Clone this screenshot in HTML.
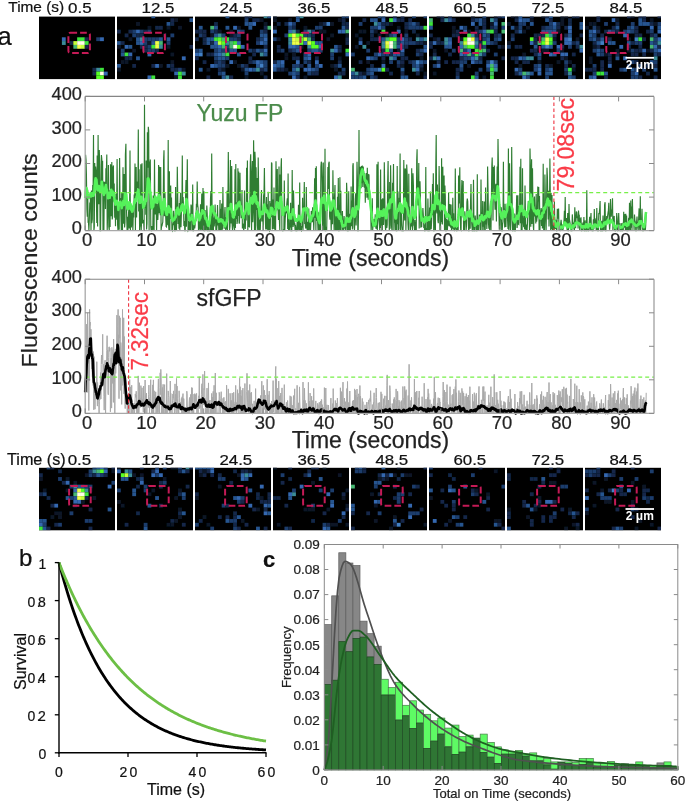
<!DOCTYPE html><html><head><meta charset="utf-8"><style>html,body{margin:0;padding:0;background:#fff;width:685px;height:802px;overflow:hidden} svg{display:block} text{font-family:'Liberation Sans', Arial, Helvetica, sans-serif}</style></head><body>
<svg width="685" height="802" viewBox="0 0 685 802">
<rect width="685" height="802" fill="#fff"/>
<defs><filter id="pblur" x="-5%" y="-5%" width="110%" height="110%"><feGaussianBlur stdDeviation="0.45"/></filter></defs>
<clipPath id="cp1"><rect x="39" y="16.6" width="76" height="62.5"/></clipPath>
<rect x="39" y="16.6" width="76" height="62.5" fill="#000"/>
<g clip-path="url(#cp1)"><g filter="url(#pblur)">
<rect x="61.89" y="37.30" width="3.83" height="3.83" fill="#3468b0"/>
<rect x="77.15" y="37.30" width="3.83" height="3.83" fill="#3ee43c"/>
<rect x="80.97" y="37.30" width="3.83" height="3.83" fill="#3ee43c"/>
<rect x="84.78" y="37.30" width="3.83" height="3.83" fill="#122848"/>
<rect x="96.22" y="37.30" width="3.83" height="3.83" fill="#1c3c6c"/>
<rect x="100.04" y="37.30" width="3.83" height="3.83" fill="#3468b0"/>
<rect x="61.89" y="41.11" width="3.83" height="3.83" fill="#3a8c98"/>
<rect x="69.52" y="41.11" width="3.83" height="3.83" fill="#122848"/>
<rect x="73.34" y="41.11" width="3.83" height="3.83" fill="#c4ff3a"/>
<rect x="77.15" y="41.11" width="3.83" height="3.83" fill="#ffffe8"/>
<rect x="80.97" y="41.11" width="3.83" height="3.83" fill="#ffffe8"/>
<rect x="84.78" y="41.11" width="3.83" height="3.83" fill="#3ee43c"/>
<rect x="73.34" y="44.93" width="3.83" height="3.83" fill="#46b872"/>
<rect x="77.15" y="44.93" width="3.83" height="3.83" fill="#eeff4c"/>
<rect x="80.97" y="44.93" width="3.83" height="3.83" fill="#c4ff3a"/>
<rect x="84.78" y="44.93" width="3.83" height="3.83" fill="#122848"/>
<rect x="92.41" y="67.81" width="3.83" height="3.83" fill="#122848"/>
<rect x="96.22" y="67.81" width="3.83" height="3.83" fill="#3a8c98"/>
<rect x="100.04" y="67.81" width="3.83" height="3.83" fill="#3ee43c"/>
<rect x="92.41" y="71.63" width="3.83" height="3.83" fill="#122848"/>
<rect x="96.22" y="71.63" width="3.83" height="3.83" fill="#58ff26"/>
<rect x="100.04" y="71.63" width="3.83" height="3.83" fill="#ffffe8"/>
<rect x="103.86" y="71.63" width="3.83" height="3.83" fill="#3468b0"/>
<rect x="96.22" y="75.45" width="3.83" height="3.83" fill="#58ff26"/>
<rect x="100.04" y="75.45" width="3.83" height="3.83" fill="#58ff26"/>
</g></g>
<rect x="68.40" y="32.80" width="21.50" height="20.30" rx="2" fill="none" stroke="#c41a56" stroke-width="2" stroke-dasharray="6.7 3"/>

<clipPath id="cp2"><rect x="117" y="16.6" width="76" height="62.5"/></clipPath>
<rect x="117" y="16.6" width="76" height="62.5" fill="#000"/>
<g clip-path="url(#cp2)"><g filter="url(#pblur)">
<rect x="151.34" y="14.41" width="3.83" height="3.83" fill="#27548f"/>
<rect x="170.41" y="18.22" width="3.83" height="3.83" fill="#122848"/>
<rect x="174.22" y="18.22" width="3.83" height="3.83" fill="#0a1628"/>
<rect x="189.49" y="18.22" width="3.83" height="3.83" fill="#27548f"/>
<rect x="136.07" y="22.04" width="3.83" height="3.83" fill="#0a1628"/>
<rect x="166.59" y="22.04" width="3.83" height="3.83" fill="#27548f"/>
<rect x="170.41" y="22.04" width="3.83" height="3.83" fill="#122848"/>
<rect x="147.52" y="25.85" width="3.83" height="3.83" fill="#0a1628"/>
<rect x="155.15" y="25.85" width="3.83" height="3.83" fill="#122848"/>
<rect x="158.97" y="25.85" width="3.83" height="3.83" fill="#122848"/>
<rect x="166.59" y="25.85" width="3.83" height="3.83" fill="#0a1628"/>
<rect x="178.04" y="25.85" width="3.83" height="3.83" fill="#0a1628"/>
<rect x="117.00" y="29.67" width="3.83" height="3.83" fill="#122848"/>
<rect x="128.44" y="29.67" width="3.83" height="3.83" fill="#122848"/>
<rect x="132.26" y="29.67" width="3.83" height="3.83" fill="#1c3c6c"/>
<rect x="136.07" y="29.67" width="3.83" height="3.83" fill="#3468b0"/>
<rect x="139.89" y="29.67" width="3.83" height="3.83" fill="#1c3c6c"/>
<rect x="143.70" y="29.67" width="3.83" height="3.83" fill="#122848"/>
<rect x="147.52" y="29.67" width="3.83" height="3.83" fill="#1c3c6c"/>
<rect x="124.63" y="33.48" width="3.83" height="3.83" fill="#122848"/>
<rect x="132.26" y="33.48" width="3.83" height="3.83" fill="#1c3c6c"/>
<rect x="136.07" y="33.48" width="3.83" height="3.83" fill="#122848"/>
<rect x="139.89" y="33.48" width="3.83" height="3.83" fill="#122848"/>
<rect x="162.78" y="33.48" width="3.83" height="3.83" fill="#0a1628"/>
<rect x="170.41" y="33.48" width="3.83" height="3.83" fill="#1c3c6c"/>
<rect x="128.44" y="37.30" width="3.83" height="3.83" fill="#0a1628"/>
<rect x="136.07" y="37.30" width="3.83" height="3.83" fill="#27548f"/>
<rect x="139.89" y="37.30" width="3.83" height="3.83" fill="#3a8c98"/>
<rect x="143.70" y="37.30" width="3.83" height="3.83" fill="#1c3c6c"/>
<rect x="147.52" y="37.30" width="3.83" height="3.83" fill="#1c3c6c"/>
<rect x="151.34" y="37.30" width="3.83" height="3.83" fill="#1c3c6c"/>
<rect x="155.15" y="37.30" width="3.83" height="3.83" fill="#1c3c6c"/>
<rect x="158.97" y="37.30" width="3.83" height="3.83" fill="#27548f"/>
<rect x="166.59" y="37.30" width="3.83" height="3.83" fill="#27548f"/>
<rect x="117.00" y="41.11" width="3.83" height="3.83" fill="#27548f"/>
<rect x="120.81" y="41.11" width="3.83" height="3.83" fill="#122848"/>
<rect x="136.07" y="41.11" width="3.83" height="3.83" fill="#27548f"/>
<rect x="139.89" y="41.11" width="3.83" height="3.83" fill="#3468b0"/>
<rect x="143.70" y="41.11" width="3.83" height="3.83" fill="#1c3c6c"/>
<rect x="147.52" y="41.11" width="3.83" height="3.83" fill="#0a1628"/>
<rect x="151.34" y="41.11" width="3.83" height="3.83" fill="#27548f"/>
<rect x="155.15" y="41.11" width="3.83" height="3.83" fill="#eeff4c"/>
<rect x="158.97" y="41.11" width="3.83" height="3.83" fill="#46b872"/>
<rect x="166.59" y="41.11" width="3.83" height="3.83" fill="#1c3c6c"/>
<rect x="117.00" y="44.93" width="3.83" height="3.83" fill="#0a1628"/>
<rect x="124.63" y="44.93" width="3.83" height="3.83" fill="#3468b0"/>
<rect x="128.44" y="44.93" width="3.83" height="3.83" fill="#27548f"/>
<rect x="139.89" y="44.93" width="3.83" height="3.83" fill="#122848"/>
<rect x="143.70" y="44.93" width="3.83" height="3.83" fill="#122848"/>
<rect x="147.52" y="44.93" width="3.83" height="3.83" fill="#1c3c6c"/>
<rect x="151.34" y="44.93" width="3.83" height="3.83" fill="#3ee43c"/>
<rect x="155.15" y="44.93" width="3.83" height="3.83" fill="#eeff4c"/>
<rect x="158.97" y="44.93" width="3.83" height="3.83" fill="#3a8c98"/>
<rect x="166.59" y="44.93" width="3.83" height="3.83" fill="#0a1628"/>
<rect x="189.49" y="44.93" width="3.83" height="3.83" fill="#122848"/>
<rect x="120.81" y="48.74" width="3.83" height="3.83" fill="#1c3c6c"/>
<rect x="132.26" y="48.74" width="3.83" height="3.83" fill="#0a1628"/>
<rect x="143.70" y="48.74" width="3.83" height="3.83" fill="#122848"/>
<rect x="147.52" y="48.74" width="3.83" height="3.83" fill="#1c3c6c"/>
<rect x="151.34" y="48.74" width="3.83" height="3.83" fill="#1c3c6c"/>
<rect x="155.15" y="48.74" width="3.83" height="3.83" fill="#122848"/>
<rect x="120.81" y="52.55" width="3.83" height="3.83" fill="#27548f"/>
<rect x="124.63" y="52.55" width="3.83" height="3.83" fill="#3ee43c"/>
<rect x="128.44" y="52.55" width="3.83" height="3.83" fill="#3468b0"/>
<rect x="147.52" y="52.55" width="3.83" height="3.83" fill="#3468b0"/>
<rect x="170.41" y="52.55" width="3.83" height="3.83" fill="#0a1628"/>
<rect x="124.63" y="56.37" width="3.83" height="3.83" fill="#122848"/>
<rect x="128.44" y="56.37" width="3.83" height="3.83" fill="#122848"/>
<rect x="136.07" y="56.37" width="3.83" height="3.83" fill="#27548f"/>
<rect x="181.86" y="56.37" width="3.83" height="3.83" fill="#3468b0"/>
<rect x="120.81" y="60.19" width="3.83" height="3.83" fill="#0a1628"/>
<rect x="124.63" y="60.19" width="3.83" height="3.83" fill="#0a1628"/>
<rect x="170.41" y="60.19" width="3.83" height="3.83" fill="#0a1628"/>
<rect x="117.00" y="64.00" width="3.83" height="3.83" fill="#27548f"/>
<rect x="132.26" y="64.00" width="3.83" height="3.83" fill="#122848"/>
<rect x="151.34" y="64.00" width="3.83" height="3.83" fill="#122848"/>
<rect x="155.15" y="64.00" width="3.83" height="3.83" fill="#3468b0"/>
<rect x="158.97" y="64.00" width="3.83" height="3.83" fill="#0a1628"/>
<rect x="166.59" y="64.00" width="3.83" height="3.83" fill="#1c3c6c"/>
<rect x="170.41" y="64.00" width="3.83" height="3.83" fill="#122848"/>
<rect x="117.00" y="67.81" width="3.83" height="3.83" fill="#0a1628"/>
<rect x="170.41" y="67.81" width="3.83" height="3.83" fill="#122848"/>
<rect x="174.22" y="67.81" width="3.83" height="3.83" fill="#122848"/>
<rect x="178.04" y="67.81" width="3.83" height="3.83" fill="#1c3c6c"/>
<rect x="181.86" y="67.81" width="3.83" height="3.83" fill="#0a1628"/>
<rect x="174.22" y="71.63" width="3.83" height="3.83" fill="#3468b0"/>
<rect x="178.04" y="71.63" width="3.83" height="3.83" fill="#3ee43c"/>
<rect x="181.86" y="71.63" width="3.83" height="3.83" fill="#3a8c98"/>
<rect x="147.52" y="75.45" width="3.83" height="3.83" fill="#3468b0"/>
<rect x="151.34" y="75.45" width="3.83" height="3.83" fill="#3ee43c"/>
<rect x="174.22" y="75.45" width="3.83" height="3.83" fill="#0a1628"/>
<rect x="178.04" y="75.45" width="3.83" height="3.83" fill="#3ee43c"/>
</g></g>
<rect x="143.40" y="32.80" width="21.50" height="20.30" rx="2" fill="none" stroke="#c41a56" stroke-width="2" stroke-dasharray="6.7 3"/>
<text x="158.0" y="13.4" font-size="15.2" textLength="32.8" lengthAdjust="spacingAndGlyphs" text-anchor="middle" fill="#111" stroke="#111" stroke-width="0.22">12.5</text>
<clipPath id="cp3"><rect x="195" y="16.6" width="76" height="62.5"/></clipPath>
<rect x="195" y="16.6" width="76" height="62.5" fill="#000"/>
<g clip-path="url(#cp3)"><g filter="url(#pblur)">
<rect x="225.52" y="14.41" width="3.83" height="3.83" fill="#27548f"/>
<rect x="244.59" y="14.41" width="3.83" height="3.83" fill="#122848"/>
<rect x="248.41" y="14.41" width="3.83" height="3.83" fill="#122848"/>
<rect x="263.67" y="14.41" width="3.83" height="3.83" fill="#3a8c98"/>
<rect x="267.49" y="14.41" width="3.83" height="3.83" fill="#27548f"/>
<rect x="244.59" y="18.22" width="3.83" height="3.83" fill="#1c3c6c"/>
<rect x="252.22" y="18.22" width="3.83" height="3.83" fill="#122848"/>
<rect x="256.04" y="18.22" width="3.83" height="3.83" fill="#122848"/>
<rect x="259.86" y="18.22" width="3.83" height="3.83" fill="#0a1628"/>
<rect x="214.07" y="22.04" width="3.83" height="3.83" fill="#122848"/>
<rect x="244.59" y="22.04" width="3.83" height="3.83" fill="#27548f"/>
<rect x="248.41" y="22.04" width="3.83" height="3.83" fill="#27548f"/>
<rect x="252.22" y="22.04" width="3.83" height="3.83" fill="#3468b0"/>
<rect x="263.67" y="22.04" width="3.83" height="3.83" fill="#0a1628"/>
<rect x="198.81" y="25.85" width="3.83" height="3.83" fill="#27548f"/>
<rect x="210.26" y="25.85" width="3.83" height="3.83" fill="#46b872"/>
<rect x="214.07" y="25.85" width="3.83" height="3.83" fill="#27548f"/>
<rect x="225.52" y="25.85" width="3.83" height="3.83" fill="#27548f"/>
<rect x="233.15" y="25.85" width="3.83" height="3.83" fill="#3468b0"/>
<rect x="236.97" y="25.85" width="3.83" height="3.83" fill="#0a1628"/>
<rect x="248.41" y="25.85" width="3.83" height="3.83" fill="#27548f"/>
<rect x="263.67" y="25.85" width="3.83" height="3.83" fill="#122848"/>
<rect x="267.49" y="25.85" width="3.83" height="3.83" fill="#46b872"/>
<rect x="195.00" y="29.67" width="3.83" height="3.83" fill="#122848"/>
<rect x="198.81" y="29.67" width="3.83" height="3.83" fill="#122848"/>
<rect x="202.63" y="29.67" width="3.83" height="3.83" fill="#122848"/>
<rect x="210.26" y="29.67" width="3.83" height="3.83" fill="#1c3c6c"/>
<rect x="214.07" y="29.67" width="3.83" height="3.83" fill="#122848"/>
<rect x="217.89" y="29.67" width="3.83" height="3.83" fill="#0a1628"/>
<rect x="229.34" y="29.67" width="3.83" height="3.83" fill="#0a1628"/>
<rect x="236.97" y="29.67" width="3.83" height="3.83" fill="#27548f"/>
<rect x="240.78" y="29.67" width="3.83" height="3.83" fill="#1c3c6c"/>
<rect x="259.86" y="29.67" width="3.83" height="3.83" fill="#1c3c6c"/>
<rect x="263.67" y="29.67" width="3.83" height="3.83" fill="#122848"/>
<rect x="198.81" y="33.48" width="3.83" height="3.83" fill="#1c3c6c"/>
<rect x="202.63" y="33.48" width="3.83" height="3.83" fill="#122848"/>
<rect x="210.26" y="33.48" width="3.83" height="3.83" fill="#0a1628"/>
<rect x="214.07" y="33.48" width="3.83" height="3.83" fill="#27548f"/>
<rect x="217.89" y="33.48" width="3.83" height="3.83" fill="#3a8c98"/>
<rect x="221.70" y="33.48" width="3.83" height="3.83" fill="#1c3c6c"/>
<rect x="229.34" y="33.48" width="3.83" height="3.83" fill="#0a1628"/>
<rect x="233.15" y="33.48" width="3.83" height="3.83" fill="#122848"/>
<rect x="236.97" y="33.48" width="3.83" height="3.83" fill="#1c3c6c"/>
<rect x="259.86" y="33.48" width="3.83" height="3.83" fill="#27548f"/>
<rect x="263.67" y="33.48" width="3.83" height="3.83" fill="#27548f"/>
<rect x="195.00" y="37.30" width="3.83" height="3.83" fill="#122848"/>
<rect x="202.63" y="37.30" width="3.83" height="3.83" fill="#122848"/>
<rect x="206.44" y="37.30" width="3.83" height="3.83" fill="#27548f"/>
<rect x="210.26" y="37.30" width="3.83" height="3.83" fill="#27548f"/>
<rect x="214.07" y="37.30" width="3.83" height="3.83" fill="#3ee43c"/>
<rect x="217.89" y="37.30" width="3.83" height="3.83" fill="#58ff26"/>
<rect x="221.70" y="37.30" width="3.83" height="3.83" fill="#46b872"/>
<rect x="225.52" y="37.30" width="3.83" height="3.83" fill="#3ee43c"/>
<rect x="229.34" y="37.30" width="3.83" height="3.83" fill="#1c3c6c"/>
<rect x="233.15" y="37.30" width="3.83" height="3.83" fill="#1c3c6c"/>
<rect x="236.97" y="37.30" width="3.83" height="3.83" fill="#122848"/>
<rect x="256.04" y="37.30" width="3.83" height="3.83" fill="#122848"/>
<rect x="259.86" y="37.30" width="3.83" height="3.83" fill="#1c3c6c"/>
<rect x="263.67" y="37.30" width="3.83" height="3.83" fill="#3468b0"/>
<rect x="202.63" y="41.11" width="3.83" height="3.83" fill="#122848"/>
<rect x="206.44" y="41.11" width="3.83" height="3.83" fill="#27548f"/>
<rect x="210.26" y="41.11" width="3.83" height="3.83" fill="#122848"/>
<rect x="214.07" y="41.11" width="3.83" height="3.83" fill="#3468b0"/>
<rect x="217.89" y="41.11" width="3.83" height="3.83" fill="#c4ff3a"/>
<rect x="221.70" y="41.11" width="3.83" height="3.83" fill="#58ff26"/>
<rect x="225.52" y="41.11" width="3.83" height="3.83" fill="#3a8c98"/>
<rect x="229.34" y="41.11" width="3.83" height="3.83" fill="#46b872"/>
<rect x="233.15" y="41.11" width="3.83" height="3.83" fill="#3ee43c"/>
<rect x="236.97" y="41.11" width="3.83" height="3.83" fill="#3468b0"/>
<rect x="256.04" y="41.11" width="3.83" height="3.83" fill="#1c3c6c"/>
<rect x="259.86" y="41.11" width="3.83" height="3.83" fill="#3468b0"/>
<rect x="263.67" y="41.11" width="3.83" height="3.83" fill="#27548f"/>
<rect x="210.26" y="44.93" width="3.83" height="3.83" fill="#27548f"/>
<rect x="214.07" y="44.93" width="3.83" height="3.83" fill="#27548f"/>
<rect x="217.89" y="44.93" width="3.83" height="3.83" fill="#3468b0"/>
<rect x="221.70" y="44.93" width="3.83" height="3.83" fill="#46b872"/>
<rect x="225.52" y="44.93" width="3.83" height="3.83" fill="#1c3c6c"/>
<rect x="229.34" y="44.93" width="3.83" height="3.83" fill="#46b872"/>
<rect x="233.15" y="44.93" width="3.83" height="3.83" fill="#ffffe8"/>
<rect x="236.97" y="44.93" width="3.83" height="3.83" fill="#58ff26"/>
<rect x="240.78" y="44.93" width="3.83" height="3.83" fill="#3468b0"/>
<rect x="263.67" y="44.93" width="3.83" height="3.83" fill="#122848"/>
<rect x="195.00" y="48.74" width="3.83" height="3.83" fill="#1c3c6c"/>
<rect x="198.81" y="48.74" width="3.83" height="3.83" fill="#27548f"/>
<rect x="214.07" y="48.74" width="3.83" height="3.83" fill="#1c3c6c"/>
<rect x="217.89" y="48.74" width="3.83" height="3.83" fill="#27548f"/>
<rect x="221.70" y="48.74" width="3.83" height="3.83" fill="#1c3c6c"/>
<rect x="225.52" y="48.74" width="3.83" height="3.83" fill="#122848"/>
<rect x="229.34" y="48.74" width="3.83" height="3.83" fill="#27548f"/>
<rect x="233.15" y="48.74" width="3.83" height="3.83" fill="#27548f"/>
<rect x="248.41" y="48.74" width="3.83" height="3.83" fill="#1c3c6c"/>
<rect x="252.22" y="48.74" width="3.83" height="3.83" fill="#122848"/>
<rect x="256.04" y="48.74" width="3.83" height="3.83" fill="#27548f"/>
<rect x="259.86" y="48.74" width="3.83" height="3.83" fill="#1c3c6c"/>
<rect x="263.67" y="48.74" width="3.83" height="3.83" fill="#3468b0"/>
<rect x="195.00" y="52.55" width="3.83" height="3.83" fill="#3468b0"/>
<rect x="198.81" y="52.55" width="3.83" height="3.83" fill="#4380c4"/>
<rect x="206.44" y="52.55" width="3.83" height="3.83" fill="#122848"/>
<rect x="210.26" y="52.55" width="3.83" height="3.83" fill="#122848"/>
<rect x="214.07" y="52.55" width="3.83" height="3.83" fill="#27548f"/>
<rect x="217.89" y="52.55" width="3.83" height="3.83" fill="#3468b0"/>
<rect x="221.70" y="52.55" width="3.83" height="3.83" fill="#3a8c98"/>
<rect x="225.52" y="52.55" width="3.83" height="3.83" fill="#3ee43c"/>
<rect x="236.97" y="52.55" width="3.83" height="3.83" fill="#27548f"/>
<rect x="252.22" y="52.55" width="3.83" height="3.83" fill="#122848"/>
<rect x="259.86" y="52.55" width="3.83" height="3.83" fill="#3a8c98"/>
<rect x="263.67" y="52.55" width="3.83" height="3.83" fill="#27548f"/>
<rect x="195.00" y="56.37" width="3.83" height="3.83" fill="#122848"/>
<rect x="214.07" y="56.37" width="3.83" height="3.83" fill="#1c3c6c"/>
<rect x="217.89" y="56.37" width="3.83" height="3.83" fill="#27548f"/>
<rect x="221.70" y="56.37" width="3.83" height="3.83" fill="#27548f"/>
<rect x="225.52" y="56.37" width="3.83" height="3.83" fill="#1c3c6c"/>
<rect x="248.41" y="56.37" width="3.83" height="3.83" fill="#122848"/>
<rect x="202.63" y="60.19" width="3.83" height="3.83" fill="#122848"/>
<rect x="214.07" y="60.19" width="3.83" height="3.83" fill="#122848"/>
<rect x="217.89" y="60.19" width="3.83" height="3.83" fill="#1c3c6c"/>
<rect x="221.70" y="60.19" width="3.83" height="3.83" fill="#122848"/>
<rect x="229.34" y="60.19" width="3.83" height="3.83" fill="#3468b0"/>
<rect x="233.15" y="60.19" width="3.83" height="3.83" fill="#0a1628"/>
<rect x="248.41" y="60.19" width="3.83" height="3.83" fill="#122848"/>
<rect x="252.22" y="60.19" width="3.83" height="3.83" fill="#1c3c6c"/>
<rect x="256.04" y="60.19" width="3.83" height="3.83" fill="#3468b0"/>
<rect x="259.86" y="60.19" width="3.83" height="3.83" fill="#27548f"/>
<rect x="263.67" y="60.19" width="3.83" height="3.83" fill="#1c3c6c"/>
<rect x="210.26" y="64.00" width="3.83" height="3.83" fill="#3468b0"/>
<rect x="214.07" y="64.00" width="3.83" height="3.83" fill="#27548f"/>
<rect x="217.89" y="64.00" width="3.83" height="3.83" fill="#1c3c6c"/>
<rect x="221.70" y="64.00" width="3.83" height="3.83" fill="#1c3c6c"/>
<rect x="225.52" y="64.00" width="3.83" height="3.83" fill="#0a1628"/>
<rect x="236.97" y="64.00" width="3.83" height="3.83" fill="#0a1628"/>
<rect x="240.78" y="64.00" width="3.83" height="3.83" fill="#1c3c6c"/>
<rect x="244.59" y="64.00" width="3.83" height="3.83" fill="#122848"/>
<rect x="256.04" y="64.00" width="3.83" height="3.83" fill="#27548f"/>
<rect x="259.86" y="64.00" width="3.83" height="3.83" fill="#4380c4"/>
<rect x="263.67" y="64.00" width="3.83" height="3.83" fill="#1c3c6c"/>
<rect x="198.81" y="67.81" width="3.83" height="3.83" fill="#27548f"/>
<rect x="206.44" y="67.81" width="3.83" height="3.83" fill="#0a1628"/>
<rect x="217.89" y="67.81" width="3.83" height="3.83" fill="#122848"/>
<rect x="221.70" y="67.81" width="3.83" height="3.83" fill="#0a1628"/>
<rect x="240.78" y="67.81" width="3.83" height="3.83" fill="#0a1628"/>
<rect x="244.59" y="67.81" width="3.83" height="3.83" fill="#27548f"/>
<rect x="248.41" y="67.81" width="3.83" height="3.83" fill="#3468b0"/>
<rect x="252.22" y="67.81" width="3.83" height="3.83" fill="#27548f"/>
<rect x="256.04" y="67.81" width="3.83" height="3.83" fill="#3a8c98"/>
<rect x="259.86" y="67.81" width="3.83" height="3.83" fill="#122848"/>
<rect x="263.67" y="67.81" width="3.83" height="3.83" fill="#1c3c6c"/>
<rect x="217.89" y="71.63" width="3.83" height="3.83" fill="#1c3c6c"/>
<rect x="221.70" y="71.63" width="3.83" height="3.83" fill="#27548f"/>
<rect x="244.59" y="71.63" width="3.83" height="3.83" fill="#1c3c6c"/>
<rect x="259.86" y="71.63" width="3.83" height="3.83" fill="#0a1628"/>
<rect x="206.44" y="75.45" width="3.83" height="3.83" fill="#122848"/>
<rect x="221.70" y="75.45" width="3.83" height="3.83" fill="#27548f"/>
<rect x="225.52" y="75.45" width="3.83" height="3.83" fill="#3a8c98"/>
<rect x="229.34" y="75.45" width="3.83" height="3.83" fill="#122848"/>
<rect x="244.59" y="75.45" width="3.83" height="3.83" fill="#0a1628"/>
<rect x="263.67" y="75.45" width="3.83" height="3.83" fill="#122848"/>
</g></g>
<rect x="226.00" y="32.80" width="21.50" height="20.30" rx="2" fill="none" stroke="#c41a56" stroke-width="2" stroke-dasharray="6.7 3"/>
<text x="236.0" y="13.4" font-size="15.2" textLength="32.8" lengthAdjust="spacingAndGlyphs" text-anchor="middle" fill="#111" stroke="#111" stroke-width="0.22">24.5</text>
<clipPath id="cp4"><rect x="273" y="16.6" width="76" height="62.5"/></clipPath>
<rect x="273" y="16.6" width="76" height="62.5" fill="#000"/>
<g clip-path="url(#cp4)"><g filter="url(#pblur)">
<rect x="273.00" y="14.41" width="3.83" height="3.83" fill="#0a1628"/>
<rect x="295.89" y="14.41" width="3.83" height="3.83" fill="#27548f"/>
<rect x="299.70" y="14.41" width="3.83" height="3.83" fill="#3a8c98"/>
<rect x="341.67" y="14.41" width="3.83" height="3.83" fill="#1c3c6c"/>
<rect x="345.49" y="14.41" width="3.83" height="3.83" fill="#1c3c6c"/>
<rect x="273.00" y="18.22" width="3.83" height="3.83" fill="#0a1628"/>
<rect x="288.26" y="18.22" width="3.83" height="3.83" fill="#0a1628"/>
<rect x="295.89" y="18.22" width="3.83" height="3.83" fill="#27548f"/>
<rect x="337.86" y="18.22" width="3.83" height="3.83" fill="#0a1628"/>
<rect x="341.67" y="18.22" width="3.83" height="3.83" fill="#122848"/>
<rect x="276.81" y="22.04" width="3.83" height="3.83" fill="#122848"/>
<rect x="284.44" y="22.04" width="3.83" height="3.83" fill="#122848"/>
<rect x="288.26" y="22.04" width="3.83" height="3.83" fill="#3468b0"/>
<rect x="292.07" y="22.04" width="3.83" height="3.83" fill="#1c3c6c"/>
<rect x="318.78" y="22.04" width="3.83" height="3.83" fill="#0a1628"/>
<rect x="322.60" y="22.04" width="3.83" height="3.83" fill="#122848"/>
<rect x="326.41" y="22.04" width="3.83" height="3.83" fill="#4380c4"/>
<rect x="330.23" y="22.04" width="3.83" height="3.83" fill="#0a1628"/>
<rect x="341.67" y="22.04" width="3.83" height="3.83" fill="#122848"/>
<rect x="345.49" y="22.04" width="3.83" height="3.83" fill="#122848"/>
<rect x="273.00" y="25.85" width="3.83" height="3.83" fill="#0a1628"/>
<rect x="288.26" y="25.85" width="3.83" height="3.83" fill="#1c3c6c"/>
<rect x="292.07" y="25.85" width="3.83" height="3.83" fill="#122848"/>
<rect x="303.52" y="25.85" width="3.83" height="3.83" fill="#0a1628"/>
<rect x="314.96" y="25.85" width="3.83" height="3.83" fill="#1c3c6c"/>
<rect x="318.78" y="25.85" width="3.83" height="3.83" fill="#1c3c6c"/>
<rect x="341.67" y="25.85" width="3.83" height="3.83" fill="#27548f"/>
<rect x="345.49" y="25.85" width="3.83" height="3.83" fill="#122848"/>
<rect x="273.00" y="29.67" width="3.83" height="3.83" fill="#3468b0"/>
<rect x="288.26" y="29.67" width="3.83" height="3.83" fill="#3468b0"/>
<rect x="292.07" y="29.67" width="3.83" height="3.83" fill="#3a8c98"/>
<rect x="295.89" y="29.67" width="3.83" height="3.83" fill="#122848"/>
<rect x="303.52" y="29.67" width="3.83" height="3.83" fill="#1c3c6c"/>
<rect x="307.33" y="29.67" width="3.83" height="3.83" fill="#3a8c98"/>
<rect x="311.15" y="29.67" width="3.83" height="3.83" fill="#1c3c6c"/>
<rect x="318.78" y="29.67" width="3.83" height="3.83" fill="#0a1628"/>
<rect x="322.60" y="29.67" width="3.83" height="3.83" fill="#0a1628"/>
<rect x="337.86" y="29.67" width="3.83" height="3.83" fill="#3468b0"/>
<rect x="341.67" y="29.67" width="3.83" height="3.83" fill="#3468b0"/>
<rect x="345.49" y="29.67" width="3.83" height="3.83" fill="#46b872"/>
<rect x="284.44" y="33.48" width="3.83" height="3.83" fill="#1c3c6c"/>
<rect x="288.26" y="33.48" width="3.83" height="3.83" fill="#58ff26"/>
<rect x="292.07" y="33.48" width="3.83" height="3.83" fill="#eeff4c"/>
<rect x="295.89" y="33.48" width="3.83" height="3.83" fill="#58ff26"/>
<rect x="299.70" y="33.48" width="3.83" height="3.83" fill="#58ff26"/>
<rect x="303.52" y="33.48" width="3.83" height="3.83" fill="#1c3c6c"/>
<rect x="307.33" y="33.48" width="3.83" height="3.83" fill="#1c3c6c"/>
<rect x="311.15" y="33.48" width="3.83" height="3.83" fill="#122848"/>
<rect x="330.23" y="33.48" width="3.83" height="3.83" fill="#0a1628"/>
<rect x="345.49" y="33.48" width="3.83" height="3.83" fill="#0a1628"/>
<rect x="273.00" y="37.30" width="3.83" height="3.83" fill="#1c3c6c"/>
<rect x="276.81" y="37.30" width="3.83" height="3.83" fill="#0a1628"/>
<rect x="288.26" y="37.30" width="3.83" height="3.83" fill="#3a8c98"/>
<rect x="292.07" y="37.30" width="3.83" height="3.83" fill="#eeff4c"/>
<rect x="295.89" y="37.30" width="3.83" height="3.83" fill="#c4ff3a"/>
<rect x="299.70" y="37.30" width="3.83" height="3.83" fill="#58ff26"/>
<rect x="303.52" y="37.30" width="3.83" height="3.83" fill="#c4ff3a"/>
<rect x="307.33" y="37.30" width="3.83" height="3.83" fill="#46b872"/>
<rect x="311.15" y="37.30" width="3.83" height="3.83" fill="#122848"/>
<rect x="326.41" y="37.30" width="3.83" height="3.83" fill="#0a1628"/>
<rect x="345.49" y="37.30" width="3.83" height="3.83" fill="#122848"/>
<rect x="288.26" y="41.11" width="3.83" height="3.83" fill="#3a8c98"/>
<rect x="292.07" y="41.11" width="3.83" height="3.83" fill="#eeff4c"/>
<rect x="295.89" y="41.11" width="3.83" height="3.83" fill="#eeff4c"/>
<rect x="299.70" y="41.11" width="3.83" height="3.83" fill="#58ff26"/>
<rect x="303.52" y="41.11" width="3.83" height="3.83" fill="#3468b0"/>
<rect x="307.33" y="41.11" width="3.83" height="3.83" fill="#c4ff3a"/>
<rect x="311.15" y="41.11" width="3.83" height="3.83" fill="#58ff26"/>
<rect x="314.96" y="41.11" width="3.83" height="3.83" fill="#27548f"/>
<rect x="318.78" y="41.11" width="3.83" height="3.83" fill="#27548f"/>
<rect x="345.49" y="41.11" width="3.83" height="3.83" fill="#122848"/>
<rect x="276.81" y="44.93" width="3.83" height="3.83" fill="#122848"/>
<rect x="288.26" y="44.93" width="3.83" height="3.83" fill="#3468b0"/>
<rect x="292.07" y="44.93" width="3.83" height="3.83" fill="#3468b0"/>
<rect x="295.89" y="44.93" width="3.83" height="3.83" fill="#27548f"/>
<rect x="299.70" y="44.93" width="3.83" height="3.83" fill="#0a1628"/>
<rect x="307.33" y="44.93" width="3.83" height="3.83" fill="#3a8c98"/>
<rect x="311.15" y="44.93" width="3.83" height="3.83" fill="#58ff26"/>
<rect x="314.96" y="44.93" width="3.83" height="3.83" fill="#58ff26"/>
<rect x="318.78" y="44.93" width="3.83" height="3.83" fill="#3468b0"/>
<rect x="334.04" y="44.93" width="3.83" height="3.83" fill="#27548f"/>
<rect x="337.86" y="44.93" width="3.83" height="3.83" fill="#122848"/>
<rect x="276.81" y="48.74" width="3.83" height="3.83" fill="#122848"/>
<rect x="280.63" y="48.74" width="3.83" height="3.83" fill="#1c3c6c"/>
<rect x="288.26" y="48.74" width="3.83" height="3.83" fill="#122848"/>
<rect x="292.07" y="48.74" width="3.83" height="3.83" fill="#1c3c6c"/>
<rect x="295.89" y="48.74" width="3.83" height="3.83" fill="#27548f"/>
<rect x="307.33" y="48.74" width="3.83" height="3.83" fill="#1c3c6c"/>
<rect x="311.15" y="48.74" width="3.83" height="3.83" fill="#27548f"/>
<rect x="314.96" y="48.74" width="3.83" height="3.83" fill="#27548f"/>
<rect x="318.78" y="48.74" width="3.83" height="3.83" fill="#1c3c6c"/>
<rect x="330.23" y="48.74" width="3.83" height="3.83" fill="#3a8c98"/>
<rect x="334.04" y="48.74" width="3.83" height="3.83" fill="#3468b0"/>
<rect x="337.86" y="48.74" width="3.83" height="3.83" fill="#122848"/>
<rect x="345.49" y="48.74" width="3.83" height="3.83" fill="#3ee43c"/>
<rect x="284.44" y="52.55" width="3.83" height="3.83" fill="#0a1628"/>
<rect x="292.07" y="52.55" width="3.83" height="3.83" fill="#0a1628"/>
<rect x="303.52" y="52.55" width="3.83" height="3.83" fill="#1c3c6c"/>
<rect x="307.33" y="52.55" width="3.83" height="3.83" fill="#3468b0"/>
<rect x="330.23" y="52.55" width="3.83" height="3.83" fill="#1c3c6c"/>
<rect x="345.49" y="52.55" width="3.83" height="3.83" fill="#3468b0"/>
<rect x="284.44" y="56.37" width="3.83" height="3.83" fill="#0a1628"/>
<rect x="292.07" y="56.37" width="3.83" height="3.83" fill="#122848"/>
<rect x="295.89" y="56.37" width="3.83" height="3.83" fill="#122848"/>
<rect x="303.52" y="56.37" width="3.83" height="3.83" fill="#27548f"/>
<rect x="307.33" y="56.37" width="3.83" height="3.83" fill="#3468b0"/>
<rect x="314.96" y="56.37" width="3.83" height="3.83" fill="#122848"/>
<rect x="330.23" y="56.37" width="3.83" height="3.83" fill="#1c3c6c"/>
<rect x="337.86" y="56.37" width="3.83" height="3.83" fill="#0a1628"/>
<rect x="273.00" y="60.19" width="3.83" height="3.83" fill="#122848"/>
<rect x="276.81" y="60.19" width="3.83" height="3.83" fill="#27548f"/>
<rect x="280.63" y="60.19" width="3.83" height="3.83" fill="#3468b0"/>
<rect x="295.89" y="60.19" width="3.83" height="3.83" fill="#3468b0"/>
<rect x="303.52" y="60.19" width="3.83" height="3.83" fill="#1c3c6c"/>
<rect x="307.33" y="60.19" width="3.83" height="3.83" fill="#122848"/>
<rect x="314.96" y="60.19" width="3.83" height="3.83" fill="#3468b0"/>
<rect x="337.86" y="60.19" width="3.83" height="3.83" fill="#122848"/>
<rect x="273.00" y="64.00" width="3.83" height="3.83" fill="#3468b0"/>
<rect x="276.81" y="64.00" width="3.83" height="3.83" fill="#27548f"/>
<rect x="280.63" y="64.00" width="3.83" height="3.83" fill="#27548f"/>
<rect x="292.07" y="64.00" width="3.83" height="3.83" fill="#1c3c6c"/>
<rect x="295.89" y="64.00" width="3.83" height="3.83" fill="#1c3c6c"/>
<rect x="299.70" y="64.00" width="3.83" height="3.83" fill="#122848"/>
<rect x="307.33" y="64.00" width="3.83" height="3.83" fill="#27548f"/>
<rect x="314.96" y="64.00" width="3.83" height="3.83" fill="#1c3c6c"/>
<rect x="318.78" y="64.00" width="3.83" height="3.83" fill="#3468b0"/>
<rect x="330.23" y="64.00" width="3.83" height="3.83" fill="#0a1628"/>
<rect x="334.04" y="64.00" width="3.83" height="3.83" fill="#122848"/>
<rect x="337.86" y="64.00" width="3.83" height="3.83" fill="#27548f"/>
<rect x="273.00" y="67.81" width="3.83" height="3.83" fill="#27548f"/>
<rect x="276.81" y="67.81" width="3.83" height="3.83" fill="#122848"/>
<rect x="280.63" y="67.81" width="3.83" height="3.83" fill="#122848"/>
<rect x="284.44" y="67.81" width="3.83" height="3.83" fill="#0a1628"/>
<rect x="292.07" y="67.81" width="3.83" height="3.83" fill="#27548f"/>
<rect x="295.89" y="67.81" width="3.83" height="3.83" fill="#3a8c98"/>
<rect x="303.52" y="67.81" width="3.83" height="3.83" fill="#3468b0"/>
<rect x="307.33" y="67.81" width="3.83" height="3.83" fill="#3468b0"/>
<rect x="311.15" y="67.81" width="3.83" height="3.83" fill="#27548f"/>
<rect x="314.96" y="67.81" width="3.83" height="3.83" fill="#1c3c6c"/>
<rect x="334.04" y="67.81" width="3.83" height="3.83" fill="#0a1628"/>
<rect x="341.67" y="67.81" width="3.83" height="3.83" fill="#1c3c6c"/>
<rect x="288.26" y="71.63" width="3.83" height="3.83" fill="#1c3c6c"/>
<rect x="292.07" y="71.63" width="3.83" height="3.83" fill="#27548f"/>
<rect x="295.89" y="71.63" width="3.83" height="3.83" fill="#1c3c6c"/>
<rect x="307.33" y="71.63" width="3.83" height="3.83" fill="#1c3c6c"/>
<rect x="311.15" y="71.63" width="3.83" height="3.83" fill="#122848"/>
<rect x="314.96" y="71.63" width="3.83" height="3.83" fill="#122848"/>
<rect x="337.86" y="71.63" width="3.83" height="3.83" fill="#122848"/>
<rect x="341.67" y="71.63" width="3.83" height="3.83" fill="#122848"/>
<rect x="292.07" y="75.45" width="3.83" height="3.83" fill="#3468b0"/>
<rect x="295.89" y="75.45" width="3.83" height="3.83" fill="#122848"/>
<rect x="303.52" y="75.45" width="3.83" height="3.83" fill="#0a1628"/>
<rect x="334.04" y="75.45" width="3.83" height="3.83" fill="#3468b0"/>
<rect x="337.86" y="75.45" width="3.83" height="3.83" fill="#3a8c98"/>
</g></g>
<rect x="300.50" y="32.80" width="21.50" height="20.30" rx="2" fill="none" stroke="#c41a56" stroke-width="2" stroke-dasharray="6.7 3"/>
<text x="314.0" y="13.4" font-size="15.2" textLength="32.8" lengthAdjust="spacingAndGlyphs" text-anchor="middle" fill="#111" stroke="#111" stroke-width="0.22">36.5</text>
<clipPath id="cp5"><rect x="351" y="16.6" width="76" height="62.5"/></clipPath>
<rect x="351" y="16.6" width="76" height="62.5" fill="#000"/>
<g clip-path="url(#cp5)"><g filter="url(#pblur)">
<rect x="377.70" y="14.41" width="3.83" height="3.83" fill="#1c3c6c"/>
<rect x="381.52" y="14.41" width="3.83" height="3.83" fill="#1c3c6c"/>
<rect x="392.96" y="14.41" width="3.83" height="3.83" fill="#122848"/>
<rect x="400.60" y="14.41" width="3.83" height="3.83" fill="#122848"/>
<rect x="412.04" y="14.41" width="3.83" height="3.83" fill="#1c3c6c"/>
<rect x="423.49" y="14.41" width="3.83" height="3.83" fill="#1c3c6c"/>
<rect x="362.44" y="18.22" width="3.83" height="3.83" fill="#122848"/>
<rect x="370.07" y="18.22" width="3.83" height="3.83" fill="#27548f"/>
<rect x="373.89" y="18.22" width="3.83" height="3.83" fill="#27548f"/>
<rect x="381.52" y="18.22" width="3.83" height="3.83" fill="#3468b0"/>
<rect x="389.15" y="18.22" width="3.83" height="3.83" fill="#3ee43c"/>
<rect x="392.96" y="18.22" width="3.83" height="3.83" fill="#3468b0"/>
<rect x="396.78" y="18.22" width="3.83" height="3.83" fill="#122848"/>
<rect x="400.60" y="18.22" width="3.83" height="3.83" fill="#122848"/>
<rect x="408.23" y="18.22" width="3.83" height="3.83" fill="#122848"/>
<rect x="358.63" y="22.04" width="3.83" height="3.83" fill="#1c3c6c"/>
<rect x="373.89" y="22.04" width="3.83" height="3.83" fill="#3a8c98"/>
<rect x="377.70" y="22.04" width="3.83" height="3.83" fill="#27548f"/>
<rect x="381.52" y="22.04" width="3.83" height="3.83" fill="#122848"/>
<rect x="385.33" y="22.04" width="3.83" height="3.83" fill="#122848"/>
<rect x="389.15" y="22.04" width="3.83" height="3.83" fill="#0a1628"/>
<rect x="404.41" y="22.04" width="3.83" height="3.83" fill="#122848"/>
<rect x="408.23" y="22.04" width="3.83" height="3.83" fill="#1c3c6c"/>
<rect x="412.04" y="22.04" width="3.83" height="3.83" fill="#27548f"/>
<rect x="415.86" y="22.04" width="3.83" height="3.83" fill="#122848"/>
<rect x="370.07" y="25.85" width="3.83" height="3.83" fill="#1c3c6c"/>
<rect x="373.89" y="25.85" width="3.83" height="3.83" fill="#1c3c6c"/>
<rect x="377.70" y="25.85" width="3.83" height="3.83" fill="#3468b0"/>
<rect x="381.52" y="25.85" width="3.83" height="3.83" fill="#1c3c6c"/>
<rect x="396.78" y="25.85" width="3.83" height="3.83" fill="#0a1628"/>
<rect x="404.41" y="25.85" width="3.83" height="3.83" fill="#122848"/>
<rect x="408.23" y="25.85" width="3.83" height="3.83" fill="#1c3c6c"/>
<rect x="412.04" y="25.85" width="3.83" height="3.83" fill="#1c3c6c"/>
<rect x="415.86" y="25.85" width="3.83" height="3.83" fill="#1c3c6c"/>
<rect x="419.67" y="25.85" width="3.83" height="3.83" fill="#1c3c6c"/>
<rect x="423.49" y="25.85" width="3.83" height="3.83" fill="#3ee43c"/>
<rect x="358.63" y="29.67" width="3.83" height="3.83" fill="#0a1628"/>
<rect x="362.44" y="29.67" width="3.83" height="3.83" fill="#0a1628"/>
<rect x="370.07" y="29.67" width="3.83" height="3.83" fill="#1c3c6c"/>
<rect x="373.89" y="29.67" width="3.83" height="3.83" fill="#0a1628"/>
<rect x="381.52" y="29.67" width="3.83" height="3.83" fill="#3ee43c"/>
<rect x="396.78" y="29.67" width="3.83" height="3.83" fill="#3468b0"/>
<rect x="404.41" y="29.67" width="3.83" height="3.83" fill="#0a1628"/>
<rect x="412.04" y="29.67" width="3.83" height="3.83" fill="#122848"/>
<rect x="354.81" y="33.48" width="3.83" height="3.83" fill="#0a1628"/>
<rect x="370.07" y="33.48" width="3.83" height="3.83" fill="#122848"/>
<rect x="377.70" y="33.48" width="3.83" height="3.83" fill="#0a1628"/>
<rect x="385.33" y="33.48" width="3.83" height="3.83" fill="#0a1628"/>
<rect x="389.15" y="33.48" width="3.83" height="3.83" fill="#1c3c6c"/>
<rect x="392.96" y="33.48" width="3.83" height="3.83" fill="#27548f"/>
<rect x="404.41" y="33.48" width="3.83" height="3.83" fill="#1c3c6c"/>
<rect x="415.86" y="33.48" width="3.83" height="3.83" fill="#0a1628"/>
<rect x="358.63" y="37.30" width="3.83" height="3.83" fill="#122848"/>
<rect x="370.07" y="37.30" width="3.83" height="3.83" fill="#122848"/>
<rect x="373.89" y="37.30" width="3.83" height="3.83" fill="#122848"/>
<rect x="377.70" y="37.30" width="3.83" height="3.83" fill="#1c3c6c"/>
<rect x="381.52" y="37.30" width="3.83" height="3.83" fill="#27548f"/>
<rect x="385.33" y="37.30" width="3.83" height="3.83" fill="#46b872"/>
<rect x="389.15" y="37.30" width="3.83" height="3.83" fill="#58ff26"/>
<rect x="392.96" y="37.30" width="3.83" height="3.83" fill="#58ff26"/>
<rect x="396.78" y="37.30" width="3.83" height="3.83" fill="#1c3c6c"/>
<rect x="400.60" y="37.30" width="3.83" height="3.83" fill="#3468b0"/>
<rect x="404.41" y="37.30" width="3.83" height="3.83" fill="#1c3c6c"/>
<rect x="408.23" y="37.30" width="3.83" height="3.83" fill="#122848"/>
<rect x="415.86" y="37.30" width="3.83" height="3.83" fill="#3a8c98"/>
<rect x="419.67" y="37.30" width="3.83" height="3.83" fill="#27548f"/>
<rect x="423.49" y="37.30" width="3.83" height="3.83" fill="#3a8c98"/>
<rect x="358.63" y="41.11" width="3.83" height="3.83" fill="#3468b0"/>
<rect x="366.26" y="41.11" width="3.83" height="3.83" fill="#0a1628"/>
<rect x="381.52" y="41.11" width="3.83" height="3.83" fill="#3a8c98"/>
<rect x="385.33" y="41.11" width="3.83" height="3.83" fill="#eeff4c"/>
<rect x="389.15" y="41.11" width="3.83" height="3.83" fill="#ffffe8"/>
<rect x="392.96" y="41.11" width="3.83" height="3.83" fill="#46b872"/>
<rect x="396.78" y="41.11" width="3.83" height="3.83" fill="#1c3c6c"/>
<rect x="400.60" y="41.11" width="3.83" height="3.83" fill="#27548f"/>
<rect x="404.41" y="41.11" width="3.83" height="3.83" fill="#1c3c6c"/>
<rect x="408.23" y="41.11" width="3.83" height="3.83" fill="#1c3c6c"/>
<rect x="412.04" y="41.11" width="3.83" height="3.83" fill="#1c3c6c"/>
<rect x="415.86" y="41.11" width="3.83" height="3.83" fill="#122848"/>
<rect x="419.67" y="41.11" width="3.83" height="3.83" fill="#122848"/>
<rect x="423.49" y="41.11" width="3.83" height="3.83" fill="#0a1628"/>
<rect x="354.81" y="44.93" width="3.83" height="3.83" fill="#0a1628"/>
<rect x="362.44" y="44.93" width="3.83" height="3.83" fill="#3a8c98"/>
<rect x="381.52" y="44.93" width="3.83" height="3.83" fill="#3a8c98"/>
<rect x="385.33" y="44.93" width="3.83" height="3.83" fill="#c4ff3a"/>
<rect x="389.15" y="44.93" width="3.83" height="3.83" fill="#ffffe8"/>
<rect x="392.96" y="44.93" width="3.83" height="3.83" fill="#46b872"/>
<rect x="396.78" y="44.93" width="3.83" height="3.83" fill="#27548f"/>
<rect x="400.60" y="44.93" width="3.83" height="3.83" fill="#1c3c6c"/>
<rect x="404.41" y="44.93" width="3.83" height="3.83" fill="#122848"/>
<rect x="423.49" y="44.93" width="3.83" height="3.83" fill="#27548f"/>
<rect x="366.26" y="48.74" width="3.83" height="3.83" fill="#1c3c6c"/>
<rect x="381.52" y="48.74" width="3.83" height="3.83" fill="#122848"/>
<rect x="385.33" y="48.74" width="3.83" height="3.83" fill="#3ee43c"/>
<rect x="389.15" y="48.74" width="3.83" height="3.83" fill="#27548f"/>
<rect x="396.78" y="48.74" width="3.83" height="3.83" fill="#0a1628"/>
<rect x="400.60" y="48.74" width="3.83" height="3.83" fill="#3468b0"/>
<rect x="415.86" y="48.74" width="3.83" height="3.83" fill="#122848"/>
<rect x="419.67" y="48.74" width="3.83" height="3.83" fill="#1c3c6c"/>
<rect x="423.49" y="48.74" width="3.83" height="3.83" fill="#3468b0"/>
<rect x="351.00" y="52.55" width="3.83" height="3.83" fill="#1c3c6c"/>
<rect x="373.89" y="52.55" width="3.83" height="3.83" fill="#1c3c6c"/>
<rect x="377.70" y="52.55" width="3.83" height="3.83" fill="#3468b0"/>
<rect x="381.52" y="52.55" width="3.83" height="3.83" fill="#1c3c6c"/>
<rect x="385.33" y="52.55" width="3.83" height="3.83" fill="#1c3c6c"/>
<rect x="389.15" y="52.55" width="3.83" height="3.83" fill="#122848"/>
<rect x="392.96" y="52.55" width="3.83" height="3.83" fill="#27548f"/>
<rect x="396.78" y="52.55" width="3.83" height="3.83" fill="#27548f"/>
<rect x="400.60" y="52.55" width="3.83" height="3.83" fill="#1c3c6c"/>
<rect x="415.86" y="52.55" width="3.83" height="3.83" fill="#1c3c6c"/>
<rect x="419.67" y="52.55" width="3.83" height="3.83" fill="#122848"/>
<rect x="366.26" y="56.37" width="3.83" height="3.83" fill="#3468b0"/>
<rect x="370.07" y="56.37" width="3.83" height="3.83" fill="#27548f"/>
<rect x="373.89" y="56.37" width="3.83" height="3.83" fill="#1c3c6c"/>
<rect x="381.52" y="56.37" width="3.83" height="3.83" fill="#122848"/>
<rect x="389.15" y="56.37" width="3.83" height="3.83" fill="#3a8c98"/>
<rect x="392.96" y="56.37" width="3.83" height="3.83" fill="#27548f"/>
<rect x="400.60" y="56.37" width="3.83" height="3.83" fill="#122848"/>
<rect x="404.41" y="56.37" width="3.83" height="3.83" fill="#122848"/>
<rect x="419.67" y="56.37" width="3.83" height="3.83" fill="#0a1628"/>
<rect x="358.63" y="60.19" width="3.83" height="3.83" fill="#122848"/>
<rect x="366.26" y="60.19" width="3.83" height="3.83" fill="#0a1628"/>
<rect x="381.52" y="60.19" width="3.83" height="3.83" fill="#0a1628"/>
<rect x="389.15" y="60.19" width="3.83" height="3.83" fill="#1c3c6c"/>
<rect x="396.78" y="60.19" width="3.83" height="3.83" fill="#1c3c6c"/>
<rect x="400.60" y="60.19" width="3.83" height="3.83" fill="#122848"/>
<rect x="408.23" y="60.19" width="3.83" height="3.83" fill="#122848"/>
<rect x="412.04" y="60.19" width="3.83" height="3.83" fill="#1c3c6c"/>
<rect x="415.86" y="60.19" width="3.83" height="3.83" fill="#4380c4"/>
<rect x="419.67" y="60.19" width="3.83" height="3.83" fill="#27548f"/>
<rect x="423.49" y="60.19" width="3.83" height="3.83" fill="#1c3c6c"/>
<rect x="370.07" y="64.00" width="3.83" height="3.83" fill="#122848"/>
<rect x="381.52" y="64.00" width="3.83" height="3.83" fill="#3468b0"/>
<rect x="396.78" y="64.00" width="3.83" height="3.83" fill="#122848"/>
<rect x="400.60" y="64.00" width="3.83" height="3.83" fill="#0a1628"/>
<rect x="412.04" y="64.00" width="3.83" height="3.83" fill="#1c3c6c"/>
<rect x="415.86" y="64.00" width="3.83" height="3.83" fill="#27548f"/>
<rect x="419.67" y="64.00" width="3.83" height="3.83" fill="#122848"/>
<rect x="351.00" y="67.81" width="3.83" height="3.83" fill="#46b872"/>
<rect x="366.26" y="67.81" width="3.83" height="3.83" fill="#1c3c6c"/>
<rect x="370.07" y="67.81" width="3.83" height="3.83" fill="#27548f"/>
<rect x="373.89" y="67.81" width="3.83" height="3.83" fill="#27548f"/>
<rect x="377.70" y="67.81" width="3.83" height="3.83" fill="#4380c4"/>
<rect x="381.52" y="67.81" width="3.83" height="3.83" fill="#58ff26"/>
<rect x="385.33" y="67.81" width="3.83" height="3.83" fill="#122848"/>
<rect x="400.60" y="67.81" width="3.83" height="3.83" fill="#27548f"/>
<rect x="412.04" y="67.81" width="3.83" height="3.83" fill="#3a8c98"/>
<rect x="415.86" y="67.81" width="3.83" height="3.83" fill="#3468b0"/>
<rect x="419.67" y="67.81" width="3.83" height="3.83" fill="#0a1628"/>
<rect x="351.00" y="71.63" width="3.83" height="3.83" fill="#27548f"/>
<rect x="354.81" y="71.63" width="3.83" height="3.83" fill="#3a8c98"/>
<rect x="358.63" y="71.63" width="3.83" height="3.83" fill="#122848"/>
<rect x="362.44" y="71.63" width="3.83" height="3.83" fill="#0a1628"/>
<rect x="366.26" y="71.63" width="3.83" height="3.83" fill="#1c3c6c"/>
<rect x="370.07" y="71.63" width="3.83" height="3.83" fill="#27548f"/>
<rect x="389.15" y="71.63" width="3.83" height="3.83" fill="#122848"/>
<rect x="400.60" y="71.63" width="3.83" height="3.83" fill="#122848"/>
<rect x="415.86" y="71.63" width="3.83" height="3.83" fill="#122848"/>
<rect x="423.49" y="71.63" width="3.83" height="3.83" fill="#0a1628"/>
<rect x="351.00" y="75.45" width="3.83" height="3.83" fill="#1c3c6c"/>
<rect x="354.81" y="75.45" width="3.83" height="3.83" fill="#1c3c6c"/>
<rect x="358.63" y="75.45" width="3.83" height="3.83" fill="#1c3c6c"/>
<rect x="362.44" y="75.45" width="3.83" height="3.83" fill="#27548f"/>
<rect x="370.07" y="75.45" width="3.83" height="3.83" fill="#1c3c6c"/>
<rect x="373.89" y="75.45" width="3.83" height="3.83" fill="#122848"/>
<rect x="400.60" y="75.45" width="3.83" height="3.83" fill="#27548f"/>
<rect x="404.41" y="75.45" width="3.83" height="3.83" fill="#27548f"/>
<rect x="423.49" y="75.45" width="3.83" height="3.83" fill="#122848"/>
</g></g>
<rect x="379.70" y="32.80" width="21.50" height="20.30" rx="2" fill="none" stroke="#c41a56" stroke-width="2" stroke-dasharray="6.7 3"/>
<text x="392.0" y="13.4" font-size="15.2" textLength="32.8" lengthAdjust="spacingAndGlyphs" text-anchor="middle" fill="#111" stroke="#111" stroke-width="0.22">48.5</text>
<clipPath id="cp6"><rect x="429" y="16.6" width="76" height="62.5"/></clipPath>
<rect x="429" y="16.6" width="76" height="62.5" fill="#000"/>
<g clip-path="url(#cp6)"><g filter="url(#pblur)">
<rect x="436.63" y="14.41" width="3.83" height="3.83" fill="#0a1628"/>
<rect x="440.44" y="14.41" width="3.83" height="3.83" fill="#122848"/>
<rect x="448.07" y="14.41" width="3.83" height="3.83" fill="#122848"/>
<rect x="470.96" y="14.41" width="3.83" height="3.83" fill="#0a1628"/>
<rect x="482.41" y="14.41" width="3.83" height="3.83" fill="#1c3c6c"/>
<rect x="493.86" y="14.41" width="3.83" height="3.83" fill="#0a1628"/>
<rect x="497.67" y="14.41" width="3.83" height="3.83" fill="#122848"/>
<rect x="501.49" y="14.41" width="3.83" height="3.83" fill="#1c3c6c"/>
<rect x="429.00" y="18.22" width="3.83" height="3.83" fill="#46b872"/>
<rect x="440.44" y="18.22" width="3.83" height="3.83" fill="#122848"/>
<rect x="444.26" y="18.22" width="3.83" height="3.83" fill="#3a8c98"/>
<rect x="448.07" y="18.22" width="3.83" height="3.83" fill="#27548f"/>
<rect x="451.89" y="18.22" width="3.83" height="3.83" fill="#122848"/>
<rect x="470.96" y="18.22" width="3.83" height="3.83" fill="#122848"/>
<rect x="474.78" y="18.22" width="3.83" height="3.83" fill="#1c3c6c"/>
<rect x="478.60" y="18.22" width="3.83" height="3.83" fill="#27548f"/>
<rect x="482.41" y="18.22" width="3.83" height="3.83" fill="#122848"/>
<rect x="490.04" y="18.22" width="3.83" height="3.83" fill="#3a8c98"/>
<rect x="493.86" y="18.22" width="3.83" height="3.83" fill="#1c3c6c"/>
<rect x="429.00" y="22.04" width="3.83" height="3.83" fill="#3ee43c"/>
<rect x="470.96" y="22.04" width="3.83" height="3.83" fill="#3468b0"/>
<rect x="478.60" y="22.04" width="3.83" height="3.83" fill="#27548f"/>
<rect x="482.41" y="22.04" width="3.83" height="3.83" fill="#122848"/>
<rect x="490.04" y="22.04" width="3.83" height="3.83" fill="#0a1628"/>
<rect x="493.86" y="22.04" width="3.83" height="3.83" fill="#3468b0"/>
<rect x="501.49" y="22.04" width="3.83" height="3.83" fill="#46b872"/>
<rect x="429.00" y="25.85" width="3.83" height="3.83" fill="#27548f"/>
<rect x="451.89" y="25.85" width="3.83" height="3.83" fill="#0a1628"/>
<rect x="459.52" y="25.85" width="3.83" height="3.83" fill="#3468b0"/>
<rect x="463.33" y="25.85" width="3.83" height="3.83" fill="#1c3c6c"/>
<rect x="474.78" y="25.85" width="3.83" height="3.83" fill="#122848"/>
<rect x="482.41" y="25.85" width="3.83" height="3.83" fill="#122848"/>
<rect x="490.04" y="25.85" width="3.83" height="3.83" fill="#122848"/>
<rect x="493.86" y="25.85" width="3.83" height="3.83" fill="#1c3c6c"/>
<rect x="501.49" y="25.85" width="3.83" height="3.83" fill="#1c3c6c"/>
<rect x="451.89" y="29.67" width="3.83" height="3.83" fill="#0a1628"/>
<rect x="455.70" y="29.67" width="3.83" height="3.83" fill="#122848"/>
<rect x="463.33" y="29.67" width="3.83" height="3.83" fill="#3468b0"/>
<rect x="467.15" y="29.67" width="3.83" height="3.83" fill="#0a1628"/>
<rect x="474.78" y="29.67" width="3.83" height="3.83" fill="#122848"/>
<rect x="478.60" y="29.67" width="3.83" height="3.83" fill="#1c3c6c"/>
<rect x="482.41" y="29.67" width="3.83" height="3.83" fill="#3468b0"/>
<rect x="486.23" y="29.67" width="3.83" height="3.83" fill="#46b872"/>
<rect x="490.04" y="29.67" width="3.83" height="3.83" fill="#3ee43c"/>
<rect x="493.86" y="29.67" width="3.83" height="3.83" fill="#122848"/>
<rect x="501.49" y="29.67" width="3.83" height="3.83" fill="#46b872"/>
<rect x="429.00" y="33.48" width="3.83" height="3.83" fill="#122848"/>
<rect x="451.89" y="33.48" width="3.83" height="3.83" fill="#122848"/>
<rect x="455.70" y="33.48" width="3.83" height="3.83" fill="#122848"/>
<rect x="467.15" y="33.48" width="3.83" height="3.83" fill="#3ee43c"/>
<rect x="470.96" y="33.48" width="3.83" height="3.83" fill="#3a8c98"/>
<rect x="474.78" y="33.48" width="3.83" height="3.83" fill="#122848"/>
<rect x="482.41" y="33.48" width="3.83" height="3.83" fill="#27548f"/>
<rect x="486.23" y="33.48" width="3.83" height="3.83" fill="#1c3c6c"/>
<rect x="493.86" y="33.48" width="3.83" height="3.83" fill="#122848"/>
<rect x="497.67" y="33.48" width="3.83" height="3.83" fill="#1c3c6c"/>
<rect x="432.81" y="37.30" width="3.83" height="3.83" fill="#0a1628"/>
<rect x="436.63" y="37.30" width="3.83" height="3.83" fill="#122848"/>
<rect x="444.26" y="37.30" width="3.83" height="3.83" fill="#3a8c98"/>
<rect x="448.07" y="37.30" width="3.83" height="3.83" fill="#27548f"/>
<rect x="459.52" y="37.30" width="3.83" height="3.83" fill="#0a1628"/>
<rect x="463.33" y="37.30" width="3.83" height="3.83" fill="#58ff26"/>
<rect x="467.15" y="37.30" width="3.83" height="3.83" fill="#ffffe8"/>
<rect x="470.96" y="37.30" width="3.83" height="3.83" fill="#eeff4c"/>
<rect x="474.78" y="37.30" width="3.83" height="3.83" fill="#27548f"/>
<rect x="482.41" y="37.30" width="3.83" height="3.83" fill="#1c3c6c"/>
<rect x="486.23" y="37.30" width="3.83" height="3.83" fill="#27548f"/>
<rect x="493.86" y="37.30" width="3.83" height="3.83" fill="#1c3c6c"/>
<rect x="497.67" y="37.30" width="3.83" height="3.83" fill="#27548f"/>
<rect x="429.00" y="41.11" width="3.83" height="3.83" fill="#122848"/>
<rect x="432.81" y="41.11" width="3.83" height="3.83" fill="#3468b0"/>
<rect x="436.63" y="41.11" width="3.83" height="3.83" fill="#122848"/>
<rect x="440.44" y="41.11" width="3.83" height="3.83" fill="#122848"/>
<rect x="444.26" y="41.11" width="3.83" height="3.83" fill="#3a8c98"/>
<rect x="448.07" y="41.11" width="3.83" height="3.83" fill="#3468b0"/>
<rect x="459.52" y="41.11" width="3.83" height="3.83" fill="#3a8c98"/>
<rect x="463.33" y="41.11" width="3.83" height="3.83" fill="#c4ff3a"/>
<rect x="467.15" y="41.11" width="3.83" height="3.83" fill="#ffffe8"/>
<rect x="470.96" y="41.11" width="3.83" height="3.83" fill="#ffffe8"/>
<rect x="474.78" y="41.11" width="3.83" height="3.83" fill="#3a8c98"/>
<rect x="478.60" y="41.11" width="3.83" height="3.83" fill="#122848"/>
<rect x="482.41" y="41.11" width="3.83" height="3.83" fill="#3ee43c"/>
<rect x="486.23" y="41.11" width="3.83" height="3.83" fill="#27548f"/>
<rect x="490.04" y="41.11" width="3.83" height="3.83" fill="#1c3c6c"/>
<rect x="493.86" y="41.11" width="3.83" height="3.83" fill="#122848"/>
<rect x="429.00" y="44.93" width="3.83" height="3.83" fill="#122848"/>
<rect x="444.26" y="44.93" width="3.83" height="3.83" fill="#27548f"/>
<rect x="448.07" y="44.93" width="3.83" height="3.83" fill="#27548f"/>
<rect x="459.52" y="44.93" width="3.83" height="3.83" fill="#3468b0"/>
<rect x="463.33" y="44.93" width="3.83" height="3.83" fill="#46b872"/>
<rect x="467.15" y="44.93" width="3.83" height="3.83" fill="#58ff26"/>
<rect x="470.96" y="44.93" width="3.83" height="3.83" fill="#58ff26"/>
<rect x="474.78" y="44.93" width="3.83" height="3.83" fill="#27548f"/>
<rect x="478.60" y="44.93" width="3.83" height="3.83" fill="#122848"/>
<rect x="482.41" y="44.93" width="3.83" height="3.83" fill="#1c3c6c"/>
<rect x="497.67" y="44.93" width="3.83" height="3.83" fill="#122848"/>
<rect x="501.49" y="44.93" width="3.83" height="3.83" fill="#0a1628"/>
<rect x="432.81" y="48.74" width="3.83" height="3.83" fill="#0a1628"/>
<rect x="444.26" y="48.74" width="3.83" height="3.83" fill="#0a1628"/>
<rect x="451.89" y="48.74" width="3.83" height="3.83" fill="#1c3c6c"/>
<rect x="459.52" y="48.74" width="3.83" height="3.83" fill="#46b872"/>
<rect x="463.33" y="48.74" width="3.83" height="3.83" fill="#1c3c6c"/>
<rect x="467.15" y="48.74" width="3.83" height="3.83" fill="#3468b0"/>
<rect x="474.78" y="48.74" width="3.83" height="3.83" fill="#3ee43c"/>
<rect x="478.60" y="48.74" width="3.83" height="3.83" fill="#3ee43c"/>
<rect x="482.41" y="48.74" width="3.83" height="3.83" fill="#46b872"/>
<rect x="486.23" y="48.74" width="3.83" height="3.83" fill="#122848"/>
<rect x="432.81" y="52.55" width="3.83" height="3.83" fill="#122848"/>
<rect x="448.07" y="52.55" width="3.83" height="3.83" fill="#122848"/>
<rect x="459.52" y="52.55" width="3.83" height="3.83" fill="#3468b0"/>
<rect x="463.33" y="52.55" width="3.83" height="3.83" fill="#27548f"/>
<rect x="467.15" y="52.55" width="3.83" height="3.83" fill="#46b872"/>
<rect x="470.96" y="52.55" width="3.83" height="3.83" fill="#1c3c6c"/>
<rect x="474.78" y="52.55" width="3.83" height="3.83" fill="#3ee43c"/>
<rect x="478.60" y="52.55" width="3.83" height="3.83" fill="#3a8c98"/>
<rect x="482.41" y="52.55" width="3.83" height="3.83" fill="#1c3c6c"/>
<rect x="493.86" y="52.55" width="3.83" height="3.83" fill="#1c3c6c"/>
<rect x="429.00" y="56.37" width="3.83" height="3.83" fill="#122848"/>
<rect x="432.81" y="56.37" width="3.83" height="3.83" fill="#3a8c98"/>
<rect x="436.63" y="56.37" width="3.83" height="3.83" fill="#3468b0"/>
<rect x="459.52" y="56.37" width="3.83" height="3.83" fill="#122848"/>
<rect x="463.33" y="56.37" width="3.83" height="3.83" fill="#1c3c6c"/>
<rect x="467.15" y="56.37" width="3.83" height="3.83" fill="#1c3c6c"/>
<rect x="470.96" y="56.37" width="3.83" height="3.83" fill="#3468b0"/>
<rect x="474.78" y="56.37" width="3.83" height="3.83" fill="#3a8c98"/>
<rect x="478.60" y="56.37" width="3.83" height="3.83" fill="#122848"/>
<rect x="501.49" y="56.37" width="3.83" height="3.83" fill="#122848"/>
<rect x="436.63" y="60.19" width="3.83" height="3.83" fill="#122848"/>
<rect x="444.26" y="60.19" width="3.83" height="3.83" fill="#122848"/>
<rect x="451.89" y="60.19" width="3.83" height="3.83" fill="#122848"/>
<rect x="455.70" y="60.19" width="3.83" height="3.83" fill="#122848"/>
<rect x="459.52" y="60.19" width="3.83" height="3.83" fill="#1c3c6c"/>
<rect x="463.33" y="60.19" width="3.83" height="3.83" fill="#1c3c6c"/>
<rect x="470.96" y="60.19" width="3.83" height="3.83" fill="#3468b0"/>
<rect x="474.78" y="60.19" width="3.83" height="3.83" fill="#1c3c6c"/>
<rect x="478.60" y="60.19" width="3.83" height="3.83" fill="#1c3c6c"/>
<rect x="486.23" y="60.19" width="3.83" height="3.83" fill="#1c3c6c"/>
<rect x="490.04" y="60.19" width="3.83" height="3.83" fill="#4380c4"/>
<rect x="493.86" y="60.19" width="3.83" height="3.83" fill="#1c3c6c"/>
<rect x="432.81" y="64.00" width="3.83" height="3.83" fill="#1c3c6c"/>
<rect x="436.63" y="64.00" width="3.83" height="3.83" fill="#3468b0"/>
<rect x="459.52" y="64.00" width="3.83" height="3.83" fill="#27548f"/>
<rect x="467.15" y="64.00" width="3.83" height="3.83" fill="#0a1628"/>
<rect x="486.23" y="64.00" width="3.83" height="3.83" fill="#3468b0"/>
<rect x="490.04" y="64.00" width="3.83" height="3.83" fill="#46b872"/>
<rect x="493.86" y="64.00" width="3.83" height="3.83" fill="#3468b0"/>
<rect x="455.70" y="67.81" width="3.83" height="3.83" fill="#122848"/>
<rect x="459.52" y="67.81" width="3.83" height="3.83" fill="#1c3c6c"/>
<rect x="478.60" y="67.81" width="3.83" height="3.83" fill="#1c3c6c"/>
<rect x="486.23" y="67.81" width="3.83" height="3.83" fill="#1c3c6c"/>
<rect x="490.04" y="67.81" width="3.83" height="3.83" fill="#3ee43c"/>
<rect x="493.86" y="67.81" width="3.83" height="3.83" fill="#3a8c98"/>
<rect x="432.81" y="71.63" width="3.83" height="3.83" fill="#0a1628"/>
<rect x="455.70" y="71.63" width="3.83" height="3.83" fill="#122848"/>
<rect x="474.78" y="71.63" width="3.83" height="3.83" fill="#1c3c6c"/>
<rect x="490.04" y="71.63" width="3.83" height="3.83" fill="#46b872"/>
<rect x="455.70" y="75.45" width="3.83" height="3.83" fill="#1c3c6c"/>
<rect x="470.96" y="75.45" width="3.83" height="3.83" fill="#3ee43c"/>
<rect x="474.78" y="75.45" width="3.83" height="3.83" fill="#27548f"/>
<rect x="482.41" y="75.45" width="3.83" height="3.83" fill="#0a1628"/>
<rect x="490.04" y="75.45" width="3.83" height="3.83" fill="#3ee43c"/>
</g></g>
<rect x="458.80" y="32.80" width="21.50" height="20.30" rx="2" fill="none" stroke="#c41a56" stroke-width="2" stroke-dasharray="6.7 3"/>
<text x="470.0" y="13.4" font-size="15.2" textLength="32.8" lengthAdjust="spacingAndGlyphs" text-anchor="middle" fill="#111" stroke="#111" stroke-width="0.22">60.5</text>
<clipPath id="cp7"><rect x="507" y="16.6" width="76" height="62.5"/></clipPath>
<rect x="507" y="16.6" width="76" height="62.5" fill="#000"/>
<g clip-path="url(#cp7)"><g filter="url(#pblur)">
<rect x="510.81" y="14.41" width="3.83" height="3.83" fill="#0a1628"/>
<rect x="514.63" y="14.41" width="3.83" height="3.83" fill="#0a1628"/>
<rect x="518.45" y="14.41" width="3.83" height="3.83" fill="#27548f"/>
<rect x="529.89" y="14.41" width="3.83" height="3.83" fill="#122848"/>
<rect x="541.34" y="14.41" width="3.83" height="3.83" fill="#0a1628"/>
<rect x="545.15" y="14.41" width="3.83" height="3.83" fill="#122848"/>
<rect x="548.97" y="14.41" width="3.83" height="3.83" fill="#27548f"/>
<rect x="560.41" y="14.41" width="3.83" height="3.83" fill="#0a1628"/>
<rect x="564.23" y="14.41" width="3.83" height="3.83" fill="#0a1628"/>
<rect x="571.86" y="14.41" width="3.83" height="3.83" fill="#122848"/>
<rect x="575.67" y="14.41" width="3.83" height="3.83" fill="#122848"/>
<rect x="514.63" y="18.22" width="3.83" height="3.83" fill="#122848"/>
<rect x="518.45" y="18.22" width="3.83" height="3.83" fill="#3468b0"/>
<rect x="522.26" y="18.22" width="3.83" height="3.83" fill="#27548f"/>
<rect x="526.08" y="18.22" width="3.83" height="3.83" fill="#27548f"/>
<rect x="529.89" y="18.22" width="3.83" height="3.83" fill="#0a1628"/>
<rect x="545.15" y="18.22" width="3.83" height="3.83" fill="#27548f"/>
<rect x="548.97" y="18.22" width="3.83" height="3.83" fill="#122848"/>
<rect x="560.41" y="18.22" width="3.83" height="3.83" fill="#0a1628"/>
<rect x="568.04" y="18.22" width="3.83" height="3.83" fill="#122848"/>
<rect x="507.00" y="22.04" width="3.83" height="3.83" fill="#0a1628"/>
<rect x="518.45" y="22.04" width="3.83" height="3.83" fill="#1c3c6c"/>
<rect x="522.26" y="22.04" width="3.83" height="3.83" fill="#1c3c6c"/>
<rect x="529.89" y="22.04" width="3.83" height="3.83" fill="#27548f"/>
<rect x="548.97" y="22.04" width="3.83" height="3.83" fill="#1c3c6c"/>
<rect x="552.78" y="22.04" width="3.83" height="3.83" fill="#3468b0"/>
<rect x="556.60" y="22.04" width="3.83" height="3.83" fill="#122848"/>
<rect x="560.41" y="22.04" width="3.83" height="3.83" fill="#0a1628"/>
<rect x="568.04" y="22.04" width="3.83" height="3.83" fill="#122848"/>
<rect x="579.49" y="22.04" width="3.83" height="3.83" fill="#27548f"/>
<rect x="510.81" y="25.85" width="3.83" height="3.83" fill="#27548f"/>
<rect x="514.63" y="25.85" width="3.83" height="3.83" fill="#0a1628"/>
<rect x="518.45" y="25.85" width="3.83" height="3.83" fill="#1c3c6c"/>
<rect x="526.08" y="25.85" width="3.83" height="3.83" fill="#0a1628"/>
<rect x="541.34" y="25.85" width="3.83" height="3.83" fill="#122848"/>
<rect x="545.15" y="25.85" width="3.83" height="3.83" fill="#1c3c6c"/>
<rect x="548.97" y="25.85" width="3.83" height="3.83" fill="#1c3c6c"/>
<rect x="552.78" y="25.85" width="3.83" height="3.83" fill="#27548f"/>
<rect x="556.60" y="25.85" width="3.83" height="3.83" fill="#122848"/>
<rect x="564.23" y="25.85" width="3.83" height="3.83" fill="#122848"/>
<rect x="568.04" y="25.85" width="3.83" height="3.83" fill="#3468b0"/>
<rect x="579.49" y="25.85" width="3.83" height="3.83" fill="#27548f"/>
<rect x="514.63" y="29.67" width="3.83" height="3.83" fill="#122848"/>
<rect x="518.45" y="29.67" width="3.83" height="3.83" fill="#27548f"/>
<rect x="522.26" y="29.67" width="3.83" height="3.83" fill="#0a1628"/>
<rect x="541.34" y="29.67" width="3.83" height="3.83" fill="#27548f"/>
<rect x="545.15" y="29.67" width="3.83" height="3.83" fill="#27548f"/>
<rect x="548.97" y="29.67" width="3.83" height="3.83" fill="#27548f"/>
<rect x="552.78" y="29.67" width="3.83" height="3.83" fill="#27548f"/>
<rect x="556.60" y="29.67" width="3.83" height="3.83" fill="#0a1628"/>
<rect x="568.04" y="29.67" width="3.83" height="3.83" fill="#3468b0"/>
<rect x="510.81" y="33.48" width="3.83" height="3.83" fill="#122848"/>
<rect x="533.71" y="33.48" width="3.83" height="3.83" fill="#122848"/>
<rect x="537.52" y="33.48" width="3.83" height="3.83" fill="#122848"/>
<rect x="541.34" y="33.48" width="3.83" height="3.83" fill="#122848"/>
<rect x="545.15" y="33.48" width="3.83" height="3.83" fill="#3ee43c"/>
<rect x="548.97" y="33.48" width="3.83" height="3.83" fill="#3a8c98"/>
<rect x="552.78" y="33.48" width="3.83" height="3.83" fill="#122848"/>
<rect x="564.23" y="33.48" width="3.83" height="3.83" fill="#122848"/>
<rect x="568.04" y="33.48" width="3.83" height="3.83" fill="#27548f"/>
<rect x="579.49" y="33.48" width="3.83" height="3.83" fill="#122848"/>
<rect x="510.81" y="37.30" width="3.83" height="3.83" fill="#1c3c6c"/>
<rect x="529.89" y="37.30" width="3.83" height="3.83" fill="#58ff26"/>
<rect x="533.71" y="37.30" width="3.83" height="3.83" fill="#122848"/>
<rect x="541.34" y="37.30" width="3.83" height="3.83" fill="#46b872"/>
<rect x="545.15" y="37.30" width="3.83" height="3.83" fill="#eeff4c"/>
<rect x="548.97" y="37.30" width="3.83" height="3.83" fill="#58ff26"/>
<rect x="552.78" y="37.30" width="3.83" height="3.83" fill="#0a1628"/>
<rect x="564.23" y="37.30" width="3.83" height="3.83" fill="#3468b0"/>
<rect x="568.04" y="37.30" width="3.83" height="3.83" fill="#4380c4"/>
<rect x="575.67" y="37.30" width="3.83" height="3.83" fill="#0a1628"/>
<rect x="507.00" y="41.11" width="3.83" height="3.83" fill="#0a1628"/>
<rect x="529.89" y="41.11" width="3.83" height="3.83" fill="#3468b0"/>
<rect x="533.71" y="41.11" width="3.83" height="3.83" fill="#122848"/>
<rect x="537.52" y="41.11" width="3.83" height="3.83" fill="#46b872"/>
<rect x="541.34" y="41.11" width="3.83" height="3.83" fill="#58ff26"/>
<rect x="545.15" y="41.11" width="3.83" height="3.83" fill="#eeff4c"/>
<rect x="548.97" y="41.11" width="3.83" height="3.83" fill="#3ee43c"/>
<rect x="552.78" y="41.11" width="3.83" height="3.83" fill="#1c3c6c"/>
<rect x="564.23" y="41.11" width="3.83" height="3.83" fill="#3468b0"/>
<rect x="568.04" y="41.11" width="3.83" height="3.83" fill="#3468b0"/>
<rect x="571.86" y="41.11" width="3.83" height="3.83" fill="#122848"/>
<rect x="575.67" y="41.11" width="3.83" height="3.83" fill="#1c3c6c"/>
<rect x="507.00" y="44.93" width="3.83" height="3.83" fill="#1c3c6c"/>
<rect x="514.63" y="44.93" width="3.83" height="3.83" fill="#122848"/>
<rect x="518.45" y="44.93" width="3.83" height="3.83" fill="#122848"/>
<rect x="533.71" y="44.93" width="3.83" height="3.83" fill="#27548f"/>
<rect x="541.34" y="44.93" width="3.83" height="3.83" fill="#27548f"/>
<rect x="545.15" y="44.93" width="3.83" height="3.83" fill="#4380c4"/>
<rect x="548.97" y="44.93" width="3.83" height="3.83" fill="#27548f"/>
<rect x="556.60" y="44.93" width="3.83" height="3.83" fill="#3468b0"/>
<rect x="560.41" y="44.93" width="3.83" height="3.83" fill="#122848"/>
<rect x="568.04" y="44.93" width="3.83" height="3.83" fill="#1c3c6c"/>
<rect x="575.67" y="44.93" width="3.83" height="3.83" fill="#122848"/>
<rect x="579.49" y="44.93" width="3.83" height="3.83" fill="#3a8c98"/>
<rect x="529.89" y="48.74" width="3.83" height="3.83" fill="#122848"/>
<rect x="533.71" y="48.74" width="3.83" height="3.83" fill="#122848"/>
<rect x="541.34" y="48.74" width="3.83" height="3.83" fill="#0a1628"/>
<rect x="545.15" y="48.74" width="3.83" height="3.83" fill="#0a1628"/>
<rect x="556.60" y="48.74" width="3.83" height="3.83" fill="#1c3c6c"/>
<rect x="560.41" y="48.74" width="3.83" height="3.83" fill="#0a1628"/>
<rect x="579.49" y="48.74" width="3.83" height="3.83" fill="#3468b0"/>
<rect x="522.26" y="52.55" width="3.83" height="3.83" fill="#0a1628"/>
<rect x="533.71" y="52.55" width="3.83" height="3.83" fill="#122848"/>
<rect x="537.52" y="52.55" width="3.83" height="3.83" fill="#27548f"/>
<rect x="548.97" y="52.55" width="3.83" height="3.83" fill="#3468b0"/>
<rect x="552.78" y="52.55" width="3.83" height="3.83" fill="#27548f"/>
<rect x="560.41" y="52.55" width="3.83" height="3.83" fill="#3468b0"/>
<rect x="564.23" y="52.55" width="3.83" height="3.83" fill="#3468b0"/>
<rect x="571.86" y="52.55" width="3.83" height="3.83" fill="#122848"/>
<rect x="510.81" y="56.37" width="3.83" height="3.83" fill="#122848"/>
<rect x="514.63" y="56.37" width="3.83" height="3.83" fill="#122848"/>
<rect x="518.45" y="56.37" width="3.83" height="3.83" fill="#3468b0"/>
<rect x="522.26" y="56.37" width="3.83" height="3.83" fill="#27548f"/>
<rect x="526.08" y="56.37" width="3.83" height="3.83" fill="#3a8c98"/>
<rect x="529.89" y="56.37" width="3.83" height="3.83" fill="#3a8c98"/>
<rect x="537.52" y="56.37" width="3.83" height="3.83" fill="#1c3c6c"/>
<rect x="560.41" y="56.37" width="3.83" height="3.83" fill="#122848"/>
<rect x="564.23" y="56.37" width="3.83" height="3.83" fill="#0a1628"/>
<rect x="514.63" y="60.19" width="3.83" height="3.83" fill="#122848"/>
<rect x="522.26" y="60.19" width="3.83" height="3.83" fill="#122848"/>
<rect x="526.08" y="60.19" width="3.83" height="3.83" fill="#122848"/>
<rect x="537.52" y="60.19" width="3.83" height="3.83" fill="#0a1628"/>
<rect x="556.60" y="60.19" width="3.83" height="3.83" fill="#0a1628"/>
<rect x="564.23" y="60.19" width="3.83" height="3.83" fill="#1c3c6c"/>
<rect x="568.04" y="60.19" width="3.83" height="3.83" fill="#0a1628"/>
<rect x="518.45" y="64.00" width="3.83" height="3.83" fill="#0a1628"/>
<rect x="533.71" y="64.00" width="3.83" height="3.83" fill="#1c3c6c"/>
<rect x="537.52" y="64.00" width="3.83" height="3.83" fill="#27548f"/>
<rect x="545.15" y="64.00" width="3.83" height="3.83" fill="#122848"/>
<rect x="548.97" y="64.00" width="3.83" height="3.83" fill="#0a1628"/>
<rect x="564.23" y="64.00" width="3.83" height="3.83" fill="#122848"/>
<rect x="571.86" y="64.00" width="3.83" height="3.83" fill="#122848"/>
<rect x="514.63" y="67.81" width="3.83" height="3.83" fill="#3468b0"/>
<rect x="518.45" y="67.81" width="3.83" height="3.83" fill="#1c3c6c"/>
<rect x="533.71" y="67.81" width="3.83" height="3.83" fill="#1c3c6c"/>
<rect x="537.52" y="67.81" width="3.83" height="3.83" fill="#3468b0"/>
<rect x="545.15" y="67.81" width="3.83" height="3.83" fill="#1c3c6c"/>
<rect x="548.97" y="67.81" width="3.83" height="3.83" fill="#27548f"/>
<rect x="564.23" y="67.81" width="3.83" height="3.83" fill="#1c3c6c"/>
<rect x="568.04" y="67.81" width="3.83" height="3.83" fill="#3ee43c"/>
<rect x="571.86" y="67.81" width="3.83" height="3.83" fill="#0a1628"/>
<rect x="514.63" y="71.63" width="3.83" height="3.83" fill="#122848"/>
<rect x="518.45" y="71.63" width="3.83" height="3.83" fill="#27548f"/>
<rect x="522.26" y="71.63" width="3.83" height="3.83" fill="#46b872"/>
<rect x="526.08" y="71.63" width="3.83" height="3.83" fill="#3a8c98"/>
<rect x="529.89" y="71.63" width="3.83" height="3.83" fill="#27548f"/>
<rect x="537.52" y="71.63" width="3.83" height="3.83" fill="#3468b0"/>
<rect x="545.15" y="71.63" width="3.83" height="3.83" fill="#27548f"/>
<rect x="548.97" y="71.63" width="3.83" height="3.83" fill="#27548f"/>
<rect x="564.23" y="71.63" width="3.83" height="3.83" fill="#122848"/>
<rect x="568.04" y="71.63" width="3.83" height="3.83" fill="#3a8c98"/>
<rect x="522.26" y="75.45" width="3.83" height="3.83" fill="#3468b0"/>
<rect x="526.08" y="75.45" width="3.83" height="3.83" fill="#1c3c6c"/>
<rect x="545.15" y="75.45" width="3.83" height="3.83" fill="#1c3c6c"/>
<rect x="568.04" y="75.45" width="3.83" height="3.83" fill="#27548f"/>
<rect x="571.86" y="75.45" width="3.83" height="3.83" fill="#1c3c6c"/>
</g></g>
<rect x="539.70" y="32.80" width="21.50" height="20.30" rx="2" fill="none" stroke="#c41a56" stroke-width="2" stroke-dasharray="6.7 3"/>
<text x="548.0" y="13.4" font-size="15.2" textLength="32.8" lengthAdjust="spacingAndGlyphs" text-anchor="middle" fill="#111" stroke="#111" stroke-width="0.22">72.5</text>
<clipPath id="cp8"><rect x="585" y="16.6" width="76" height="62.5"/></clipPath>
<rect x="585" y="16.6" width="76" height="62.5" fill="#000"/>
<g clip-path="url(#cp8)"><g filter="url(#pblur)">
<rect x="596.45" y="14.41" width="3.83" height="3.83" fill="#122848"/>
<rect x="626.97" y="14.41" width="3.83" height="3.83" fill="#122848"/>
<rect x="630.78" y="14.41" width="3.83" height="3.83" fill="#0a1628"/>
<rect x="638.41" y="14.41" width="3.83" height="3.83" fill="#122848"/>
<rect x="642.23" y="14.41" width="3.83" height="3.83" fill="#122848"/>
<rect x="657.49" y="14.41" width="3.83" height="3.83" fill="#122848"/>
<rect x="596.45" y="18.22" width="3.83" height="3.83" fill="#122848"/>
<rect x="611.71" y="18.22" width="3.83" height="3.83" fill="#3468b0"/>
<rect x="615.52" y="18.22" width="3.83" height="3.83" fill="#0a1628"/>
<rect x="638.41" y="18.22" width="3.83" height="3.83" fill="#27548f"/>
<rect x="642.23" y="18.22" width="3.83" height="3.83" fill="#122848"/>
<rect x="649.86" y="18.22" width="3.83" height="3.83" fill="#0a1628"/>
<rect x="588.82" y="22.04" width="3.83" height="3.83" fill="#0a1628"/>
<rect x="592.63" y="22.04" width="3.83" height="3.83" fill="#0a1628"/>
<rect x="604.08" y="22.04" width="3.83" height="3.83" fill="#1c3c6c"/>
<rect x="615.52" y="22.04" width="3.83" height="3.83" fill="#122848"/>
<rect x="630.78" y="22.04" width="3.83" height="3.83" fill="#1c3c6c"/>
<rect x="638.41" y="22.04" width="3.83" height="3.83" fill="#27548f"/>
<rect x="642.23" y="22.04" width="3.83" height="3.83" fill="#27548f"/>
<rect x="646.04" y="22.04" width="3.83" height="3.83" fill="#27548f"/>
<rect x="649.86" y="22.04" width="3.83" height="3.83" fill="#122848"/>
<rect x="653.67" y="22.04" width="3.83" height="3.83" fill="#0a1628"/>
<rect x="657.49" y="22.04" width="3.83" height="3.83" fill="#1c3c6c"/>
<rect x="585.00" y="25.85" width="3.83" height="3.83" fill="#0a1628"/>
<rect x="592.63" y="25.85" width="3.83" height="3.83" fill="#1c3c6c"/>
<rect x="596.45" y="25.85" width="3.83" height="3.83" fill="#0a1628"/>
<rect x="611.71" y="25.85" width="3.83" height="3.83" fill="#122848"/>
<rect x="615.52" y="25.85" width="3.83" height="3.83" fill="#27548f"/>
<rect x="626.97" y="25.85" width="3.83" height="3.83" fill="#1c3c6c"/>
<rect x="630.78" y="25.85" width="3.83" height="3.83" fill="#27548f"/>
<rect x="634.60" y="25.85" width="3.83" height="3.83" fill="#122848"/>
<rect x="649.86" y="25.85" width="3.83" height="3.83" fill="#3468b0"/>
<rect x="657.49" y="25.85" width="3.83" height="3.83" fill="#27548f"/>
<rect x="588.82" y="29.67" width="3.83" height="3.83" fill="#27548f"/>
<rect x="592.63" y="29.67" width="3.83" height="3.83" fill="#3468b0"/>
<rect x="596.45" y="29.67" width="3.83" height="3.83" fill="#122848"/>
<rect x="604.08" y="29.67" width="3.83" height="3.83" fill="#122848"/>
<rect x="607.89" y="29.67" width="3.83" height="3.83" fill="#27548f"/>
<rect x="611.71" y="29.67" width="3.83" height="3.83" fill="#1c3c6c"/>
<rect x="615.52" y="29.67" width="3.83" height="3.83" fill="#122848"/>
<rect x="623.15" y="29.67" width="3.83" height="3.83" fill="#1c3c6c"/>
<rect x="626.97" y="29.67" width="3.83" height="3.83" fill="#27548f"/>
<rect x="630.78" y="29.67" width="3.83" height="3.83" fill="#1c3c6c"/>
<rect x="634.60" y="29.67" width="3.83" height="3.83" fill="#122848"/>
<rect x="646.04" y="29.67" width="3.83" height="3.83" fill="#122848"/>
<rect x="649.86" y="29.67" width="3.83" height="3.83" fill="#1c3c6c"/>
<rect x="657.49" y="29.67" width="3.83" height="3.83" fill="#3468b0"/>
<rect x="588.82" y="33.48" width="3.83" height="3.83" fill="#27548f"/>
<rect x="592.63" y="33.48" width="3.83" height="3.83" fill="#1c3c6c"/>
<rect x="600.26" y="33.48" width="3.83" height="3.83" fill="#122848"/>
<rect x="623.15" y="33.48" width="3.83" height="3.83" fill="#3468b0"/>
<rect x="634.60" y="33.48" width="3.83" height="3.83" fill="#122848"/>
<rect x="638.41" y="33.48" width="3.83" height="3.83" fill="#122848"/>
<rect x="649.86" y="33.48" width="3.83" height="3.83" fill="#122848"/>
<rect x="653.67" y="33.48" width="3.83" height="3.83" fill="#1c3c6c"/>
<rect x="588.82" y="37.30" width="3.83" height="3.83" fill="#1c3c6c"/>
<rect x="592.63" y="37.30" width="3.83" height="3.83" fill="#27548f"/>
<rect x="596.45" y="37.30" width="3.83" height="3.83" fill="#122848"/>
<rect x="600.26" y="37.30" width="3.83" height="3.83" fill="#27548f"/>
<rect x="607.89" y="37.30" width="3.83" height="3.83" fill="#122848"/>
<rect x="626.97" y="37.30" width="3.83" height="3.83" fill="#0a1628"/>
<rect x="634.60" y="37.30" width="3.83" height="3.83" fill="#4380c4"/>
<rect x="638.41" y="37.30" width="3.83" height="3.83" fill="#3ee43c"/>
<rect x="642.23" y="37.30" width="3.83" height="3.83" fill="#122848"/>
<rect x="649.86" y="37.30" width="3.83" height="3.83" fill="#46b872"/>
<rect x="653.67" y="37.30" width="3.83" height="3.83" fill="#1c3c6c"/>
<rect x="657.49" y="37.30" width="3.83" height="3.83" fill="#3468b0"/>
<rect x="592.63" y="41.11" width="3.83" height="3.83" fill="#122848"/>
<rect x="596.45" y="41.11" width="3.83" height="3.83" fill="#27548f"/>
<rect x="600.26" y="41.11" width="3.83" height="3.83" fill="#4380c4"/>
<rect x="607.89" y="41.11" width="3.83" height="3.83" fill="#27548f"/>
<rect x="611.71" y="41.11" width="3.83" height="3.83" fill="#27548f"/>
<rect x="626.97" y="41.11" width="3.83" height="3.83" fill="#27548f"/>
<rect x="630.78" y="41.11" width="3.83" height="3.83" fill="#122848"/>
<rect x="634.60" y="41.11" width="3.83" height="3.83" fill="#1c3c6c"/>
<rect x="638.41" y="41.11" width="3.83" height="3.83" fill="#1c3c6c"/>
<rect x="649.86" y="41.11" width="3.83" height="3.83" fill="#27548f"/>
<rect x="653.67" y="41.11" width="3.83" height="3.83" fill="#1c3c6c"/>
<rect x="657.49" y="41.11" width="3.83" height="3.83" fill="#3a8c98"/>
<rect x="592.63" y="44.93" width="3.83" height="3.83" fill="#0a1628"/>
<rect x="596.45" y="44.93" width="3.83" height="3.83" fill="#122848"/>
<rect x="619.34" y="44.93" width="3.83" height="3.83" fill="#3468b0"/>
<rect x="626.97" y="44.93" width="3.83" height="3.83" fill="#122848"/>
<rect x="638.41" y="44.93" width="3.83" height="3.83" fill="#122848"/>
<rect x="649.86" y="44.93" width="3.83" height="3.83" fill="#46b872"/>
<rect x="653.67" y="44.93" width="3.83" height="3.83" fill="#3468b0"/>
<rect x="657.49" y="44.93" width="3.83" height="3.83" fill="#122848"/>
<rect x="592.63" y="48.74" width="3.83" height="3.83" fill="#1c3c6c"/>
<rect x="596.45" y="48.74" width="3.83" height="3.83" fill="#27548f"/>
<rect x="600.26" y="48.74" width="3.83" height="3.83" fill="#1c3c6c"/>
<rect x="615.52" y="48.74" width="3.83" height="3.83" fill="#0a1628"/>
<rect x="626.97" y="48.74" width="3.83" height="3.83" fill="#0a1628"/>
<rect x="630.78" y="48.74" width="3.83" height="3.83" fill="#1c3c6c"/>
<rect x="634.60" y="48.74" width="3.83" height="3.83" fill="#122848"/>
<rect x="638.41" y="48.74" width="3.83" height="3.83" fill="#122848"/>
<rect x="642.23" y="48.74" width="3.83" height="3.83" fill="#3468b0"/>
<rect x="646.04" y="48.74" width="3.83" height="3.83" fill="#0a1628"/>
<rect x="649.86" y="48.74" width="3.83" height="3.83" fill="#122848"/>
<rect x="653.67" y="48.74" width="3.83" height="3.83" fill="#27548f"/>
<rect x="657.49" y="48.74" width="3.83" height="3.83" fill="#3468b0"/>
<rect x="596.45" y="52.55" width="3.83" height="3.83" fill="#27548f"/>
<rect x="600.26" y="52.55" width="3.83" height="3.83" fill="#1c3c6c"/>
<rect x="604.08" y="52.55" width="3.83" height="3.83" fill="#0a1628"/>
<rect x="607.89" y="52.55" width="3.83" height="3.83" fill="#122848"/>
<rect x="615.52" y="52.55" width="3.83" height="3.83" fill="#122848"/>
<rect x="630.78" y="52.55" width="3.83" height="3.83" fill="#122848"/>
<rect x="634.60" y="52.55" width="3.83" height="3.83" fill="#122848"/>
<rect x="642.23" y="52.55" width="3.83" height="3.83" fill="#122848"/>
<rect x="653.67" y="52.55" width="3.83" height="3.83" fill="#1c3c6c"/>
<rect x="657.49" y="52.55" width="3.83" height="3.83" fill="#122848"/>
<rect x="588.82" y="56.37" width="3.83" height="3.83" fill="#0a1628"/>
<rect x="607.89" y="56.37" width="3.83" height="3.83" fill="#122848"/>
<rect x="615.52" y="56.37" width="3.83" height="3.83" fill="#27548f"/>
<rect x="623.15" y="56.37" width="3.83" height="3.83" fill="#3468b0"/>
<rect x="653.67" y="56.37" width="3.83" height="3.83" fill="#3a8c98"/>
<rect x="588.82" y="60.19" width="3.83" height="3.83" fill="#0a1628"/>
<rect x="600.26" y="60.19" width="3.83" height="3.83" fill="#122848"/>
<rect x="607.89" y="60.19" width="3.83" height="3.83" fill="#122848"/>
<rect x="630.78" y="60.19" width="3.83" height="3.83" fill="#1c3c6c"/>
<rect x="634.60" y="60.19" width="3.83" height="3.83" fill="#122848"/>
<rect x="649.86" y="60.19" width="3.83" height="3.83" fill="#27548f"/>
<rect x="653.67" y="60.19" width="3.83" height="3.83" fill="#1c3c6c"/>
<rect x="592.63" y="64.00" width="3.83" height="3.83" fill="#1c3c6c"/>
<rect x="600.26" y="64.00" width="3.83" height="3.83" fill="#122848"/>
<rect x="607.89" y="64.00" width="3.83" height="3.83" fill="#3468b0"/>
<rect x="626.97" y="64.00" width="3.83" height="3.83" fill="#1c3c6c"/>
<rect x="638.41" y="64.00" width="3.83" height="3.83" fill="#1c3c6c"/>
<rect x="646.04" y="64.00" width="3.83" height="3.83" fill="#122848"/>
<rect x="653.67" y="64.00" width="3.83" height="3.83" fill="#122848"/>
<rect x="585.00" y="67.81" width="3.83" height="3.83" fill="#122848"/>
<rect x="588.82" y="67.81" width="3.83" height="3.83" fill="#122848"/>
<rect x="592.63" y="67.81" width="3.83" height="3.83" fill="#122848"/>
<rect x="600.26" y="67.81" width="3.83" height="3.83" fill="#122848"/>
<rect x="619.34" y="67.81" width="3.83" height="3.83" fill="#1c3c6c"/>
<rect x="623.15" y="67.81" width="3.83" height="3.83" fill="#27548f"/>
<rect x="630.78" y="67.81" width="3.83" height="3.83" fill="#27548f"/>
<rect x="634.60" y="67.81" width="3.83" height="3.83" fill="#1c3c6c"/>
<rect x="642.23" y="67.81" width="3.83" height="3.83" fill="#1c3c6c"/>
<rect x="653.67" y="67.81" width="3.83" height="3.83" fill="#27548f"/>
<rect x="592.63" y="71.63" width="3.83" height="3.83" fill="#1c3c6c"/>
<rect x="596.45" y="71.63" width="3.83" height="3.83" fill="#3ee43c"/>
<rect x="600.26" y="71.63" width="3.83" height="3.83" fill="#3ee43c"/>
<rect x="604.08" y="71.63" width="3.83" height="3.83" fill="#27548f"/>
<rect x="630.78" y="71.63" width="3.83" height="3.83" fill="#1c3c6c"/>
<rect x="634.60" y="71.63" width="3.83" height="3.83" fill="#3468b0"/>
<rect x="646.04" y="71.63" width="3.83" height="3.83" fill="#122848"/>
<rect x="588.82" y="75.45" width="3.83" height="3.83" fill="#27548f"/>
<rect x="592.63" y="75.45" width="3.83" height="3.83" fill="#3468b0"/>
<rect x="604.08" y="75.45" width="3.83" height="3.83" fill="#122848"/>
<rect x="630.78" y="75.45" width="3.83" height="3.83" fill="#1c3c6c"/>
<rect x="634.60" y="75.45" width="3.83" height="3.83" fill="#1c3c6c"/>
<rect x="638.41" y="75.45" width="3.83" height="3.83" fill="#122848"/>
<rect x="653.67" y="75.45" width="3.83" height="3.83" fill="#122848"/>
</g></g>
<rect x="606.30" y="32.80" width="21.50" height="20.30" rx="2" fill="none" stroke="#c41a56" stroke-width="2" stroke-dasharray="6.7 3"/>
<text x="626.0" y="13.4" font-size="15.2" textLength="32.8" lengthAdjust="spacingAndGlyphs" text-anchor="middle" fill="#111" stroke="#111" stroke-width="0.22">84.5</text>
<text x="8.3" y="12.2" font-size="15.4" fill="#111" stroke="#111" stroke-width="0.22">Time (s)</text>
<text x="68.0" y="13.4" font-size="15.2" textLength="23.6" lengthAdjust="spacingAndGlyphs" fill="#111" stroke="#111" stroke-width="0.22">0.5</text>
<text x="-2.6" y="44.6" font-size="25.5" fill="#111" stroke="#111" stroke-width="0.22">a</text>
<line x1="625.5" x2="654" y1="57.8" y2="57.8" stroke="#fff" stroke-width="1.8"/>
<text x="639.8" y="69.3" font-size="12" font-weight="bold" text-anchor="middle" fill="#fff">2 μm</text>
<polyline points="85.2,229.9 85.6,154.7 86.0,159.8 86.4,173.8 86.9,209.3 87.3,216.6 87.7,190.3 88.1,222.3 88.5,222.5 88.9,230.3 89.3,219.6 89.8,202.6 90.2,206.8 90.6,192.9 91.0,230.6 91.4,190.5 91.8,223.1 92.3,219.3 92.7,184.9 93.1,195.8 93.5,135.0 93.9,230.6 94.3,227.3 94.7,163.1 95.2,186.0 95.6,166.5 96.0,170.7 96.4,200.5 96.8,223.1 97.2,155.5 97.6,226.6 98.1,135.0 98.5,202.9 98.9,204.1 99.3,150.1 99.7,164.7 100.1,230.6 100.6,230.6 101.0,187.9 101.4,155.1 101.8,158.9 102.2,187.7 102.6,160.7 103.0,230.6 103.5,181.5 103.9,230.4 104.3,187.8 104.7,181.9 105.1,183.1 105.5,209.1 105.9,168.2 106.4,170.8 106.8,154.5 107.2,230.6 107.6,215.9 108.0,206.7 108.4,165.1 108.8,226.8 109.3,230.6 109.7,190.3 110.1,227.0 110.5,165.0 110.9,165.3 111.3,216.3 111.8,161.9 112.2,219.4 112.6,216.6 113.0,167.0 113.4,165.5 113.8,201.6 114.2,183.4 114.7,217.7 115.1,196.7 115.5,226.3 115.9,193.6 116.3,219.7 116.7,205.9 117.1,159.1 117.6,225.0 118.0,230.6 118.4,204.6 118.8,222.6 119.2,229.8 119.6,157.9 120.1,207.6 120.5,198.0 120.9,215.0 121.3,230.6 121.7,191.9 122.1,225.1 122.5,230.6 123.0,167.2 123.4,223.7 123.8,216.9 124.2,173.9 124.6,227.4 125.0,222.3 125.4,154.6 125.9,143.7 126.3,195.3 126.7,217.8 127.1,230.6 127.5,216.8 127.9,230.6 128.3,218.2 128.8,208.9 129.2,228.5 129.6,210.4 130.0,150.5 130.4,230.3 130.8,205.9 131.3,227.4 131.7,222.9 132.1,205.6 132.5,221.6 132.9,230.6 133.3,212.4 133.7,217.6 134.2,194.4 134.6,206.9 135.0,163.6 135.4,230.6 135.8,195.9 136.2,166.9 136.6,217.6 137.1,181.4 137.5,184.2 137.9,187.9 138.3,129.4 138.7,211.5 139.1,169.3 139.6,230.6 140.0,223.9 140.4,226.4 140.8,164.3 141.2,230.6 141.6,220.9 142.0,163.3 142.5,223.4 142.9,219.8 143.3,221.1 143.7,222.1 144.1,230.6 144.5,104.8 144.9,207.9 145.4,191.5 145.8,214.8 146.2,160.5 146.6,229.5 147.0,223.3 147.4,132.2 147.8,167.8 148.3,126.8 148.7,130.8 149.1,230.6 149.5,161.6 149.9,188.7 150.3,159.5 150.8,227.0 151.2,230.6 151.6,230.6 152.0,226.0 152.4,228.6 152.8,229.7 153.2,195.6 153.7,226.9 154.1,230.6 154.5,159.4 154.9,209.7 155.3,214.5 155.7,212.6 156.1,201.5 156.6,230.6 157.0,204.0 157.4,213.9 157.8,219.9 158.2,211.6 158.6,165.0 159.1,213.2 159.5,166.7 159.9,198.0 160.3,215.3 160.7,167.0 161.1,230.6 161.5,226.8 162.0,225.8 162.4,223.7 162.8,222.1 163.2,209.9 163.6,160.6 164.0,150.3 164.4,216.3 164.9,192.3 165.3,204.0 165.7,217.3 166.1,226.5 166.5,226.9 166.9,212.8 167.3,225.3 167.8,219.7 168.2,140.1 168.6,225.6 169.0,230.6 169.4,171.3 169.8,230.6 170.3,192.0 170.7,185.5 171.1,219.0 171.5,197.5 171.9,229.9 172.3,230.6 172.7,223.5 173.2,225.1 173.6,210.8 174.0,217.4 174.4,230.6 174.8,230.6 175.2,230.6 175.6,187.0 176.1,229.5 176.5,230.6 176.9,213.2 177.3,166.7 177.7,194.0 178.1,224.0 178.6,209.3 179.0,228.7 179.4,203.1 179.8,230.6 180.2,201.7 180.6,192.9 181.0,227.3 181.5,209.2 181.9,210.1 182.3,155.6 182.7,211.3 183.1,197.0 183.5,205.3 183.9,226.1 184.4,221.0 184.8,230.6 185.2,230.6 185.6,196.5 186.0,179.9 186.4,226.7 186.8,203.9 187.3,159.2 187.7,203.8 188.1,230.6 188.5,230.0 188.9,220.9 189.3,230.6 189.8,213.4 190.2,226.8 190.6,230.6 191.0,204.6 191.4,206.3 191.8,211.9 192.2,230.6 192.7,184.4 193.1,230.6 193.5,230.6 193.9,228.2 194.3,225.2 194.7,228.4 195.1,225.3 195.6,213.2 196.0,221.1 196.4,203.7 196.8,207.2 197.2,181.6 197.6,204.7 198.1,208.0 198.5,230.6 198.9,216.5 199.3,228.7 199.7,227.4 200.1,230.6 200.5,204.3 201.0,229.8 201.4,207.6 201.8,193.6 202.2,230.6 202.6,215.9 203.0,187.9 203.4,230.6 203.9,191.2 204.3,230.6 204.7,230.6 205.1,209.9 205.5,230.6 205.9,220.2 206.3,230.6 206.8,205.6 207.2,213.3 207.6,230.6 208.0,230.6 208.4,225.1 208.8,229.4 209.3,230.6 209.7,230.6 210.1,230.6 210.5,199.0 210.9,191.1 211.3,230.6 211.7,153.4 212.2,230.6 212.6,210.3 213.0,208.4 213.4,230.6 213.8,217.5 214.2,226.5 214.6,221.2 215.1,204.6 215.5,217.3 215.9,230.6 216.3,215.4 216.7,230.6 217.1,223.8 217.5,205.0 218.0,225.4 218.4,218.2 218.8,230.6 219.2,226.4 219.6,230.6 220.0,200.1 220.5,230.6 220.9,208.8 221.3,230.6 221.7,203.6 222.1,216.9 222.5,229.8 222.9,186.9 223.4,225.4 223.8,219.3 224.2,228.8 224.6,214.7 225.0,207.1 225.4,227.3 225.8,230.6 226.3,216.9 226.7,229.6 227.1,190.7 227.5,230.6 227.9,207.1 228.3,151.9 228.8,193.9 229.2,215.0 229.6,230.1 230.0,226.2 230.4,160.1 230.8,194.2 231.2,223.5 231.7,166.1 232.1,224.1 232.5,230.6 232.9,223.8 233.3,212.3 233.7,222.3 234.1,227.1 234.6,230.6 235.0,169.3 235.4,228.0 235.8,164.0 236.2,219.1 236.6,202.3 237.0,223.9 237.5,220.5 237.9,168.2 238.3,215.9 238.7,171.4 239.1,223.0 239.5,223.1 240.0,172.7 240.4,205.8 240.8,211.0 241.2,218.1 241.6,208.1 242.0,190.1 242.4,228.4 242.9,223.5 243.3,227.3 243.7,230.6 244.1,225.6 244.5,190.6 244.9,224.5 245.3,229.0 245.8,211.2 246.2,220.6 246.6,167.7 247.0,211.3 247.4,160.5 247.8,230.6 248.3,213.1 248.7,227.1 249.1,216.6 249.5,227.5 249.9,200.3 250.3,162.5 250.7,154.3 251.2,205.3 251.6,230.6 252.0,172.5 252.4,161.0 252.8,222.2 253.2,212.4 253.6,140.2 254.1,180.2 254.5,230.6 254.9,151.7 255.3,160.2 255.7,230.6 256.1,167.2 256.5,209.9 257.0,177.9 257.4,225.4 257.8,230.6 258.2,157.4 258.6,185.3 259.0,230.6 259.5,219.6 259.9,230.6 260.3,229.4 260.7,216.3 261.1,199.7 261.5,189.9 261.9,221.4 262.4,212.9 262.8,217.5 263.2,230.6 263.6,195.8 264.0,193.2 264.4,168.1 264.8,201.3 265.3,217.0 265.7,229.5 266.1,210.5 266.5,196.9 266.9,229.5 267.3,204.2 267.8,230.6 268.2,191.8 268.6,226.9 269.0,229.9 269.4,230.6 269.8,201.0 270.2,230.6 270.7,203.2 271.1,217.2 271.5,162.4 271.9,163.6 272.3,229.4 272.7,199.4 273.1,229.1 273.6,215.1 274.0,187.6 274.4,229.5 274.8,207.9 275.2,229.6 275.6,230.6 276.0,161.3 276.5,209.6 276.9,203.5 277.3,169.1 277.7,208.7 278.1,211.2 278.5,220.0 279.0,166.5 279.4,220.7 279.8,230.6 280.2,174.4 280.6,200.4 281.0,167.4 281.4,158.3 281.9,230.2 282.3,230.6 282.7,230.6 283.1,230.6 283.5,229.8 283.9,230.6 284.3,180.6 284.8,230.6 285.2,218.9 285.6,214.1 286.0,211.4 286.4,212.0 286.8,203.8 287.3,198.2 287.7,229.1 288.1,173.4 288.5,230.6 288.9,216.1 289.3,230.6 289.7,225.0 290.2,227.3 290.6,202.8 291.0,230.6 291.4,230.6 291.8,230.6 292.2,169.9 292.6,213.2 293.1,227.0 293.5,190.5 293.9,204.6 294.3,225.5 294.7,222.9 295.1,230.6 295.5,224.7 296.0,230.6 296.4,230.6 296.8,230.6 297.2,220.7 297.6,230.6 298.0,229.3 298.5,204.7 298.9,225.6 299.3,230.6 299.7,182.5 300.1,230.6 300.5,217.8 300.9,229.9 301.4,230.6 301.8,226.1 302.2,227.4 302.6,197.8 303.0,230.6 303.4,207.8 303.8,210.6 304.3,181.9 304.7,223.9 305.1,222.3 305.5,226.9 305.9,228.5 306.3,187.0 306.8,224.0 307.2,230.6 307.6,225.6 308.0,221.9 308.4,230.6 308.8,208.6 309.2,230.6 309.7,220.6 310.1,218.8 310.5,230.6 310.9,222.4 311.3,210.9 311.7,214.0 312.1,222.1 312.6,207.3 313.0,222.2 313.4,218.4 313.8,230.6 314.2,215.3 314.6,178.3 315.0,217.9 315.5,167.9 315.9,230.6 316.3,166.2 316.7,209.8 317.1,220.8 317.5,218.0 318.0,230.2 318.4,215.1 318.8,212.2 319.2,230.6 319.6,229.3 320.0,215.3 320.4,230.6 320.9,166.7 321.3,161.7 321.7,163.3 322.1,182.8 322.5,230.6 322.9,200.0 323.3,162.5 323.8,230.6 324.2,219.2 324.6,230.6 325.0,148.8 325.4,230.6 325.8,230.6 326.3,226.7 326.7,230.6 327.1,205.7 327.5,210.8 327.9,166.9 328.3,189.0 328.7,163.5 329.2,161.7 329.6,216.4 330.0,219.6 330.4,211.0 330.8,215.3 331.2,230.6 331.6,214.5 332.1,203.7 332.5,224.2 332.9,170.2 333.3,196.2 333.7,204.4 334.1,230.6 334.5,197.8 335.0,185.1 335.4,230.6 335.8,224.0 336.2,230.6 336.6,209.9 337.0,230.6 337.5,196.7 337.9,230.6 338.3,177.9 338.7,230.6 339.1,230.6 339.5,225.9 339.9,177.3 340.4,230.6 340.8,190.7 341.2,224.6 341.6,218.2 342.0,230.6 342.4,211.1 342.8,223.0 343.3,230.6 343.7,223.7 344.1,216.1 344.5,224.1 344.9,229.5 345.3,225.5 345.8,230.6 346.2,222.7 346.6,182.7 347.0,192.8 347.4,230.6 347.8,230.6 348.2,230.6 348.7,191.2 349.1,230.6 349.5,213.7 349.9,225.7 350.3,230.6 350.7,217.9 351.1,186.4 351.6,226.3 352.0,200.5 352.4,229.5 352.8,165.8 353.2,163.2 353.6,207.6 354.0,227.1 354.5,230.6 354.9,220.7 355.3,199.2 355.7,193.3 356.1,225.5 356.5,209.6 357.0,161.8 357.4,178.6 357.8,230.6 358.2,230.6 358.6,206.5 359.0,129.9 359.4,203.4 359.9,168.4 360.3,166.7 360.7,185.8 361.1,188.2 361.5,165.9 361.9,183.2 362.3,165.4 362.8,187.1 363.2,166.5 363.6,171.3 364.0,180.3 364.4,187.7 364.8,173.2 365.3,202.7 365.7,182.2 366.1,184.8 366.5,172.9 366.9,197.8 367.3,167.7 367.7,189.3 368.2,199.7 368.6,174.6 369.0,174.8 369.4,195.1 369.8,203.4 370.2,197.6 370.6,206.8 371.1,230.6 371.5,224.3 371.9,221.9 372.3,198.3 372.7,230.2 373.1,224.4 373.5,225.1 374.0,219.1 374.4,224.9 374.8,225.3 375.2,214.3 375.6,224.6 376.0,228.8 376.5,225.8 376.9,164.2 377.3,230.6 377.7,220.3 378.1,161.8 378.5,212.1 378.9,218.6 379.4,225.0 379.8,230.6 380.2,209.7 380.6,169.5 381.0,228.1 381.4,213.1 381.8,199.2 382.3,230.6 382.7,198.3 383.1,200.2 383.5,225.1 383.9,215.1 384.3,162.2 384.8,197.1 385.2,224.4 385.6,230.6 386.0,226.5 386.4,217.0 386.8,227.8 387.2,224.8 387.7,180.3 388.1,161.1 388.5,211.1 388.9,213.9 389.3,230.6 389.7,182.0 390.1,228.8 390.6,165.2 391.0,192.3 391.4,225.2 391.8,229.2 392.2,230.6 392.6,182.8 393.0,198.1 393.5,164.0 393.9,230.6 394.3,200.8 394.7,222.6 395.1,214.6 395.5,230.6 396.0,210.8 396.4,230.6 396.8,230.6 397.2,166.1 397.6,224.3 398.0,191.4 398.4,230.6 398.9,228.9 399.3,197.7 399.7,203.1 400.1,153.5 400.5,230.6 400.9,213.8 401.3,209.6 401.8,225.7 402.2,230.6 402.6,230.4 403.0,230.6 403.4,219.4 403.8,160.1 404.3,210.5 404.7,220.5 405.1,168.5 405.5,169.9 405.9,230.6 406.3,208.2 406.7,164.5 407.2,175.2 407.6,203.6 408.0,224.3 408.4,230.6 408.8,173.8 409.2,219.2 409.6,206.5 410.1,230.6 410.5,229.2 410.9,224.2 411.3,226.5 411.7,168.3 412.1,197.2 412.5,230.6 413.0,173.3 413.4,185.1 413.8,225.1 414.2,226.0 414.6,230.2 415.0,219.9 415.5,230.6 415.9,222.1 416.3,230.6 416.7,160.1 417.1,149.3 417.5,198.4 417.9,205.4 418.4,189.4 418.8,163.1 419.2,228.5 419.6,208.8 420.0,181.2 420.4,195.9 420.8,227.7 421.3,221.2 421.7,227.1 422.1,213.7 422.5,216.6 422.9,208.1 423.3,214.7 423.8,228.1 424.2,224.5 424.6,230.6 425.0,230.6 425.4,216.0 425.8,167.0 426.2,230.6 426.7,229.4 427.1,230.5 427.5,230.6 427.9,198.4 428.3,217.3 428.7,230.6 429.1,230.6 429.6,207.6 430.0,230.6 430.4,191.4 430.8,226.8 431.2,229.1 431.6,221.5 432.0,211.4 432.5,184.1 432.9,215.2 433.3,173.3 433.7,230.6 434.1,230.6 434.5,218.9 435.0,204.6 435.4,230.6 435.8,166.1 436.2,135.0 436.6,210.6 437.0,213.3 437.4,184.4 437.9,220.5 438.3,223.2 438.7,210.9 439.1,166.1 439.5,195.0 439.9,229.7 440.3,230.6 440.8,211.5 441.2,222.1 441.6,158.2 442.0,223.1 442.4,224.4 442.8,166.7 443.3,207.7 443.7,192.5 444.1,175.4 444.5,230.6 444.9,185.5 445.3,196.0 445.7,230.6 446.2,230.6 446.6,218.7 447.0,221.8 447.4,230.6 447.8,220.2 448.2,226.3 448.6,192.6 449.1,224.9 449.5,225.5 449.9,203.9 450.3,221.2 450.7,227.7 451.1,204.4 451.5,230.6 452.0,228.0 452.4,220.9 452.8,197.7 453.2,229.3 453.6,213.2 454.0,230.5 454.5,230.6 454.9,229.5 455.3,168.4 455.7,226.5 456.1,228.6 456.5,230.6 456.9,230.6 457.4,227.4 457.8,222.6 458.2,230.6 458.6,175.5 459.0,203.5 459.4,189.7 459.8,167.3 460.3,220.0 460.7,230.4 461.1,230.6 461.5,192.2 461.9,180.1 462.3,212.2 462.7,213.0 463.2,181.0 463.6,230.6 464.0,228.8 464.4,230.6 464.8,211.3 465.2,216.2 465.7,219.7 466.1,230.6 466.5,225.4 466.9,202.0 467.3,198.6 467.7,201.4 468.1,213.8 468.6,230.6 469.0,230.6 469.4,214.6 469.8,221.1 470.2,228.7 470.6,199.9 471.0,184.0 471.5,219.8 471.9,226.3 472.3,230.6 472.7,230.6 473.1,219.8 473.5,179.7 474.0,230.6 474.4,230.6 474.8,230.6 475.2,215.6 475.6,221.8 476.0,223.8 476.4,230.6 476.9,230.6 477.3,174.3 477.7,228.2 478.1,230.6 478.5,224.1 478.9,230.4 479.3,214.6 479.8,216.3 480.2,215.4 480.6,230.6 481.0,179.5 481.4,217.4 481.8,213.5 482.2,230.6 482.7,200.9 483.1,226.7 483.5,218.0 483.9,230.6 484.3,201.4 484.7,219.1 485.2,230.6 485.6,187.5 486.0,224.4 486.4,211.0 486.8,228.9 487.2,217.6 487.6,166.6 488.1,192.9 488.5,222.9 488.9,228.6 489.3,216.5 489.7,230.6 490.1,207.5 490.5,201.4 491.0,230.6 491.4,199.6 491.8,166.9 492.2,157.6 492.6,187.0 493.0,220.4 493.5,167.1 493.9,188.5 494.3,165.4 494.7,199.3 495.1,209.8 495.5,186.5 495.9,183.8 496.4,221.6 496.8,197.3 497.2,166.4 497.6,191.6 498.0,138.9 498.4,164.0 498.8,206.4 499.3,229.8 499.7,203.9 500.1,229.5 500.5,206.8 500.9,219.5 501.3,207.2 501.7,230.6 502.2,230.6 502.6,224.2 503.0,221.7 503.4,161.8 503.8,212.5 504.2,208.5 504.7,227.5 505.1,203.8 505.5,224.3 505.9,226.9 506.3,210.5 506.7,208.5 507.1,212.2 507.6,220.5 508.0,228.9 508.4,148.5 508.8,230.6 509.2,225.0 509.6,163.2 510.0,194.3 510.5,230.6 510.9,221.5 511.3,210.9 511.7,147.0 512.1,195.6 512.5,230.6 513.0,230.6 513.4,212.0 513.8,230.6 514.2,213.4 514.6,230.6 515.0,230.6 515.4,230.6 515.9,215.4 516.3,213.0 516.7,195.2 517.1,227.9 517.5,221.8 517.9,195.2 518.3,223.9 518.8,224.4 519.2,205.9 519.6,208.2 520.0,166.7 520.4,223.2 520.8,158.8 521.2,230.3 521.7,205.6 522.1,230.6 522.5,168.2 522.9,218.1 523.3,222.8 523.7,227.3 524.2,215.5 524.6,229.6 525.0,185.4 525.4,209.4 525.8,229.7 526.2,230.6 526.6,224.6 527.1,230.6 527.5,222.4 527.9,208.6 528.3,201.1 528.7,214.5 529.1,201.6 529.5,230.6 530.0,148.5 530.4,168.3 530.8,226.7 531.2,182.3 531.6,159.2 532.0,224.1 532.5,168.3 532.9,205.4 533.3,226.3 533.7,230.6 534.1,199.2 534.5,196.6 534.9,216.5 535.4,212.1 535.8,223.4 536.2,194.1 536.6,221.8 537.0,218.4 537.4,216.6 537.8,186.5 538.3,201.5 538.7,187.0 539.1,230.6 539.5,196.0 539.9,230.6 540.3,217.7 540.7,213.9 541.2,208.0 541.6,225.9 542.0,209.5 542.4,228.4 542.8,225.4 543.2,163.8 543.7,230.6 544.1,223.8 544.5,230.6 544.9,174.6 545.3,195.3 545.7,219.6 546.1,230.6 546.6,201.6 547.0,167.8 547.4,176.4 547.8,200.0 548.2,219.6 548.6,190.7 549.0,226.6 549.5,209.4 549.9,158.5 550.3,196.3 550.7,230.6 551.1,193.0 551.5,229.3 552.0,194.9 552.4,229.1 552.8,230.6 553.2,224.7 553.6,228.5 554.0,230.6 554.4,201.6 554.9,228.4 555.3,228.3 555.7,219.7 556.1,221.6 556.5,230.6 556.9,230.6 557.3,208.7 557.8,212.8 558.2,218.7 558.6,208.5 559.0,230.6 559.4,226.0 559.8,230.5 560.2,230.6 560.7,223.4 561.1,219.9 561.5,224.2 561.9,230.6 562.3,229.5 562.7,224.6 563.2,229.6 563.6,223.7 564.0,221.2 564.4,210.7 564.8,224.0 565.2,196.9 565.6,224.2 566.1,223.5 566.5,218.0 566.9,227.7 567.3,230.6 567.7,213.1 568.1,230.6 568.5,230.6 569.0,203.9 569.4,219.1 569.8,221.4 570.2,224.2 570.6,224.5 571.0,230.6 571.5,230.6 571.9,230.6 572.3,214.4 572.7,220.1 573.1,224.4 573.5,222.6 573.9,228.3 574.4,230.6 574.8,207.3 575.2,219.0 575.6,228.2 576.0,219.4 576.4,211.6 576.8,212.5 577.3,218.2 577.7,216.5 578.1,228.4 578.5,210.6 578.9,215.3 579.3,215.3 579.7,230.6 580.2,218.9 580.6,218.7 581.0,217.3 581.4,230.6 581.8,230.6 582.2,223.5 582.7,230.6 583.1,222.4 583.5,227.7 583.9,216.9 584.3,230.6 584.7,230.6 585.1,220.4 585.6,229.4 586.0,230.6 586.4,230.6 586.8,190.3 587.2,229.9 587.6,228.5 588.0,230.6 588.5,230.6 588.9,227.2 589.3,221.8 589.7,216.8 590.1,230.6 590.5,220.5 591.0,213.0 591.4,230.6 591.8,227.2 592.2,230.6 592.6,230.6 593.0,230.6 593.4,219.3 593.9,229.2 594.3,209.1 594.7,225.2 595.1,218.3 595.5,221.4 595.9,224.8 596.3,230.6 596.8,208.1 597.2,227.8 597.6,230.6 598.0,230.6 598.4,230.6 598.8,212.9 599.2,214.2 599.7,208.6 600.1,201.0 600.5,230.6 600.9,230.6 601.3,230.6 601.7,220.8 602.2,230.6 602.6,230.6 603.0,215.5 603.4,230.6 603.8,226.3 604.2,230.6 604.6,204.7 605.1,202.2 605.5,230.6 605.9,230.6 606.3,222.7 606.7,216.0 607.1,219.1 607.5,216.6 608.0,212.9 608.4,210.4 608.8,202.8 609.2,222.3 609.6,229.8 610.0,225.4 610.5,199.0 610.9,215.1 611.3,216.7 611.7,209.6 612.1,211.0 612.5,198.2 612.9,230.6 613.4,223.1 613.8,216.8 614.2,216.0 614.6,230.0 615.0,230.6 615.4,228.8 615.8,230.6 616.3,226.9 616.7,213.1 617.1,217.8 617.5,230.6 617.9,230.6 618.3,223.7 618.7,212.9 619.2,226.6 619.6,223.2 620.0,230.6 620.4,230.6 620.8,230.6 621.2,223.1 621.7,228.4 622.1,230.6 622.5,230.6 622.9,222.7 623.3,230.6 623.7,211.8 624.1,223.0 624.6,227.8 625.0,214.1 625.4,230.6 625.8,213.8 626.2,230.6 626.6,215.6 627.0,230.6 627.5,230.6 627.9,230.6 628.3,223.0 628.7,217.8 629.1,230.6 629.5,202.7 630.0,223.1 630.4,230.6 630.8,200.4 631.2,227.8 631.6,206.6 632.0,230.6 632.4,199.1 632.9,221.9 633.3,224.4 633.7,220.9 634.1,230.6 634.5,214.5 634.9,220.3 635.3,221.9 635.8,230.6 636.2,230.6 636.6,222.0 637.0,216.5 637.4,224.2 637.8,227.9 638.2,230.6 638.7,217.0 639.1,208.4 639.5,226.6 639.9,230.6 640.3,196.3 640.7,230.6 641.2,221.2 641.6,225.1 642.0,208.7 642.4,225.3 642.8,230.6 643.2,230.6 643.6,224.8 644.1,227.1 644.5,230.5 644.9,224.6 645.3,230.6 645.7,225.8 646.1,214.0" fill="none" stroke="#2f7d32" stroke-width="1.15" stroke-linejoin="miter"/>
<line x1="85.2" x2="654.0" y1="192.7" y2="192.7" stroke="#77f048" stroke-width="1.3" stroke-dasharray="4 3"/>
<polyline points="85.2,198.0 85.6,192.5 86.0,189.9 86.4,187.9 86.9,189.8 87.3,193.8 87.7,196.8 88.1,197.5 88.5,196.8 88.9,198.0 89.3,197.0 89.8,194.9 90.2,195.2 90.6,193.2 91.0,195.1 91.4,196.3 91.8,196.0 92.3,193.0 92.7,195.6 93.1,195.6 93.5,195.7 93.9,193.4 94.3,192.0 94.7,186.3 95.2,181.0 95.6,178.2 96.0,182.5 96.4,179.5 96.8,184.1 97.2,189.0 97.6,190.2 98.1,189.6 98.5,190.1 98.9,186.1 99.3,188.0 99.7,191.1 100.1,190.5 100.6,191.0 101.0,190.6 101.4,187.2 101.8,181.7 102.2,185.1 102.6,187.3 103.0,193.1 103.5,193.1 103.9,194.9 104.3,191.2 104.7,193.4 105.1,188.5 105.5,187.2 105.9,185.1 106.4,188.9 106.8,189.5 107.2,192.6 107.6,192.2 108.0,198.1 108.4,198.1 108.8,196.1 109.3,197.8 109.7,197.8 110.1,193.0 110.5,191.9 110.9,189.9 111.3,189.8 111.8,194.4 112.2,195.1 112.6,191.5 113.0,195.2 113.4,192.8 113.8,193.4 114.2,196.2 114.7,201.6 115.1,201.4 115.5,204.8 115.9,203.9 116.3,201.0 116.7,200.9 117.1,204.0 117.6,202.8 118.0,204.2 118.4,210.0 118.8,204.7 119.2,202.9 119.6,202.4 120.1,201.9 120.5,201.9 120.9,204.4 121.3,205.7 121.7,208.1 122.1,204.2 122.5,203.4 123.0,205.3 123.4,201.0 123.8,200.6 124.2,204.9 124.6,199.2 125.0,193.2 125.4,194.7 125.9,193.8 126.3,194.5 126.7,199.8 127.1,207.0 127.5,209.1 127.9,208.7 128.3,208.8 128.8,208.6 129.2,202.4 129.6,203.7 130.0,203.7 130.4,203.9 130.8,205.2 131.3,209.9 131.7,209.5 132.1,211.7 132.5,210.4 132.9,209.8 133.3,208.7 133.7,207.4 134.2,201.9 134.6,203.2 135.0,201.4 135.4,199.0 135.8,199.7 136.2,201.0 136.6,196.8 137.1,195.6 137.5,192.2 137.9,191.2 138.3,189.7 138.7,192.9 139.1,195.3 139.6,202.6 140.0,198.3 140.4,202.7 140.8,201.4 141.2,196.7 141.6,196.9 142.0,201.7 142.5,201.3 142.9,201.8 143.3,207.6 143.7,206.8 144.1,206.3 144.5,204.3 144.9,204.1 145.4,198.9 145.8,200.5 146.2,201.0 146.6,195.4 147.0,190.8 147.4,187.3 147.8,178.6 148.3,178.3 148.7,179.9 149.1,180.7 149.5,183.4 149.9,191.6 150.3,192.1 150.8,198.1 151.2,201.6 151.6,207.6 152.0,208.3 152.4,206.0 152.8,206.1 153.2,206.4 153.7,200.7 154.1,199.0 154.5,200.3 154.9,199.0 155.3,196.6 155.7,202.1 156.1,201.5 156.6,201.4 157.0,201.8 157.4,202.5 157.8,197.7 158.2,199.2 158.6,196.1 159.1,195.1 159.5,196.2 159.9,197.1 160.3,199.2 160.7,204.7 161.1,207.7 161.5,209.1 162.0,214.3 162.4,213.2 162.8,208.0 163.2,202.1 163.6,201.6 164.0,199.3 164.4,199.0 164.9,203.7 165.3,209.9 165.7,210.8 166.1,212.6 166.5,214.4 166.9,214.8 167.3,208.2 167.8,208.5 168.2,210.3 168.6,206.4 169.0,207.7 169.4,212.2 169.8,209.4 170.3,208.8 170.7,211.3 171.1,211.7 171.5,215.2 171.9,218.6 172.3,219.5 172.7,220.9 173.2,219.9 173.6,219.4 174.0,219.6 174.4,219.6 174.8,217.3 175.2,217.8 175.6,217.4 176.1,215.6 176.5,210.1 176.9,210.2 177.3,209.5 177.7,207.7 178.1,208.8 178.6,211.7 179.0,214.5 179.4,212.6 179.8,211.2 180.2,211.0 180.6,211.4 181.0,209.6 181.5,205.8 181.9,207.2 182.3,204.7 182.7,204.3 183.1,205.4 183.5,210.1 183.9,211.2 184.4,213.3 184.8,212.2 185.2,208.0 185.6,207.9 186.0,205.3 186.4,199.1 186.8,200.4 187.3,205.6 187.7,207.0 188.1,209.5 188.5,216.3 188.9,218.3 189.3,219.1 189.8,220.3 190.2,220.0 190.6,218.2 191.0,218.2 191.4,218.6 191.8,215.0 192.2,217.2 192.7,219.2 193.1,220.6 193.5,220.3 193.9,223.9 194.3,223.6 194.7,222.3 195.1,221.6 195.6,219.6 196.0,217.6 196.4,213.8 196.8,212.8 197.2,211.4 197.6,213.3 198.1,213.7 198.5,217.2 198.9,218.7 199.3,220.2 199.7,217.8 200.1,218.6 200.5,216.6 201.0,213.6 201.4,213.3 201.8,213.9 202.2,210.3 202.6,211.8 203.0,211.3 203.4,211.0 203.9,211.9 204.3,213.4 204.7,214.3 205.1,217.7 205.5,218.9 205.9,218.0 206.3,219.4 206.8,220.5 207.2,222.5 207.6,223.2 208.0,225.6 208.4,225.8 208.8,224.8 209.3,223.7 209.7,220.5 210.1,216.3 210.5,215.2 210.9,208.0 211.3,206.9 211.7,206.7 212.2,207.0 212.6,205.9 213.0,211.4 213.4,211.7 213.8,213.3 214.2,213.6 214.6,213.2 215.1,214.9 215.5,214.7 215.9,216.1 216.3,218.2 216.7,217.6 217.1,217.6 217.5,218.3 218.0,218.7 218.4,219.3 218.8,221.7 219.2,220.1 219.6,221.5 220.0,220.2 220.5,220.9 220.9,219.2 221.3,221.0 221.7,221.3 222.1,220.0 222.5,220.1 222.9,221.8 223.4,223.1 223.8,222.4 224.2,224.4 224.6,225.0 225.0,226.4 225.4,224.6 225.8,224.7 226.3,222.4 226.7,221.6 227.1,218.7 227.5,212.5 227.9,208.6 228.3,209.5 228.8,208.4 229.2,208.9 229.6,208.5 230.0,208.0 230.4,209.0 230.8,204.1 231.2,204.2 231.7,210.0 232.1,212.7 232.5,212.0 232.9,216.8 233.3,217.3 233.7,217.5 234.1,213.4 234.6,214.9 235.0,209.6 235.4,208.3 235.8,205.5 236.2,209.2 236.6,208.0 237.0,207.7 237.5,206.9 237.9,203.8 238.3,203.1 238.7,202.7 239.1,202.4 239.5,201.9 240.0,206.0 240.4,206.5 240.8,206.2 241.2,208.5 241.6,211.3 242.0,213.2 242.4,214.3 242.9,215.7 243.3,218.1 243.7,214.7 244.1,214.3 244.5,214.0 244.9,212.3 245.3,211.7 245.8,209.8 246.2,208.6 246.6,203.0 247.0,204.4 247.4,203.7 247.8,208.3 248.3,208.6 248.7,213.9 249.1,211.3 249.5,207.2 249.9,201.2 250.3,200.2 250.7,200.3 251.2,198.0 251.6,197.8 252.0,203.1 252.4,203.5 252.8,196.2 253.2,196.7 253.6,202.1 254.1,196.4 254.5,192.1 254.9,199.2 255.3,198.0 255.7,196.2 256.1,198.2 256.5,203.4 257.0,204.0 257.4,203.8 257.8,202.4 258.2,207.1 258.6,207.2 259.0,207.8 259.5,214.1 259.9,217.2 260.3,215.3 260.7,213.4 261.1,213.3 261.5,211.9 261.9,211.7 262.4,213.8 262.8,214.0 263.2,211.4 263.6,207.5 264.0,205.9 264.4,204.5 264.8,206.9 265.3,207.9 265.7,209.9 266.1,212.1 266.5,211.4 266.9,211.8 267.3,210.7 267.8,213.4 268.2,213.8 268.6,216.3 269.0,214.3 269.4,217.7 269.8,216.2 270.2,215.5 270.7,210.4 271.1,207.8 271.5,208.0 271.9,208.1 272.3,208.7 272.7,212.5 273.1,214.1 273.6,213.8 274.0,214.1 274.4,213.8 274.8,214.7 275.2,212.3 275.6,210.3 276.0,209.6 276.5,204.4 276.9,202.4 277.3,206.0 277.7,206.4 278.1,203.1 278.5,206.8 279.0,208.2 279.4,204.8 279.8,202.8 280.2,202.5 280.6,197.1 281.0,196.9 281.4,201.5 281.9,204.0 282.3,209.1 282.7,214.8 283.1,214.9 283.5,211.0 283.9,211.0 284.3,210.2 284.8,209.0 285.2,207.5 285.6,210.1 286.0,208.5 286.4,207.3 286.8,209.0 287.3,206.5 287.7,208.5 288.1,210.0 288.5,213.1 288.9,213.3 289.3,218.1 289.7,216.4 290.2,218.1 290.6,218.2 291.0,218.6 291.4,214.1 291.8,214.9 292.2,214.6 292.6,211.4 293.1,209.3 293.5,213.8 293.9,214.5 294.3,214.8 294.7,217.6 295.1,219.6 295.5,220.1 296.0,220.7 296.4,219.9 296.8,220.6 297.2,220.7 297.6,218.8 298.0,218.6 298.5,219.5 298.9,215.9 299.3,216.1 299.7,217.4 300.1,217.9 300.5,218.0 300.9,221.7 301.4,220.7 301.8,218.4 302.2,217.7 302.6,215.1 303.0,213.1 303.4,208.7 303.8,210.1 304.3,208.6 304.7,209.4 305.1,210.1 305.5,209.8 305.9,209.0 306.3,209.0 306.8,208.1 307.2,208.4 307.6,213.4 308.0,213.6 308.4,215.1 308.8,216.2 309.2,217.4 309.7,218.9 310.1,221.5 310.5,221.1 310.9,219.7 311.3,219.1 311.7,216.3 312.1,215.5 312.6,215.2 313.0,215.7 313.4,214.3 313.8,211.1 314.2,209.9 314.6,205.0 315.0,204.1 315.5,200.6 315.9,204.1 316.3,205.4 316.7,210.4 317.1,211.3 317.5,216.2 318.0,217.4 318.4,219.2 318.8,221.1 319.2,220.9 319.6,223.1 320.0,219.6 320.4,212.3 320.9,205.2 321.3,200.7 321.7,198.9 322.1,199.7 322.5,198.0 322.9,201.5 323.3,202.6 323.8,200.8 324.2,195.6 324.6,201.7 325.0,202.5 325.4,203.8 325.8,204.6 326.3,209.9 326.7,209.0 327.1,204.7 327.5,202.4 327.9,197.7 328.3,195.0 328.7,196.2 329.2,200.2 329.6,201.6 330.0,205.3 330.4,210.5 330.8,210.0 331.2,208.3 331.6,209.0 332.1,205.0 332.5,201.9 332.9,200.7 333.3,202.5 333.7,200.5 334.1,202.4 334.5,206.0 335.0,208.3 335.4,209.0 335.8,210.8 336.2,215.2 336.6,213.2 337.0,214.5 337.5,211.0 337.9,213.5 338.3,214.2 338.7,217.3 339.1,213.7 339.5,218.7 339.9,216.2 340.4,216.4 340.8,216.5 341.2,221.5 341.6,220.7 342.0,224.0 342.4,225.2 342.8,226.4 343.3,225.3 343.7,225.9 344.1,226.0 344.5,225.2 344.9,225.3 345.3,225.4 345.8,221.7 346.2,218.3 346.6,218.3 347.0,217.9 347.4,218.2 347.8,218.8 348.2,221.7 348.7,220.2 349.1,219.7 349.5,219.6 349.9,221.6 350.3,217.9 350.7,218.8 351.1,216.7 351.6,216.5 352.0,212.2 352.4,210.1 352.8,208.3 353.2,210.3 353.6,210.1 354.0,214.3 354.5,216.9 354.9,215.6 355.3,215.2 355.7,213.3 356.1,208.3 356.5,206.5 357.0,208.7 357.4,208.2 357.8,207.1 358.2,209.2 358.6,207.4 359.0,198.7 359.4,189.8 359.9,185.4 360.3,180.1 360.7,175.1 361.1,174.3 361.5,172.2 361.9,170.4 362.3,169.4 362.8,171.1 363.2,172.1 363.6,175.1 364.0,174.8 364.4,178.4 364.8,179.9 365.3,181.0 365.7,180.5 366.1,183.1 366.5,181.2 366.9,182.7 367.3,184.8 367.7,185.8 368.2,184.9 368.6,188.1 369.0,190.5 369.4,191.6 369.8,195.5 370.2,201.3 370.6,206.1 371.1,210.2 371.5,212.9 371.9,217.4 372.3,219.6 372.7,222.0 373.1,222.6 373.5,225.5 374.0,225.9 374.4,225.9 374.8,225.2 375.2,225.0 375.6,224.1 376.0,218.2 376.5,218.5 376.9,217.2 377.3,210.8 377.7,208.7 378.1,212.4 378.5,212.1 378.9,213.0 379.4,217.0 379.8,213.7 380.2,214.6 380.6,213.8 381.0,211.4 381.4,213.2 381.8,215.6 382.3,213.5 382.7,214.6 383.1,215.6 383.5,209.9 383.9,209.5 384.3,211.2 384.8,211.4 385.2,212.0 385.6,216.1 386.0,218.3 386.4,218.1 386.8,213.8 387.2,208.3 387.7,207.3 388.1,205.2 388.5,204.7 388.9,203.9 389.3,208.3 389.7,203.6 390.1,200.9 390.6,199.5 391.0,202.3 391.4,201.5 391.8,202.0 392.2,201.5 392.6,195.6 393.0,194.7 393.5,192.1 393.9,199.2 394.3,204.5 394.7,213.7 395.1,216.1 395.5,218.5 396.0,218.4 396.4,213.9 396.8,212.7 397.2,210.4 397.6,209.8 398.0,208.9 398.4,210.8 398.9,208.5 399.3,205.2 399.7,204.9 400.1,203.4 400.5,204.0 400.9,205.5 401.3,211.4 401.8,211.1 402.2,212.1 402.6,212.6 403.0,207.1 403.4,205.2 403.8,205.3 404.3,201.4 404.7,198.6 405.1,205.3 405.5,206.2 405.9,202.8 406.3,204.5 406.7,207.7 407.2,207.6 407.6,209.7 408.0,210.8 408.4,214.7 408.8,215.3 409.2,216.1 409.6,216.4 410.1,220.7 410.5,221.7 410.9,219.0 411.3,216.4 411.7,215.8 412.1,211.1 412.5,207.1 413.0,211.0 413.4,212.7 413.8,212.0 414.2,215.0 414.6,218.0 415.0,216.5 415.5,215.5 415.9,208.4 416.3,201.3 416.7,197.3 417.1,194.5 417.5,189.7 417.9,188.5 418.4,193.9 418.8,196.8 419.2,197.0 419.6,199.6 420.0,206.9 420.4,208.5 420.8,212.0 421.3,216.7 421.7,220.5 422.1,219.8 422.5,219.1 422.9,219.0 423.3,219.7 423.8,220.6 424.2,222.3 424.6,222.2 425.0,217.2 425.4,217.5 425.8,217.3 426.2,217.2 426.7,218.2 427.1,220.7 427.5,219.5 427.9,219.5 428.3,219.4 428.7,217.4 429.1,219.9 429.6,217.7 430.0,217.3 430.4,216.6 430.8,216.7 431.2,214.2 431.6,212.6 432.0,210.7 432.5,205.2 432.9,205.0 433.3,205.5 433.7,207.3 434.1,205.5 434.5,209.1 435.0,203.1 435.4,195.6 435.8,195.0 436.2,195.8 436.6,192.2 437.0,196.7 437.4,203.8 437.9,204.0 438.3,200.3 438.7,201.3 439.1,202.1 439.5,202.8 439.9,203.6 440.3,209.1 440.8,207.1 441.2,207.6 441.6,208.1 442.0,205.6 442.4,205.4 442.8,209.2 443.3,206.2 443.7,206.4 444.1,207.6 444.5,206.4 444.9,209.1 445.3,213.2 445.7,212.0 446.2,214.6 446.6,217.0 447.0,215.9 447.4,215.4 447.8,214.2 448.2,215.4 448.6,215.9 449.1,215.5 449.5,216.0 449.9,219.8 450.3,219.0 450.7,220.4 451.1,223.2 451.5,224.1 452.0,222.6 452.4,224.8 452.8,223.3 453.2,223.3 453.6,224.0 454.0,226.4 454.5,221.4 454.9,222.4 455.3,222.1 455.7,222.0 456.1,221.9 456.5,226.5 456.9,226.0 457.4,225.8 457.8,220.9 458.2,218.4 458.6,215.0 459.0,210.1 459.4,208.9 459.8,212.9 460.3,214.6 460.7,214.4 461.1,215.0 461.5,214.0 461.9,212.6 462.3,208.6 462.7,211.7 463.2,215.6 463.6,217.0 464.0,216.9 464.4,219.7 464.8,218.8 465.2,219.0 465.7,218.6 466.1,217.8 466.5,216.2 466.9,214.2 467.3,212.3 467.7,212.2 468.1,214.0 468.6,214.8 469.0,215.8 469.4,216.5 469.8,213.5 470.2,210.5 470.6,211.7 471.0,213.0 471.5,214.0 471.9,217.3 472.3,221.0 472.7,218.6 473.1,219.8 473.5,220.7 474.0,221.5 474.4,222.0 474.8,225.8 475.2,225.0 475.6,224.8 476.0,224.5 476.4,221.0 476.9,221.3 477.3,221.6 477.7,220.9 478.1,220.6 478.5,223.6 478.9,222.4 479.3,221.0 479.8,221.4 480.2,217.2 480.6,217.2 481.0,216.9 481.4,217.9 481.8,215.4 482.2,219.1 482.7,219.0 483.1,220.2 483.5,217.7 483.9,219.1 484.3,219.3 484.7,216.7 485.2,216.1 485.6,216.8 486.0,217.5 486.4,216.3 486.8,214.5 487.2,211.9 487.6,212.8 488.1,212.6 488.5,212.1 488.9,216.6 489.3,217.0 489.7,214.6 490.1,214.1 490.5,212.1 491.0,206.3 491.4,201.6 491.8,199.8 492.2,198.5 492.6,195.4 493.0,196.7 493.5,196.8 493.9,197.3 494.3,196.0 494.7,197.1 495.1,196.2 495.5,200.2 495.9,199.6 496.4,195.7 496.8,195.6 497.2,191.5 497.6,186.4 498.0,188.0 498.4,194.3 498.8,196.6 499.3,205.2 499.7,209.9 500.1,212.3 500.5,211.8 500.9,215.3 501.3,216.5 501.7,218.1 502.2,218.4 502.6,214.9 503.0,213.6 503.4,212.0 503.8,212.5 504.2,211.2 504.7,216.4 505.1,216.9 505.5,216.0 505.9,213.3 506.3,212.9 506.7,211.4 507.1,210.5 507.6,204.4 508.0,205.0 508.4,204.9 508.8,199.2 509.2,196.6 509.6,204.2 510.0,204.6 510.5,204.6 510.9,204.4 511.3,205.6 511.7,206.6 512.1,208.5 512.5,209.7 513.0,217.4 513.4,220.0 513.8,220.9 514.2,220.9 514.6,222.4 515.0,221.2 515.4,221.1 515.9,218.3 516.3,218.1 516.7,217.4 517.1,215.8 517.5,216.6 517.9,219.0 518.3,217.2 518.8,215.7 519.2,212.7 519.6,212.0 520.0,206.1 520.4,207.4 520.8,206.5 521.2,211.0 521.7,205.9 522.1,210.1 522.5,209.5 522.9,211.2 523.3,210.0 523.7,214.9 524.2,212.3 524.6,211.3 525.0,211.4 525.4,212.7 525.8,212.2 526.2,215.9 526.6,216.9 527.1,215.1 527.5,212.5 527.9,211.5 528.3,208.9 528.7,209.4 529.1,204.3 529.5,201.5 530.0,202.2 530.4,200.5 530.8,194.6 531.2,200.4 531.6,200.2 532.0,198.2 532.5,202.2 532.9,208.4 533.3,206.9 533.7,209.7 534.1,211.1 534.5,210.4 534.9,210.4 535.4,210.5 535.8,213.0 536.2,213.7 536.6,214.5 537.0,212.0 537.4,212.9 537.8,210.4 538.3,211.7 538.7,210.4 539.1,214.2 539.5,215.8 539.9,218.3 540.3,216.8 540.7,218.7 541.2,216.4 541.6,216.6 542.0,216.9 542.4,212.8 542.8,212.5 543.2,213.0 543.7,212.6 544.1,207.9 544.5,209.8 544.9,208.3 545.3,208.4 545.7,205.7 546.1,204.9 546.6,203.0 547.0,201.1 547.4,199.9 547.8,198.7 548.2,203.1 548.6,205.4 549.0,202.5 549.5,201.1 549.9,204.8 550.3,202.6 550.7,204.7 551.1,208.1 551.5,211.2 552.0,211.7 552.4,214.7 552.8,215.0 553.2,218.2 553.6,216.3 554.0,217.2 554.4,220.2 554.9,222.3 555.3,223.9 555.7,226.3 556.1,226.6 556.5,225.1 556.9,224.6 557.3,224.5 557.8,222.8 558.2,222.9 558.6,224.3 559.0,225.8 559.4,226.8 559.8,228.0 560.2,227.1 560.7,227.0 561.1,226.9 561.5,226.8 561.9,226.9 562.3,227.6 562.7,227.6 563.2,226.8 563.6,225.2 564.0,225.2 564.4,222.5 564.8,222.5 565.2,222.7 565.6,223.3 566.1,223.7 566.5,226.4 566.9,225.6 567.3,226.2 567.7,227.3 568.1,225.4 568.5,224.6 569.0,225.3 569.4,224.8 569.8,224.4 570.2,226.6 570.6,227.6 571.0,228.4 571.5,227.6 571.9,227.1 572.3,226.5 572.7,225.8 573.1,225.6 573.5,226.8 573.9,225.7 574.4,225.1 574.8,225.5 575.2,224.7 575.6,223.1 576.0,223.4 576.4,223.3 576.8,222.3 577.3,222.9 577.7,222.9 578.1,223.2 578.5,223.0 578.9,224.1 579.3,223.4 579.7,224.1 580.2,224.3 580.6,225.6 581.0,225.6 581.4,226.0 581.8,227.0 582.2,227.5 582.7,227.3 583.1,226.2 583.5,226.7 583.9,226.7 584.3,226.4 584.7,226.5 585.1,227.5 585.6,227.4 586.0,224.2 586.4,224.8 586.8,224.7 587.2,224.6 587.6,224.6 588.0,227.4 588.5,226.7 588.9,225.7 589.3,225.8 589.7,225.0 590.1,224.0 590.5,224.8 591.0,225.7 591.4,225.8 591.8,226.7 592.2,228.2 592.6,227.3 593.0,227.6 593.4,226.0 593.9,225.6 594.3,224.7 594.7,225.0 595.1,224.6 595.5,226.3 595.9,224.8 596.3,225.5 596.8,226.2 597.2,226.6 597.6,226.5 598.0,226.8 598.4,225.7 598.8,223.8 599.2,221.4 599.7,221.3 600.1,222.7 600.5,223.9 600.9,224.8 601.3,227.1 601.7,227.0 602.2,225.8 602.6,225.7 603.0,226.1 603.4,226.0 603.8,223.9 604.2,222.7 604.6,222.6 605.1,222.9 605.5,222.2 605.9,223.1 606.3,224.3 606.7,223.1 607.1,221.8 607.5,220.9 608.0,220.0 608.4,220.4 608.8,221.5 609.2,222.6 609.6,221.8 610.0,222.9 610.5,222.6 610.9,221.1 611.3,220.1 611.7,220.1 612.1,221.5 612.5,222.1 612.9,222.7 613.4,223.1 613.8,225.7 614.2,225.7 614.6,226.2 615.0,227.3 615.4,228.2 615.8,226.9 616.3,225.8 616.7,226.0 617.1,226.0 617.5,225.8 617.9,225.8 618.3,226.5 618.7,225.9 619.2,225.8 619.6,226.3 620.0,227.6 620.4,227.2 620.8,227.6 621.2,227.5 621.7,227.4 622.1,226.7 622.5,227.2 622.9,225.8 623.3,225.1 623.7,224.8 624.1,224.0 624.6,223.9 625.0,224.0 625.4,224.5 625.8,223.4 626.2,224.6 626.6,224.5 627.0,225.8 627.5,225.1 627.9,225.2 628.3,225.1 628.7,222.7 629.1,222.0 629.5,222.5 630.0,221.0 630.4,220.7 630.8,221.1 631.2,221.9 631.6,219.5 632.0,221.3 632.4,221.2 632.9,222.5 633.3,222.6 633.7,224.0 634.1,224.0 634.5,223.9 634.9,224.9 635.3,225.0 635.8,225.8 636.2,225.6 636.6,225.8 637.0,225.5 637.4,225.4 637.8,224.9 638.2,224.1 638.7,224.2 639.1,224.3 639.5,221.4 639.9,222.4 640.3,223.3 640.7,223.1 641.2,221.2 641.6,223.4 642.0,223.3 642.4,224.0 642.8,224.5 643.2,226.4 643.6,227.3 644.1,227.3 644.5,224.9 644.9,222.2 645.3,218.3 645.7,214.2 646.1,212.1" fill="none" stroke="#55f25a" stroke-width="2.6" stroke-linejoin="round"/>
<line x1="553.9" x2="553.9" y1="96.4" y2="230.6" stroke="#ee3340" stroke-width="1.1" stroke-dasharray="3.5 2.5"/>
<text x="0" y="0" transform="translate(574.4,191.4) rotate(-90)" font-size="23" fill="#fa3c48" stroke="#fa3c48" stroke-width="0.25">79.08sec</text>
<line x1="85.2" x2="654.0" y1="96.4" y2="96.4" stroke="#858585" stroke-width="1.1"/>
<line x1="85.2" x2="654.0" y1="230.6" y2="230.6" stroke="#a8a8a8" stroke-width="1.3"/>
<line x1="85.2" x2="85.2" y1="96.4" y2="230.6" stroke="#a8a8a8" stroke-width="1.3"/>
<line x1="654.0" x2="654.0" y1="96.4" y2="230.6" stroke="#a0a0a0" stroke-width="1.3"/>
<line x1="85.2" x2="85.2" y1="230.6" y2="225.6" stroke="#8a8a8a" stroke-width="1"/>
<line x1="85.2" x2="85.2" y1="96.4" y2="101.4" stroke="#8a8a8a" stroke-width="1"/>
<text x="87.2" y="246.1" font-size="18.4" text-anchor="middle" fill="#222" stroke="#222" stroke-width="0.22">0</text>
<line x1="144.5" x2="144.5" y1="230.6" y2="225.6" stroke="#8a8a8a" stroke-width="1"/>
<line x1="144.5" x2="144.5" y1="96.4" y2="101.4" stroke="#8a8a8a" stroke-width="1"/>
<text x="146.5" y="246.1" font-size="18.4" text-anchor="middle" fill="#222" stroke="#222" stroke-width="0.22">10</text>
<line x1="203.7" x2="203.7" y1="230.6" y2="225.6" stroke="#8a8a8a" stroke-width="1"/>
<line x1="203.7" x2="203.7" y1="96.4" y2="101.4" stroke="#8a8a8a" stroke-width="1"/>
<text x="205.7" y="246.1" font-size="18.4" text-anchor="middle" fill="#222" stroke="#222" stroke-width="0.22">20</text>
<line x1="263.0" x2="263.0" y1="230.6" y2="225.6" stroke="#8a8a8a" stroke-width="1"/>
<line x1="263.0" x2="263.0" y1="96.4" y2="101.4" stroke="#8a8a8a" stroke-width="1"/>
<text x="265.0" y="246.1" font-size="18.4" text-anchor="middle" fill="#222" stroke="#222" stroke-width="0.22">30</text>
<line x1="322.3" x2="322.3" y1="230.6" y2="225.6" stroke="#8a8a8a" stroke-width="1"/>
<line x1="322.3" x2="322.3" y1="96.4" y2="101.4" stroke="#8a8a8a" stroke-width="1"/>
<text x="324.3" y="246.1" font-size="18.4" text-anchor="middle" fill="#222" stroke="#222" stroke-width="0.22">40</text>
<line x1="381.5" x2="381.5" y1="230.6" y2="225.6" stroke="#8a8a8a" stroke-width="1"/>
<line x1="381.5" x2="381.5" y1="96.4" y2="101.4" stroke="#8a8a8a" stroke-width="1"/>
<text x="383.5" y="246.1" font-size="18.4" text-anchor="middle" fill="#222" stroke="#222" stroke-width="0.22">50</text>
<line x1="440.8" x2="440.8" y1="230.6" y2="225.6" stroke="#8a8a8a" stroke-width="1"/>
<line x1="440.8" x2="440.8" y1="96.4" y2="101.4" stroke="#8a8a8a" stroke-width="1"/>
<text x="442.8" y="246.1" font-size="18.4" text-anchor="middle" fill="#222" stroke="#222" stroke-width="0.22">60</text>
<line x1="500.1" x2="500.1" y1="230.6" y2="225.6" stroke="#8a8a8a" stroke-width="1"/>
<line x1="500.1" x2="500.1" y1="96.4" y2="101.4" stroke="#8a8a8a" stroke-width="1"/>
<text x="502.1" y="246.1" font-size="18.4" text-anchor="middle" fill="#222" stroke="#222" stroke-width="0.22">70</text>
<line x1="559.4" x2="559.4" y1="230.6" y2="225.6" stroke="#8a8a8a" stroke-width="1"/>
<line x1="559.4" x2="559.4" y1="96.4" y2="101.4" stroke="#8a8a8a" stroke-width="1"/>
<text x="561.4" y="246.1" font-size="18.4" text-anchor="middle" fill="#222" stroke="#222" stroke-width="0.22">80</text>
<line x1="618.6" x2="618.6" y1="230.6" y2="225.6" stroke="#8a8a8a" stroke-width="1"/>
<line x1="618.6" x2="618.6" y1="96.4" y2="101.4" stroke="#8a8a8a" stroke-width="1"/>
<text x="620.6" y="246.1" font-size="18.4" text-anchor="middle" fill="#222" stroke="#222" stroke-width="0.22">90</text>
<line x1="85.2" x2="90.2" y1="230.6" y2="230.6" stroke="#8a8a8a" stroke-width="1"/>
<line x1="654.0" x2="649.0" y1="230.6" y2="230.6" stroke="#8a8a8a" stroke-width="1"/>
<text x="81.9" y="234.3" font-size="18.2" text-anchor="end" fill="#222" stroke="#222" stroke-width="0.22">0</text>
<line x1="85.2" x2="90.2" y1="197.1" y2="197.1" stroke="#8a8a8a" stroke-width="1"/>
<line x1="654.0" x2="649.0" y1="197.1" y2="197.1" stroke="#8a8a8a" stroke-width="1"/>
<text x="81.9" y="200.8" font-size="18.2" text-anchor="end" fill="#222" stroke="#222" stroke-width="0.22">100</text>
<line x1="85.2" x2="90.2" y1="163.5" y2="163.5" stroke="#8a8a8a" stroke-width="1"/>
<line x1="654.0" x2="649.0" y1="163.5" y2="163.5" stroke="#8a8a8a" stroke-width="1"/>
<text x="81.9" y="167.2" font-size="18.2" text-anchor="end" fill="#222" stroke="#222" stroke-width="0.22">200</text>
<line x1="85.2" x2="90.2" y1="129.9" y2="129.9" stroke="#8a8a8a" stroke-width="1"/>
<line x1="654.0" x2="649.0" y1="129.9" y2="129.9" stroke="#8a8a8a" stroke-width="1"/>
<text x="81.9" y="133.6" font-size="18.2" text-anchor="end" fill="#222" stroke="#222" stroke-width="0.22">300</text>
<line x1="85.2" x2="90.2" y1="96.4" y2="96.4" stroke="#8a8a8a" stroke-width="1"/>
<line x1="654.0" x2="649.0" y1="96.4" y2="96.4" stroke="#8a8a8a" stroke-width="1"/>
<text x="81.9" y="100.1" font-size="18.2" text-anchor="end" fill="#222" stroke="#222" stroke-width="0.22">400</text>
<text x="370.4" y="265.6" font-size="23.4" textLength="157.5" lengthAdjust="spacingAndGlyphs" text-anchor="middle" fill="#222" stroke="#222" stroke-width="0.25">Time (seconds)</text>
<text x="196.5" y="120.9" font-size="23" fill="#4c8c4c" stroke="#4c8c4c" stroke-width="0.25">Yuzu FP</text>
<polyline points="85.2,392.4 85.5,365.2 85.8,362.9 86.1,355.2 86.4,324.2 86.7,391.8 87.0,371.7 87.3,392.4 87.6,312.8 87.9,327.9 88.2,357.6 88.5,344.1 88.8,410.5 89.1,351.5 89.3,380.5 89.6,309.4 89.9,325.6 90.2,322.1 90.5,351.0 90.8,329.1 91.1,329.8 91.4,362.4 91.7,369.0 92.0,360.5 92.3,376.3 92.6,378.1 92.9,372.2 93.2,385.6 93.5,351.6 93.8,409.8 94.1,356.6 94.4,391.0 94.7,390.9 95.0,409.2 95.3,386.1 95.6,390.0 95.9,383.5 96.2,398.9 96.5,389.4 96.8,361.7 97.1,388.2 97.4,406.1 97.6,382.4 97.9,399.7 98.2,388.5 98.5,388.5 98.8,404.4 99.1,413.4 99.4,401.3 99.7,385.0 100.0,399.5 100.3,383.9 100.6,372.6 100.9,399.0 101.2,364.5 101.5,355.1 101.8,363.8 102.1,360.3 102.4,359.9 102.7,334.3 103.0,375.9 103.3,378.6 103.6,364.3 103.9,396.4 104.2,410.1 104.5,394.1 104.8,363.9 105.1,360.2 105.4,407.1 105.6,413.4 105.9,376.4 106.2,372.8 106.5,368.9 106.8,350.4 107.1,335.7 107.4,360.2 107.7,350.0 108.0,393.0 108.3,394.8 108.6,357.8 108.9,347.2 109.2,346.8 109.5,351.3 109.8,347.7 110.1,348.3 110.4,411.8 110.7,387.8 111.0,360.4 111.3,358.1 111.6,408.1 111.9,347.3 112.2,383.5 112.5,377.1 112.8,363.3 113.1,349.6 113.4,402.4 113.6,339.1 113.9,360.8 114.2,381.7 114.5,366.8 114.8,413.4 115.1,374.1 115.4,348.9 115.7,373.4 116.0,360.9 116.3,354.1 116.6,346.8 116.9,315.1 117.2,346.1 117.5,352.1 117.8,326.6 118.1,309.4 118.4,358.6 118.7,334.8 119.0,398.7 119.3,315.8 119.6,338.1 119.9,322.1 120.2,317.8 120.5,390.3 120.8,342.5 121.1,347.8 121.4,388.9 121.7,404.4 121.9,357.7 122.2,373.5 122.5,309.4 122.8,385.4 123.1,383.9 123.4,374.7 123.7,317.8 124.0,393.9 124.3,336.5 124.6,378.8 124.9,392.3 125.2,408.6 125.5,375.3 125.8,378.0 126.1,389.0 126.4,403.2 126.7,395.9 127.0,398.6 127.3,413.4 127.6,394.5 127.9,413.4 128.2,413.4 128.5,404.1 128.8,399.9 129.1,413.4 129.4,390.2 129.7,379.6 129.9,390.4 130.2,395.1 130.5,386.9 130.8,394.4 131.1,413.4 131.4,405.3 131.7,385.2 132.0,413.4 132.3,404.5 132.6,411.3 132.9,413.4 133.2,413.4 133.5,406.2 133.8,403.3 134.1,403.1 134.4,413.4 134.7,410.5 135.0,402.1 135.3,393.9 135.6,397.3 135.9,395.0 136.2,391.2 136.5,394.6 136.8,413.4 137.1,404.5 137.4,413.4 137.7,413.4 138.0,413.4 138.2,375.9 138.5,413.4 138.8,413.4 139.1,412.1 139.4,382.7 139.7,404.4 140.0,398.0 140.3,407.4 140.6,404.7 140.9,385.6 141.2,392.1 141.5,404.4 141.8,390.5 142.1,387.8 142.4,406.0 142.7,399.0 143.0,399.1 143.3,412.2 143.6,386.0 143.9,404.8 144.2,411.3 144.5,413.4 144.8,413.4 145.1,380.0 145.4,413.4 145.7,395.6 146.0,407.1 146.2,394.2 146.5,393.1 146.8,413.3 147.1,406.5 147.4,401.1 147.7,401.1 148.0,403.3 148.3,407.6 148.6,394.5 148.9,385.1 149.2,396.3 149.5,413.4 149.8,398.7 150.1,403.6 150.4,398.3 150.7,379.7 151.0,408.0 151.3,405.4 151.6,413.4 151.9,409.6 152.2,413.4 152.5,384.9 152.8,402.3 153.1,413.4 153.4,379.9 153.7,413.4 154.0,393.3 154.2,390.8 154.5,396.4 154.8,407.6 155.1,405.5 155.4,408.2 155.7,391.8 156.0,413.4 156.3,409.7 156.6,399.8 156.9,410.1 157.2,413.4 157.5,404.6 157.8,411.9 158.1,388.3 158.4,378.9 158.7,398.6 159.0,413.4 159.3,402.0 159.6,413.0 159.9,387.7 160.2,372.8 160.5,394.6 160.8,369.4 161.1,378.1 161.4,391.0 161.7,413.4 162.0,399.4 162.3,413.4 162.5,387.5 162.8,400.9 163.1,384.3 163.4,399.7 163.7,413.4 164.0,396.2 164.3,393.2 164.6,384.6 164.9,413.4 165.2,413.4 165.5,405.2 165.8,413.4 166.1,413.4 166.4,413.4 166.7,373.6 167.0,413.4 167.3,413.4 167.6,412.5 167.9,407.0 168.2,390.9 168.5,395.3 168.8,397.4 169.1,406.8 169.4,405.5 169.7,413.4 170.0,413.4 170.3,381.0 170.5,412.4 170.8,393.4 171.1,410.2 171.4,407.1 171.7,407.8 172.0,413.4 172.3,406.4 172.6,400.1 172.9,394.0 173.2,398.2 173.5,390.9 173.8,400.4 174.1,404.2 174.4,413.4 174.7,411.6 175.0,383.9 175.3,403.1 175.6,394.3 175.9,407.9 176.2,413.4 176.5,378.4 176.8,400.8 177.1,386.1 177.4,398.9 177.7,409.8 178.0,413.4 178.3,405.1 178.6,413.4 178.8,413.4 179.1,390.8 179.4,397.6 179.7,398.8 180.0,406.5 180.3,407.7 180.6,402.1 180.9,405.6 181.2,406.8 181.5,398.5 181.8,413.4 182.1,396.8 182.4,413.4 182.7,397.4 183.0,393.6 183.3,413.4 183.6,398.5 183.9,398.8 184.2,413.4 184.5,413.4 184.8,407.6 185.1,413.4 185.4,413.4 185.7,407.0 186.0,413.4 186.3,413.4 186.6,413.4 186.8,391.2 187.1,393.6 187.4,411.2 187.7,413.4 188.0,410.1 188.3,409.8 188.6,413.4 188.9,413.4 189.2,401.9 189.5,397.9 189.8,413.4 190.1,397.0 190.4,407.2 190.7,394.4 191.0,408.9 191.3,402.9 191.6,387.6 191.9,413.4 192.2,387.8 192.5,405.4 192.8,413.4 193.1,413.4 193.4,403.4 193.7,413.4 194.0,394.1 194.3,404.1 194.6,408.5 194.8,393.6 195.1,403.9 195.4,396.5 195.7,394.7 196.0,401.0 196.3,394.0 196.6,393.4 196.9,413.4 197.2,407.2 197.5,404.5 197.8,407.8 198.1,413.4 198.4,409.6 198.7,395.8 199.0,397.4 199.3,376.7 199.6,408.6 199.9,405.5 200.2,407.2 200.5,403.5 200.8,408.3 201.1,413.4 201.4,394.5 201.7,385.2 202.0,383.7 202.3,413.4 202.6,404.0 202.9,374.4 203.1,403.4 203.4,397.2 203.7,404.8 204.0,388.6 204.3,389.6 204.6,371.1 204.9,397.1 205.2,397.9 205.5,413.4 205.8,410.0 206.1,413.4 206.4,409.0 206.7,413.4 207.0,388.1 207.3,413.4 207.6,401.2 207.9,413.4 208.2,400.5 208.5,382.9 208.8,413.4 209.1,400.6 209.4,406.5 209.7,401.9 210.0,400.2 210.3,413.4 210.6,408.4 210.9,413.4 211.1,413.4 211.4,413.4 211.7,393.4 212.0,413.4 212.3,397.1 212.6,398.4 212.9,413.4 213.2,391.4 213.5,413.4 213.8,396.7 214.1,385.3 214.4,413.4 214.7,413.4 215.0,413.4 215.3,373.0 215.6,409.6 215.9,413.4 216.2,392.8 216.5,406.5 216.8,404.3 217.1,413.4 217.4,413.4 217.7,413.4 218.0,413.4 218.3,413.4 218.6,413.4 218.9,413.4 219.2,392.3 219.4,394.0 219.7,396.9 220.0,411.7 220.3,413.4 220.6,400.7 220.9,398.8 221.2,391.7 221.5,405.9 221.8,407.5 222.1,401.9 222.4,413.4 222.7,413.4 223.0,398.3 223.3,413.4 223.6,408.2 223.9,397.3 224.2,404.6 224.5,402.4 224.8,413.4 225.1,409.9 225.4,411.9 225.7,401.2 226.0,403.6 226.3,408.5 226.6,385.2 226.9,402.1 227.2,412.5 227.4,413.4 227.7,409.4 228.0,413.4 228.3,388.9 228.6,402.1 228.9,413.0 229.2,413.4 229.5,413.4 229.8,412.7 230.1,393.3 230.4,399.2 230.7,410.1 231.0,407.8 231.3,413.4 231.6,400.4 231.9,412.3 232.2,393.1 232.5,411.7 232.8,413.4 233.1,406.6 233.4,413.4 233.7,392.3 234.0,405.1 234.3,403.9 234.6,404.2 234.9,412.6 235.2,401.9 235.4,405.6 235.7,385.4 236.0,406.7 236.3,402.5 236.6,412.9 236.9,411.6 237.2,410.6 237.5,389.7 237.8,405.1 238.1,393.3 238.4,409.2 238.7,410.3 239.0,413.4 239.3,394.3 239.6,378.2 239.9,408.4 240.2,386.7 240.5,394.4 240.8,413.4 241.1,395.8 241.4,413.4 241.7,409.8 242.0,390.2 242.3,404.0 242.6,413.4 242.9,388.1 243.2,413.4 243.5,408.5 243.7,411.0 244.0,408.7 244.3,413.4 244.6,413.4 244.9,383.5 245.2,413.4 245.5,413.4 245.8,413.4 246.1,406.3 246.4,391.4 246.7,390.2 247.0,373.3 247.3,389.2 247.6,402.8 247.9,407.6 248.2,390.4 248.5,408.5 248.8,405.8 249.1,413.4 249.4,407.2 249.7,384.5 250.0,409.5 250.3,403.9 250.6,413.4 250.9,392.7 251.2,404.5 251.5,392.3 251.7,406.4 252.0,413.4 252.3,413.4 252.6,403.8 252.9,410.2 253.2,413.4 253.5,411.0 253.8,413.4 254.1,400.8 254.4,413.4 254.7,413.4 255.0,409.3 255.3,413.4 255.6,388.6 255.9,413.1 256.2,413.4 256.5,407.1 256.8,409.3 257.1,401.9 257.4,402.2 257.7,413.4 258.0,405.1 258.3,405.4 258.6,413.4 258.9,411.3 259.2,399.8 259.5,413.4 259.8,413.4 260.0,409.4 260.3,404.1 260.6,395.5 260.9,413.4 261.2,398.9 261.5,394.3 261.8,381.2 262.1,409.5 262.4,413.4 262.7,413.4 263.0,395.9 263.3,385.4 263.6,413.4 263.9,397.6 264.2,391.6 264.5,390.3 264.8,409.5 265.1,395.0 265.4,404.9 265.7,413.4 266.0,401.1 266.3,400.0 266.6,413.4 266.9,399.5 267.2,379.2 267.5,413.4 267.8,397.2 268.0,394.8 268.3,406.4 268.6,403.2 268.9,411.1 269.2,391.1 269.5,413.4 269.8,410.1 270.1,413.4 270.4,403.9 270.7,403.1 271.0,413.4 271.3,413.4 271.6,401.1 271.9,413.4 272.2,413.4 272.5,413.4 272.8,402.0 273.1,380.6 273.4,412.4 273.7,400.2 274.0,400.1 274.3,406.7 274.6,404.1 274.9,403.6 275.2,413.4 275.5,370.0 275.8,366.4 276.0,399.8 276.3,378.7 276.6,413.4 276.9,407.1 277.2,388.1 277.5,413.4 277.8,413.4 278.1,399.8 278.4,413.4 278.7,381.1 279.0,394.7 279.3,401.8 279.6,396.1 279.9,413.4 280.2,413.4 280.5,394.4 280.8,393.1 281.1,404.0 281.4,406.7 281.7,413.3 282.0,387.9 282.3,413.4 282.6,413.4 282.9,413.4 283.2,413.4 283.5,413.4 283.8,413.4 284.1,394.6 284.3,384.6 284.6,403.4 284.9,413.4 285.2,413.4 285.5,410.0 285.8,411.8 286.1,413.2 286.4,402.3 286.7,413.4 287.0,413.4 287.3,406.5 287.6,400.5 287.9,405.9 288.2,409.3 288.5,411.3 288.8,413.4 289.1,408.8 289.4,412.4 289.7,413.4 290.0,395.8 290.3,396.2 290.6,413.4 290.9,403.3 291.2,396.6 291.5,407.7 291.8,409.4 292.1,405.3 292.3,413.4 292.6,413.4 292.9,405.3 293.2,408.2 293.5,395.6 293.8,413.4 294.1,398.8 294.4,399.3 294.7,388.8 295.0,413.4 295.3,413.4 295.6,408.4 295.9,408.5 296.2,413.4 296.5,413.4 296.8,413.4 297.1,385.3 297.4,412.4 297.7,411.8 298.0,413.4 298.3,411.5 298.6,402.8 298.9,413.4 299.2,412.0 299.5,386.9 299.8,401.1 300.1,408.8 300.4,413.4 300.6,411.7 300.9,413.4 301.2,408.2 301.5,413.4 301.8,413.4 302.1,413.4 302.4,413.4 302.7,409.0 303.0,382.1 303.3,413.4 303.6,413.4 303.9,400.2 304.2,412.5 304.5,388.2 304.8,406.8 305.1,400.4 305.4,413.4 305.7,413.4 306.0,413.3 306.3,403.3 306.6,413.4 306.9,413.4 307.2,413.4 307.5,413.4 307.8,413.4 308.1,411.3 308.4,382.3 308.6,410.5 308.9,413.4 309.2,413.4 309.5,401.1 309.8,413.4 310.1,393.1 310.4,410.6 310.7,413.4 311.0,408.5 311.3,412.2 311.6,396.2 311.9,413.4 312.2,408.7 312.5,411.4 312.8,400.4 313.1,413.4 313.4,413.4 313.7,388.4 314.0,405.2 314.3,413.4 314.6,408.1 314.9,413.4 315.2,413.4 315.5,413.4 315.8,400.9 316.1,413.4 316.4,410.2 316.6,411.6 316.9,413.4 317.2,413.4 317.5,403.4 317.8,413.4 318.1,409.3 318.4,413.4 318.7,404.5 319.0,404.0 319.3,402.3 319.6,411.2 319.9,408.8 320.2,413.4 320.5,413.4 320.8,401.0 321.1,413.4 321.4,399.4 321.7,399.6 322.0,413.4 322.3,404.7 322.6,413.4 322.9,407.4 323.2,413.4 323.5,407.6 323.8,409.6 324.1,413.4 324.4,387.6 324.7,400.5 324.9,413.4 325.2,407.8 325.5,413.4 325.8,388.0 326.1,412.6 326.4,407.4 326.7,413.4 327.0,404.8 327.3,413.4 327.6,413.4 327.9,413.4 328.2,413.4 328.5,405.0 328.8,411.2 329.1,413.4 329.4,413.4 329.7,413.4 330.0,410.5 330.3,413.4 330.6,413.4 330.9,398.1 331.2,413.4 331.5,413.4 331.8,411.2 332.1,413.4 332.4,413.4 332.7,403.6 332.9,413.4 333.2,388.6 333.5,405.1 333.8,412.6 334.1,413.4 334.4,413.4 334.7,413.4 335.0,408.3 335.3,400.5 335.6,404.2 335.9,413.4 336.2,403.5 336.5,403.1 336.8,412.2 337.1,406.4 337.4,398.0 337.7,404.9 338.0,413.4 338.3,410.1 338.6,408.3 338.9,413.4 339.2,408.4 339.5,411.5 339.8,413.4 340.1,413.4 340.4,387.8 340.7,408.7 341.0,393.7 341.2,413.4 341.5,391.6 341.8,403.4 342.1,413.4 342.4,407.1 342.7,391.8 343.0,382.1 343.3,404.6 343.6,413.4 343.9,413.4 344.2,402.9 344.5,398.1 344.8,409.5 345.1,412.5 345.4,401.7 345.7,405.7 346.0,406.9 346.3,413.4 346.6,413.4 346.9,388.5 347.2,410.9 347.5,381.5 347.8,405.7 348.1,413.4 348.4,406.5 348.7,402.4 349.0,413.4 349.2,406.4 349.5,413.4 349.8,391.0 350.1,413.4 350.4,407.2 350.7,413.4 351.0,413.4 351.3,409.3 351.6,413.4 351.9,411.5 352.2,404.9 352.5,400.9 352.8,413.4 353.1,410.7 353.4,400.1 353.7,413.4 354.0,413.4 354.3,413.4 354.6,388.9 354.9,408.9 355.2,390.2 355.5,413.2 355.8,395.1 356.1,413.4 356.4,412.9 356.7,408.9 357.0,389.0 357.2,404.6 357.5,397.0 357.8,413.4 358.1,413.4 358.4,395.5 358.7,393.8 359.0,396.2 359.3,396.6 359.6,413.4 359.9,385.5 360.2,409.0 360.5,396.1 360.8,402.3 361.1,413.4 361.4,413.4 361.7,413.4 362.0,411.9 362.3,398.4 362.6,413.4 362.9,401.7 363.2,413.4 363.5,413.4 363.8,413.4 364.1,411.3 364.4,413.4 364.7,412.9 365.0,404.8 365.3,413.4 365.5,413.4 365.8,413.4 366.1,413.4 366.4,413.4 366.7,402.2 367.0,407.6 367.3,413.4 367.6,413.4 367.9,406.2 368.2,402.1 368.5,403.9 368.8,399.9 369.1,411.8 369.4,411.5 369.7,413.4 370.0,398.5 370.3,401.4 370.6,390.7 370.9,398.4 371.2,413.4 371.5,413.4 371.8,413.4 372.1,413.4 372.4,404.6 372.7,413.4 373.0,413.4 373.3,413.4 373.5,402.6 373.8,403.0 374.1,392.8 374.4,412.5 374.7,413.4 375.0,413.4 375.3,413.4 375.6,413.4 375.9,397.6 376.2,388.1 376.5,397.6 376.8,408.8 377.1,413.4 377.4,409.2 377.7,413.4 378.0,405.3 378.3,402.8 378.6,413.4 378.9,411.6 379.2,413.4 379.5,402.5 379.8,402.4 380.1,413.4 380.4,413.4 380.7,407.5 381.0,391.8 381.3,413.4 381.5,411.8 381.8,393.9 382.1,405.6 382.4,413.4 382.7,413.4 383.0,410.6 383.3,413.4 383.6,398.7 383.9,413.4 384.2,403.8 384.5,399.3 384.8,395.8 385.1,408.7 385.4,409.7 385.7,405.6 386.0,408.4 386.3,396.0 386.6,410.4 386.9,385.6 387.2,374.9 387.5,413.4 387.8,404.0 388.1,413.4 388.4,400.1 388.7,404.3 389.0,412.0 389.3,413.4 389.6,409.3 389.8,385.6 390.1,390.6 390.4,405.3 390.7,413.4 391.0,410.5 391.3,413.4 391.6,413.4 391.9,413.4 392.2,403.5 392.5,407.2 392.8,408.8 393.1,413.4 393.4,413.4 393.7,399.4 394.0,413.4 394.3,397.4 394.6,413.4 394.9,399.8 395.2,408.4 395.5,413.4 395.8,413.4 396.1,388.9 396.4,400.5 396.7,413.4 397.0,409.3 397.3,413.4 397.6,391.3 397.8,395.1 398.1,413.4 398.4,406.0 398.7,413.4 399.0,400.1 399.3,405.9 399.6,408.3 399.9,401.7 400.2,407.8 400.5,413.4 400.8,413.4 401.1,413.4 401.4,400.6 401.7,410.9 402.0,413.4 402.3,406.9 402.6,413.4 402.9,386.5 403.2,407.4 403.5,413.4 403.8,408.9 404.1,398.0 404.4,404.3 404.7,386.4 405.0,413.4 405.3,391.5 405.6,410.9 405.9,399.8 406.1,389.7 406.4,413.4 406.7,413.4 407.0,413.4 407.3,413.4 407.6,413.4 407.9,408.9 408.2,395.5 408.5,413.4 408.8,403.4 409.1,364.3 409.4,405.3 409.7,413.1 410.0,411.2 410.3,403.8 410.6,412.6 410.9,400.4 411.2,406.1 411.5,397.3 411.8,406.8 412.1,409.6 412.4,413.4 412.7,413.4 413.0,411.9 413.3,413.2 413.6,404.6 413.9,409.1 414.1,413.0 414.4,379.1 414.7,403.8 415.0,392.2 415.3,413.4 415.6,394.7 415.9,392.4 416.2,401.6 416.5,413.4 416.8,391.0 417.1,413.4 417.4,413.4 417.7,413.4 418.0,406.8 418.3,413.4 418.6,397.8 418.9,399.6 419.2,391.0 419.5,404.2 419.8,407.2 420.1,408.6 420.4,413.4 420.7,413.4 421.0,413.4 421.3,406.5 421.6,413.4 421.9,410.8 422.1,396.7 422.4,413.4 422.7,413.4 423.0,413.4 423.3,410.6 423.6,413.4 423.9,413.4 424.2,383.2 424.5,413.4 424.8,411.8 425.1,408.3 425.4,413.4 425.7,413.4 426.0,399.1 426.3,413.4 426.6,413.4 426.9,413.4 427.2,413.4 427.5,397.4 427.8,413.4 428.1,388.9 428.4,411.8 428.7,393.5 429.0,406.8 429.3,413.4 429.6,413.4 429.9,399.6 430.2,413.4 430.4,412.2 430.7,413.4 431.0,413.4 431.3,405.1 431.6,403.9 431.9,413.4 432.2,405.8 432.5,413.4 432.8,413.4 433.1,413.4 433.4,403.1 433.7,398.6 434.0,406.3 434.3,376.9 434.6,406.6 434.9,413.4 435.2,413.4 435.5,392.2 435.8,413.4 436.1,413.4 436.4,413.4 436.7,413.4 437.0,413.4 437.3,404.2 437.6,403.0 437.9,405.3 438.2,397.7 438.4,413.4 438.7,413.4 439.0,409.9 439.3,413.4 439.6,398.2 439.9,402.4 440.2,402.0 440.5,413.4 440.8,413.4 441.1,408.4 441.4,413.4 441.7,413.4 442.0,411.6 442.3,407.3 442.6,413.4 442.9,396.5 443.2,382.0 443.5,402.4 443.8,411.9 444.1,413.4 444.4,390.1 444.7,406.2 445.0,402.6 445.3,407.4 445.6,413.4 445.9,392.0 446.2,413.4 446.5,408.7 446.7,413.4 447.0,384.6 447.3,401.5 447.6,411.7 447.9,413.4 448.2,413.4 448.5,413.4 448.8,404.6 449.1,413.4 449.4,405.0 449.7,404.6 450.0,386.7 450.3,407.3 450.6,406.3 450.9,403.7 451.2,413.4 451.5,412.6 451.8,405.5 452.1,395.2 452.4,400.1 452.7,412.5 453.0,394.0 453.3,413.4 453.6,413.4 453.9,389.1 454.2,408.2 454.5,413.4 454.7,413.4 455.0,413.4 455.3,386.6 455.6,408.4 455.9,379.4 456.2,407.0 456.5,392.8 456.8,406.6 457.1,412.8 457.4,412.3 457.7,410.1 458.0,413.4 458.3,413.4 458.6,401.7 458.9,390.5 459.2,404.7 459.5,406.2 459.8,413.4 460.1,392.8 460.4,394.1 460.7,413.4 461.0,406.8 461.3,412.0 461.6,413.4 461.9,388.4 462.2,393.9 462.5,404.7 462.7,391.5 463.0,413.4 463.3,405.8 463.6,393.1 463.9,413.0 464.2,406.1 464.5,413.4 464.8,402.2 465.1,396.2 465.4,413.4 465.7,413.4 466.0,410.9 466.3,393.6 466.6,413.4 466.9,413.4 467.2,411.6 467.5,397.0 467.8,413.4 468.1,412.5 468.4,395.1 468.7,411.0 469.0,413.4 469.3,400.6 469.6,413.4 469.9,386.7 470.2,405.2 470.5,413.4 470.8,409.8 471.0,411.5 471.3,413.4 471.6,413.4 471.9,413.4 472.2,413.4 472.5,394.1 472.8,413.4 473.1,413.4 473.4,413.4 473.7,401.5 474.0,412.5 474.3,392.7 474.6,413.4 474.9,408.0 475.2,410.6 475.5,413.4 475.8,395.9 476.1,394.4 476.4,393.2 476.7,413.4 477.0,404.8 477.3,413.4 477.6,413.4 477.9,413.4 478.2,413.4 478.5,401.0 478.8,390.9 479.0,386.4 479.3,413.4 479.6,413.4 479.9,405.0 480.2,405.9 480.5,404.9 480.8,413.4 481.1,409.9 481.4,399.8 481.7,403.8 482.0,408.7 482.3,413.4 482.6,408.3 482.9,386.6 483.2,400.9 483.5,394.0 483.8,386.5 484.1,413.4 484.4,399.5 484.7,402.3 485.0,391.6 485.3,411.5 485.6,411.4 485.9,413.4 486.2,406.7 486.5,412.7 486.8,411.2 487.1,405.4 487.3,413.4 487.6,413.4 487.9,413.4 488.2,413.4 488.5,404.9 488.8,394.8 489.1,413.4 489.4,413.4 489.7,402.7 490.0,410.5 490.3,413.4 490.6,412.7 490.9,386.7 491.2,413.4 491.5,413.4 491.8,410.2 492.1,413.4 492.4,413.4 492.7,397.1 493.0,402.4 493.3,404.4 493.6,413.3 493.9,411.0 494.2,374.4 494.5,406.1 494.8,392.3 495.1,413.4 495.3,406.3 495.6,405.0 495.9,407.8 496.2,413.4 496.5,413.4 496.8,392.2 497.1,403.4 497.4,413.4 497.7,399.8 498.0,413.4 498.3,403.7 498.6,406.7 498.9,413.4 499.2,413.4 499.5,413.4 499.8,413.4 500.1,391.0 500.4,401.4 500.7,406.7 501.0,400.7 501.3,413.4 501.6,405.5 501.9,413.4 502.2,413.4 502.5,413.4 502.8,412.7 503.1,413.4 503.3,405.2 503.6,413.4 503.9,401.4 504.2,413.4 504.5,402.1 504.8,411.0 505.1,402.5 505.4,407.1 505.7,413.4 506.0,410.4 506.3,413.4 506.6,412.0 506.9,408.1 507.2,413.4 507.5,413.4 507.8,401.1 508.1,398.5 508.4,396.0 508.7,413.4 509.0,413.4 509.3,403.2 509.6,402.0 509.9,413.4 510.2,389.3 510.5,398.8 510.8,413.4 511.1,398.7 511.4,413.4 511.6,413.4 511.9,413.4 512.2,413.4 512.5,413.4 512.8,411.1 513.1,413.4 513.4,413.0 513.7,413.4 514.0,413.4 514.3,413.4 514.6,413.4 514.9,394.0 515.2,413.4 515.5,413.4 515.8,413.4 516.1,413.4 516.4,413.4 516.7,408.1 517.0,413.4 517.3,412.9 517.6,402.1 517.9,406.6 518.2,413.4 518.5,412.9 518.8,410.9 519.1,406.0 519.4,413.4 519.6,398.3 519.9,404.2 520.2,391.4 520.5,403.1 520.8,400.9 521.1,413.4 521.4,413.4 521.7,391.2 522.0,408.2 522.3,413.4 522.6,404.5 522.9,411.5 523.2,407.8 523.5,413.4 523.8,406.3 524.1,394.8 524.4,409.5 524.7,407.1 525.0,413.4 525.3,406.6 525.6,413.4 525.9,413.4 526.2,413.4 526.5,413.4 526.8,405.5 527.1,400.8 527.4,413.4 527.7,413.4 527.9,404.4 528.2,413.4 528.5,413.4 528.8,413.4 529.1,413.4 529.4,413.4 529.7,392.4 530.0,400.4 530.3,413.4 530.6,413.4 530.9,413.4 531.2,405.0 531.5,413.4 531.8,383.0 532.1,413.0 532.4,412.8 532.7,404.8 533.0,413.4 533.3,411.6 533.6,412.5 533.9,404.2 534.2,413.4 534.5,405.3 534.8,398.9 535.1,409.3 535.4,413.4 535.7,413.4 535.9,413.4 536.2,413.4 536.5,406.9 536.8,395.3 537.1,400.6 537.4,398.7 537.7,413.4 538.0,413.4 538.3,413.4 538.6,413.4 538.9,413.4 539.2,413.4 539.5,404.4 539.8,413.4 540.1,413.4 540.4,404.1 540.7,394.4 541.0,399.4 541.3,413.4 541.6,391.5 541.9,413.4 542.2,413.4 542.5,413.4 542.8,399.8 543.1,413.4 543.4,395.9 543.7,408.7 543.9,404.6 544.2,413.4 544.5,413.4 544.8,413.4 545.1,396.8 545.4,413.4 545.7,406.2 546.0,413.4 546.3,413.4 546.6,399.8 546.9,396.0 547.2,392.0 547.5,413.4 547.8,409.8 548.1,402.0 548.4,406.5 548.7,408.0 549.0,382.5 549.3,413.4 549.6,400.2 549.9,413.4 550.2,394.0 550.5,413.4 550.8,413.4 551.1,402.3 551.4,410.7 551.7,413.4 552.0,413.4 552.2,413.4 552.5,405.5 552.8,407.8 553.1,392.2 553.4,413.4 553.7,394.9 554.0,405.0 554.3,413.4 554.6,393.4 554.9,413.4 555.2,404.8 555.5,413.4 555.8,407.3 556.1,413.4 556.4,413.4 556.7,413.4 557.0,413.4 557.3,395.1 557.6,401.7 557.9,410.1 558.2,410.7 558.5,413.4 558.8,390.5 559.1,408.8 559.4,394.4 559.7,413.4 560.0,413.4 560.2,391.4 560.5,413.4 560.8,411.1 561.1,402.8 561.4,397.4 561.7,401.1 562.0,402.2 562.3,389.2 562.6,406.1 562.9,398.3 563.2,408.9 563.5,407.6 563.8,386.8 564.1,412.9 564.4,413.4 564.7,409.2 565.0,408.0 565.3,388.6 565.6,413.4 565.9,413.4 566.2,408.7 566.5,387.9 566.8,413.4 567.1,394.6 567.4,403.8 567.7,401.9 568.0,413.4 568.3,408.8 568.5,413.4 568.8,409.5 569.1,413.4 569.4,395.9 569.7,413.4 570.0,412.4 570.3,413.4 570.6,413.4 570.9,378.9 571.2,413.4 571.5,413.4 571.8,409.9 572.1,412.7 572.4,413.4 572.7,413.4 573.0,413.4 573.3,399.0 573.6,413.4 573.9,408.0 574.2,400.6 574.5,413.4 574.8,383.7 575.1,410.5 575.4,412.5 575.7,413.4 576.0,402.1 576.3,413.4 576.5,404.8 576.8,385.7 577.1,407.8 577.4,402.0 577.7,413.4 578.0,402.5 578.3,413.4 578.6,413.4 578.9,411.6 579.2,389.2 579.5,413.4 579.8,413.4 580.1,410.0 580.4,402.4 580.7,403.8 581.0,408.8 581.3,395.4 581.6,401.0 581.9,401.5 582.2,413.4 582.5,413.4 582.8,392.4 583.1,413.4 583.4,396.2 583.7,397.3 584.0,413.4 584.3,413.4 584.5,405.9 584.8,399.3 585.1,413.4 585.4,413.4 585.7,413.4 586.0,413.4 586.3,409.4 586.6,413.4 586.9,413.4 587.2,405.6 587.5,413.4 587.8,413.4 588.1,413.4 588.4,401.6 588.7,406.6 589.0,406.6 589.3,411.0 589.6,406.0 589.9,391.3 590.2,408.3 590.5,407.7 590.8,413.4 591.1,402.8 591.4,413.4 591.7,413.4 592.0,397.3 592.3,412.8 592.6,413.4 592.8,413.4 593.1,413.4 593.4,413.4 593.7,394.2 594.0,404.3 594.3,413.4 594.6,397.6 594.9,413.4 595.2,408.3 595.5,413.4 595.8,406.4 596.1,406.7 596.4,402.3 596.7,401.5 597.0,413.4 597.3,413.4 597.6,411.8 597.9,413.4 598.2,413.4 598.5,413.4 598.8,413.4 599.1,413.4 599.4,413.4 599.7,403.3 600.0,413.4 600.3,413.4 600.6,412.0 600.8,406.0 601.1,403.3 601.4,399.5 601.7,410.6 602.0,409.6 602.3,413.4 602.6,409.6 602.9,413.3 603.2,403.2 603.5,403.7 603.8,413.4 604.1,413.4 604.4,407.1 604.7,413.4 605.0,413.4 605.3,401.3 605.6,395.0 605.9,413.4 606.2,413.4 606.5,413.4 606.8,413.4 607.1,413.4 607.4,413.4 607.7,412.7 608.0,413.4 608.3,400.1 608.6,413.4 608.9,401.6 609.1,394.3 609.4,405.7 609.7,404.0 610.0,413.4 610.3,411.4 610.6,384.1 610.9,394.8 611.2,410.7 611.5,413.4 611.8,412.8 612.1,397.5 612.4,413.4 612.7,407.5 613.0,413.4 613.3,393.4 613.6,413.4 613.9,399.8 614.2,413.4 614.5,410.9 614.8,391.2 615.1,411.3 615.4,403.1 615.7,406.7 616.0,413.4 616.3,412.0 616.6,399.9 616.9,407.4 617.1,409.3 617.4,413.4 617.7,393.4 618.0,413.4 618.3,390.7 618.6,409.7 618.9,403.7 619.2,413.4 619.5,410.7 619.8,413.4 620.1,411.0 620.4,397.8 620.7,407.8 621.0,409.0 621.3,400.5 621.6,413.4 621.9,410.7 622.2,413.4 622.5,399.0 622.8,413.4 623.1,392.9 623.4,388.0 623.7,413.4 624.0,413.4 624.3,413.4 624.6,397.4 624.9,413.4 625.1,404.2 625.4,407.9 625.7,413.4 626.0,413.4 626.3,398.2 626.6,413.4 626.9,408.0 627.2,394.3 627.5,411.4 627.8,413.4 628.1,413.4 628.4,405.4 628.7,413.4 629.0,413.4 629.3,413.4 629.6,413.4 629.9,413.4 630.2,413.4 630.5,400.7 630.8,403.7 631.1,386.2 631.4,397.0 631.7,407.5 632.0,413.4 632.3,408.0 632.6,396.1 632.9,413.4 633.2,393.6 633.4,413.4 633.7,407.7 634.0,400.9 634.3,390.6 634.6,411.5 634.9,387.6 635.2,413.4 635.5,413.4 635.8,412.4 636.1,394.7 636.4,413.4 636.7,391.5 637.0,413.4 637.3,388.3 637.6,413.4 637.9,383.5 638.2,413.4 638.5,411.7 638.8,413.4 639.1,407.0 639.4,413.4 639.7,413.4 640.0,403.1 640.3,399.0 640.6,413.4 640.9,395.6 641.2,413.4 641.4,413.4 641.7,413.4 642.0,404.6 642.3,399.3 642.6,413.4 642.9,413.4 643.2,413.4 643.5,402.8 643.8,397.4 644.1,413.4 644.4,412.4 644.7,413.4 645.0,408.2 645.3,400.4 645.6,413.4 645.9,412.0 646.2,392.8" fill="none" stroke="#a9a9a9" stroke-width="1.0" stroke-linejoin="miter"/>
<line x1="85.2" x2="654.0" y1="377.2" y2="377.2" stroke="#77f048" stroke-width="1.3" stroke-dasharray="4 3"/>
<polyline points="85.2,392.2 85.5,382.8 85.8,379.7 86.1,377.1 86.4,372.3 86.7,364.7 87.0,362.1 87.3,358.2 87.6,356.2 87.9,356.6 88.2,355.0 88.5,356.8 88.8,357.8 89.1,353.4 89.3,348.8 89.6,349.2 89.9,345.8 90.2,338.9 90.5,341.4 90.8,338.6 91.1,346.9 91.4,353.6 91.7,356.0 92.0,354.3 92.3,358.7 92.6,358.5 92.9,361.9 93.2,370.4 93.5,377.2 93.8,382.0 94.1,382.8 94.4,382.9 94.7,384.7 95.0,387.4 95.3,388.4 95.6,390.6 95.9,392.3 96.2,392.0 96.5,394.3 96.8,395.2 97.1,396.6 97.4,398.0 97.6,398.3 97.9,397.3 98.2,396.2 98.5,394.6 98.8,394.7 99.1,392.6 99.4,389.8 99.7,388.9 100.0,389.8 100.3,388.5 100.6,386.5 100.9,386.0 101.2,385.9 101.5,384.8 101.8,382.8 102.1,384.8 102.4,382.4 102.7,379.2 103.0,376.9 103.3,374.3 103.6,374.0 103.9,374.8 104.2,375.0 104.5,373.5 104.8,377.1 105.1,374.8 105.4,370.6 105.6,370.0 105.9,368.6 106.2,366.2 106.5,366.0 106.8,366.9 107.1,363.3 107.4,364.6 107.7,366.0 108.0,365.6 108.3,366.8 108.6,369.3 108.9,371.3 109.2,368.6 109.5,370.0 109.8,368.4 110.1,370.8 110.4,371.8 110.7,372.0 111.0,370.0 111.3,373.1 111.6,373.4 111.9,373.2 112.2,374.2 112.5,373.2 112.8,369.2 113.1,367.8 113.4,365.6 113.6,363.8 113.9,365.0 114.2,363.1 114.5,356.4 114.8,354.5 115.1,356.6 115.4,353.8 115.7,352.9 116.0,359.8 116.3,363.1 116.6,359.0 116.9,354.7 117.2,353.7 117.5,344.8 117.8,345.8 118.1,348.0 118.4,353.5 118.7,359.7 119.0,362.1 119.3,357.9 119.6,360.3 119.9,359.9 120.2,359.6 120.5,360.9 120.8,364.8 121.1,363.9 121.4,366.3 121.7,366.6 121.9,369.5 122.2,368.7 122.5,370.4 122.8,367.4 123.1,369.9 123.4,372.0 123.7,373.9 124.0,373.8 124.3,375.6 124.6,376.4 124.9,379.4 125.2,382.7 125.5,387.5 125.8,391.1 126.1,394.4 126.4,397.1 126.7,400.2 127.0,403.3 127.3,403.5 127.6,402.5 127.9,401.0 128.2,399.4 128.5,398.7 128.8,397.0 129.1,395.1 129.4,395.0 129.7,395.6 129.9,395.6 130.2,397.4 130.5,398.7 130.8,399.2 131.1,400.8 131.4,403.0 131.7,404.3 132.0,405.1 132.3,405.3 132.6,406.3 132.9,406.1 133.2,407.7 133.5,407.9 133.8,407.8 134.1,406.8 134.4,406.4 134.7,406.3 135.0,406.3 135.3,406.8 135.6,406.8 135.9,407.4 136.2,406.3 136.5,405.3 136.8,404.5 137.1,405.1 137.4,404.3 137.7,403.8 138.0,403.8 138.2,403.9 138.5,403.1 138.8,402.2 139.1,401.0 139.4,401.7 139.7,401.4 140.0,401.7 140.3,403.2 140.6,404.8 140.9,404.4 141.2,405.1 141.5,405.5 141.8,404.3 142.1,404.7 142.4,404.5 142.7,403.9 143.0,404.1 143.3,405.2 143.6,405.5 143.9,405.5 144.2,404.4 144.5,404.8 144.8,403.4 145.1,402.9 145.4,402.9 145.7,403.2 146.0,401.6 146.2,401.7 146.5,401.3 146.8,400.3 147.1,401.5 147.4,401.8 147.7,401.8 148.0,402.1 148.3,403.4 148.6,402.2 148.9,402.7 149.2,404.2 149.5,404.0 149.8,402.9 150.1,403.8 150.4,404.6 150.7,404.2 151.0,404.6 151.3,405.1 151.6,406.5 151.9,406.7 152.2,406.8 152.5,407.2 152.8,407.5 153.1,405.8 153.4,405.5 153.7,405.9 154.0,405.9 154.2,405.0 154.5,405.5 154.8,403.7 155.1,404.2 155.4,403.3 155.7,403.4 156.0,402.0 156.3,402.7 156.6,399.5 156.9,399.8 157.2,399.0 157.5,398.5 157.8,397.6 158.1,399.6 158.4,397.1 158.7,397.5 159.0,399.3 159.3,398.5 159.6,397.9 159.9,399.2 160.2,400.9 160.5,402.2 160.8,402.6 161.1,402.9 161.4,403.6 161.7,403.4 162.0,402.6 162.3,404.0 162.5,403.9 162.8,404.1 163.1,404.6 163.4,405.3 163.7,405.5 164.0,405.4 164.3,405.7 164.6,406.6 164.9,406.2 165.2,405.9 165.5,406.4 165.8,407.1 166.1,406.7 166.4,407.2 166.7,407.2 167.0,407.3 167.3,407.0 167.6,407.0 167.9,406.7 168.2,407.4 168.5,408.3 168.8,408.6 169.1,409.2 169.4,409.2 169.7,408.9 170.0,408.4 170.3,408.9 170.5,408.6 170.8,408.9 171.1,407.8 171.4,407.4 171.7,405.7 172.0,405.9 172.3,406.3 172.6,406.1 172.9,405.6 173.2,405.3 173.5,405.0 173.8,404.9 174.1,404.4 174.4,404.6 174.7,406.0 175.0,404.5 175.3,403.6 175.6,405.1 175.9,405.1 176.2,405.2 176.5,407.0 176.8,406.9 177.1,406.6 177.4,407.0 177.7,406.9 178.0,407.3 178.3,407.3 178.6,406.5 178.8,406.4 179.1,405.9 179.4,404.4 179.7,405.0 180.0,406.4 180.3,407.2 180.6,408.2 180.9,408.9 181.2,409.0 181.5,408.2 181.8,408.1 182.1,407.2 182.4,407.7 182.7,407.8 183.0,408.3 183.3,408.2 183.6,409.1 183.9,408.7 184.2,408.8 184.5,408.7 184.8,409.0 185.1,409.4 185.4,410.3 185.7,410.0 186.0,410.6 186.3,410.2 186.6,409.8 186.8,409.2 187.1,409.7 187.4,409.1 187.7,409.2 188.0,408.6 188.3,408.8 188.6,408.7 188.9,409.3 189.2,408.4 189.5,409.2 189.8,408.6 190.1,407.9 190.4,407.8 190.7,408.9 191.0,408.1 191.3,408.3 191.6,409.2 191.9,408.4 192.2,407.2 192.5,407.2 192.8,406.8 193.1,405.4 193.4,404.2 193.7,404.7 194.0,405.1 194.3,405.2 194.6,406.0 194.8,407.7 195.1,407.6 195.4,407.7 195.7,406.5 196.0,405.8 196.3,406.1 196.6,406.2 196.9,404.9 197.2,405.6 197.5,405.6 197.8,403.9 198.1,403.3 198.4,402.7 198.7,402.2 199.0,401.8 199.3,400.4 199.6,400.2 199.9,400.0 200.2,400.0 200.5,399.9 200.8,401.3 201.1,401.6 201.4,402.5 201.7,401.1 202.0,401.9 202.3,400.5 202.6,399.5 202.9,398.4 203.1,400.2 203.4,399.1 203.7,400.7 204.0,400.2 204.3,401.9 204.6,401.2 204.9,402.6 205.2,402.0 205.5,403.6 205.8,404.1 206.1,405.8 206.4,405.9 206.7,405.9 207.0,406.6 207.3,406.5 207.6,405.8 207.9,405.6 208.2,406.5 208.5,404.9 208.8,404.7 209.1,405.5 209.4,405.2 209.7,405.7 210.0,406.8 210.3,406.8 210.6,405.2 210.9,405.0 211.1,404.8 211.4,405.0 211.7,404.7 212.0,405.8 212.3,407.4 212.6,407.6 212.9,406.7 213.2,407.3 213.5,407.0 213.8,405.0 214.1,403.6 214.4,403.1 214.7,403.0 215.0,402.3 215.3,402.2 215.6,402.3 215.9,403.2 216.2,402.7 216.5,403.4 216.8,404.4 217.1,404.7 217.4,404.1 217.7,404.3 218.0,403.3 218.3,402.7 218.6,402.0 218.9,402.8 219.2,402.3 219.4,404.4 219.7,404.3 220.0,404.9 220.3,404.3 220.6,404.7 220.9,403.6 221.2,404.3 221.5,404.2 221.8,405.4 222.1,405.7 222.4,405.7 222.7,406.1 223.0,407.5 223.3,407.3 223.6,407.3 223.9,407.1 224.2,407.4 224.5,408.2 224.8,407.8 225.1,408.2 225.4,408.9 225.7,409.0 226.0,408.0 226.3,409.5 226.6,409.3 226.9,410.1 227.2,409.8 227.4,410.8 227.7,409.4 228.0,409.8 228.3,410.5 228.6,410.8 228.9,409.9 229.2,410.5 229.5,411.0 229.8,409.0 230.1,409.3 230.4,409.0 230.7,410.2 231.0,409.5 231.3,410.3 231.6,410.2 231.9,410.2 232.2,409.4 232.5,409.3 232.8,409.4 233.1,409.1 233.4,409.9 233.7,409.2 234.0,409.0 234.3,408.7 234.6,408.5 234.9,408.1 235.2,408.5 235.4,408.7 235.7,408.5 236.0,409.1 236.3,408.8 236.6,407.6 236.9,407.0 237.2,407.5 237.5,406.1 237.8,406.7 238.1,407.5 238.4,407.1 238.7,406.1 239.0,406.4 239.3,405.9 239.6,406.8 239.9,407.2 240.2,407.5 240.5,406.9 240.8,406.7 241.1,406.5 241.4,407.2 241.7,408.4 242.0,409.6 242.3,409.4 242.6,409.0 242.9,408.0 243.2,406.2 243.5,406.3 243.7,406.7 244.0,406.0 244.3,406.5 244.6,408.1 244.9,408.4 245.2,408.6 245.5,409.9 245.8,410.8 246.1,410.9 246.4,410.3 246.7,409.8 247.0,410.1 247.3,410.2 247.6,410.0 247.9,409.8 248.2,410.4 248.5,409.3 248.8,408.4 249.1,408.6 249.4,409.1 249.7,408.9 250.0,408.9 250.3,410.3 250.6,410.2 250.9,411.2 251.2,411.1 251.5,412.4 251.7,411.8 252.0,412.4 252.3,412.1 252.6,412.9 252.9,412.1 253.2,412.0 253.5,411.0 253.8,409.6 254.1,408.7 254.4,408.8 254.7,407.9 255.0,408.6 255.3,408.7 255.6,408.7 255.9,408.0 256.2,408.1 256.5,407.6 256.8,407.2 257.1,406.4 257.4,405.0 257.7,403.9 258.0,402.3 258.3,401.6 258.6,400.0 258.9,399.5 259.2,400.5 259.5,400.3 259.8,400.1 260.0,402.0 260.3,402.5 260.6,402.0 260.9,402.8 261.2,403.2 261.5,403.1 261.8,404.2 262.1,404.0 262.4,404.7 262.7,404.1 263.0,404.0 263.3,403.2 263.6,402.6 263.9,400.9 264.2,401.9 264.5,401.5 264.8,401.0 265.1,401.1 265.4,402.6 265.7,402.6 266.0,403.9 266.3,405.3 266.6,406.6 266.9,406.6 267.2,407.7 267.5,407.9 267.8,407.8 268.0,408.9 268.3,409.0 268.6,409.4 268.9,408.6 269.2,408.8 269.5,408.1 269.8,408.1 270.1,406.8 270.4,407.0 270.7,406.4 271.0,406.5 271.3,405.7 271.6,406.1 271.9,405.8 272.2,406.1 272.5,406.1 272.8,406.1 273.1,405.8 273.4,405.9 273.7,405.9 274.0,405.7 274.3,405.0 274.6,404.7 274.9,404.3 275.2,403.8 275.5,402.6 275.8,403.0 276.0,402.5 276.3,402.5 276.6,401.1 276.9,403.3 277.2,404.6 277.5,405.4 277.8,407.1 278.1,408.5 278.4,408.1 278.7,407.2 279.0,406.8 279.3,406.3 279.6,405.6 279.9,404.7 280.2,403.7 280.5,404.9 280.8,404.6 281.1,403.9 281.4,405.4 281.7,405.8 282.0,405.2 282.3,404.8 282.6,407.0 282.9,407.4 283.2,408.6 283.5,408.6 283.8,408.7 284.1,408.4 284.3,407.7 284.6,407.3 284.9,408.3 285.2,409.4 285.5,410.1 285.8,410.9 286.1,411.5 286.4,410.6 286.7,409.9 287.0,409.2 287.3,408.7 287.6,408.9 287.9,410.6 288.2,411.1 288.5,410.9 288.8,411.5 289.1,410.7 289.4,409.4 289.7,409.3 290.0,410.5 290.3,410.3 290.6,410.7 290.9,411.7 291.2,412.3 291.5,411.4 291.8,410.7 292.1,410.8 292.3,410.5 292.6,410.6 292.9,411.4 293.2,412.5 293.5,412.7 293.8,413.0 294.1,412.4 294.4,412.5 294.7,412.6 295.0,412.8 295.3,412.5 295.6,413.0 295.9,412.9 296.2,412.8 296.5,412.5 296.8,412.7 297.1,412.9 297.4,412.3 297.7,411.9 298.0,412.3 298.3,411.5 298.6,411.9 298.9,411.9 299.2,412.2 299.5,411.8 299.8,412.8 300.1,412.0 300.4,412.2 300.6,411.0 300.9,411.2 301.2,409.9 301.5,410.4 301.8,410.4 302.1,411.2 302.4,411.9 302.7,413.1 303.0,412.2 303.3,411.4 303.6,411.6 303.9,410.5 304.2,409.8 304.5,410.2 304.8,410.9 305.1,410.4 305.4,411.0 305.7,410.5 306.0,411.0 306.3,409.5 306.6,410.1 306.9,410.3 307.2,411.3 307.5,410.7 307.8,411.5 308.1,411.5 308.4,410.5 308.6,409.1 308.9,409.1 309.2,408.8 309.5,408.0 309.8,407.9 310.1,409.4 310.4,408.7 310.7,409.2 311.0,409.6 311.3,409.5 311.6,410.0 311.9,410.4 312.2,410.3 312.5,409.7 312.8,410.2 313.1,408.6 313.4,408.5 313.7,409.3 314.0,410.1 314.3,410.6 314.6,411.3 314.9,412.2 315.2,412.4 315.5,412.5 315.8,412.4 316.1,412.3 316.4,411.4 316.6,410.9 316.9,410.9 317.2,410.2 317.5,410.0 317.8,411.2 318.1,411.1 318.4,411.5 318.7,412.3 319.0,412.9 319.3,412.3 319.6,412.4 319.9,411.7 320.2,411.1 320.5,410.3 320.8,409.8 321.1,410.1 321.4,409.6 321.7,409.5 322.0,410.6 322.3,411.3 322.6,410.9 322.9,411.5 323.2,411.5 323.5,411.7 323.8,411.5 324.1,410.8 324.4,411.6 324.7,412.3 324.9,411.7 325.2,411.6 325.5,412.7 325.8,412.0 326.1,411.6 326.4,412.0 326.7,412.2 327.0,412.1 327.3,412.1 327.6,411.9 327.9,411.9 328.2,412.0 328.5,412.3 328.8,412.5 329.1,412.7 329.4,412.0 329.7,412.3 330.0,411.6 330.3,411.4 330.6,411.5 330.9,411.9 331.2,411.7 331.5,411.8 331.8,412.2 332.1,411.9 332.4,412.0 332.7,411.1 332.9,411.4 333.2,410.8 333.5,410.6 333.8,410.0 334.1,410.0 334.4,409.0 334.7,409.1 335.0,409.5 335.3,409.1 335.6,409.5 335.9,410.1 336.2,409.9 336.5,409.2 336.8,409.4 337.1,410.4 337.4,410.6 337.7,410.8 338.0,411.5 338.3,411.3 338.6,409.7 338.9,409.4 339.2,408.4 339.5,408.0 339.8,407.8 340.1,407.8 340.4,407.8 340.7,408.2 341.0,408.4 341.2,408.6 341.5,409.2 341.8,409.1 342.1,409.8 342.4,410.0 342.7,410.5 343.0,410.3 343.3,410.1 343.6,410.0 343.9,409.6 344.2,409.6 344.5,409.0 344.8,409.5 345.1,410.0 345.4,410.9 345.7,411.3 346.0,412.2 346.3,412.6 346.6,412.5 346.9,412.2 347.2,411.9 347.5,411.5 347.8,411.2 348.1,410.9 348.4,409.8 348.7,408.9 349.0,408.7 349.2,408.5 349.5,408.2 349.8,408.3 350.1,409.7 350.4,410.6 350.7,409.7 351.0,410.0 351.3,410.6 351.6,408.6 351.9,407.8 352.2,407.8 352.5,407.4 352.8,407.7 353.1,408.6 353.4,408.5 353.7,408.9 354.0,409.6 354.3,409.0 354.6,409.2 354.9,408.9 355.2,409.3 355.5,409.2 355.8,409.0 356.1,408.8 356.4,408.9 356.7,408.9 357.0,408.5 357.2,409.4 357.5,410.7 357.8,411.9 358.1,412.2 358.4,413.4 358.7,413.4 359.0,412.5 359.3,412.3 359.6,411.5 359.9,411.3 360.2,410.9 360.5,412.1 360.8,411.6 361.1,411.8 361.4,411.3 361.7,412.1 362.0,411.9 362.3,411.8 362.6,412.2 362.9,411.9 363.2,411.7 363.5,411.8 363.8,412.4 364.1,413.1 364.4,413.4 364.7,413.3 365.0,412.3 365.3,411.5 365.5,410.4 365.8,410.0 366.1,411.1 366.4,411.5 366.7,412.1 367.0,413.2 367.3,412.8 367.6,412.2 367.9,412.0 368.2,411.8 368.5,411.6 368.8,411.8 369.1,411.8 369.4,411.9 369.7,412.1 370.0,412.2 370.3,412.1 370.6,412.0 370.9,412.2 371.2,412.2 371.5,411.0 371.8,411.1 372.1,411.1 372.4,411.3 372.7,412.0 373.0,412.9 373.3,413.1 373.5,413.3 373.8,412.8 374.1,412.1 374.4,411.8 374.7,412.0 375.0,411.2 375.3,411.3 375.6,411.7 375.9,411.9 376.2,411.4 376.5,412.1 376.8,411.8 377.1,411.6 377.4,412.3 377.7,412.3 378.0,412.2 378.3,412.6 378.6,412.5 378.9,411.3 379.2,411.5 379.5,410.9 379.8,411.2 380.1,411.1 380.4,411.7 380.7,411.6 381.0,411.0 381.3,410.9 381.5,410.8 381.8,410.6 382.1,410.4 382.4,411.5 382.7,411.4 383.0,412.2 383.3,411.5 383.6,411.6 383.9,411.1 384.2,411.4 384.5,410.0 384.8,409.9 385.1,410.1 385.4,410.0 385.7,409.5 386.0,409.7 386.3,411.0 386.6,410.7 386.9,410.7 387.2,410.1 387.5,410.9 387.8,410.4 388.1,411.0 388.4,410.8 388.7,411.1 389.0,410.2 389.3,409.7 389.6,409.0 389.8,410.0 390.1,410.3 390.4,410.3 390.7,410.5 391.0,411.3 391.3,411.2 391.6,411.4 391.9,412.1 392.2,412.2 392.5,411.9 392.8,411.5 393.1,411.0 393.4,410.8 393.7,411.2 394.0,410.4 394.3,410.7 394.6,411.4 394.9,411.2 395.2,410.3 395.5,410.9 395.8,410.3 396.1,410.1 396.4,410.6 396.7,411.5 397.0,411.3 397.3,411.7 397.6,411.0 397.8,411.1 398.1,410.3 398.4,410.6 398.7,410.0 399.0,410.7 399.3,410.0 399.6,410.7 399.9,410.9 400.2,411.6 400.5,411.2 400.8,412.4 401.1,412.4 401.4,412.1 401.7,411.9 402.0,412.3 402.3,411.2 402.6,410.8 402.9,410.6 403.2,410.0 403.5,410.3 403.8,409.9 404.1,410.1 404.4,410.8 404.7,411.3 405.0,410.9 405.3,411.3 405.6,411.4 405.9,410.9 406.1,411.0 406.4,410.5 406.7,410.5 407.0,410.2 407.3,410.5 407.6,410.2 407.9,409.8 408.2,410.5 408.5,410.4 408.8,409.4 409.1,408.8 409.4,409.7 409.7,408.9 410.0,408.7 410.3,409.6 410.6,410.1 410.9,409.7 411.2,409.4 411.5,409.8 411.8,409.4 412.1,409.5 412.4,409.0 412.7,409.8 413.0,409.5 413.3,410.0 413.6,407.9 413.9,407.6 414.1,406.9 414.4,405.8 414.7,405.9 415.0,407.6 415.3,407.3 415.6,407.1 415.9,408.2 416.2,407.6 416.5,407.7 416.8,408.8 417.1,408.8 417.4,408.5 417.7,409.1 418.0,409.0 418.3,409.0 418.6,409.9 418.9,409.5 419.2,409.0 419.5,408.3 419.8,408.2 420.1,408.0 420.4,408.8 420.7,408.0 421.0,408.4 421.3,408.6 421.6,408.1 421.9,408.4 422.1,408.8 422.4,409.5 422.7,409.9 423.0,410.0 423.3,409.2 423.6,410.4 423.9,410.0 424.2,410.1 424.5,410.1 424.8,410.2 425.1,409.4 425.4,410.1 425.7,410.3 426.0,411.3 426.3,411.2 426.6,411.9 426.9,411.6 427.2,410.4 427.5,409.6 427.8,408.7 428.1,408.6 428.4,408.8 428.7,409.8 429.0,409.9 429.3,411.1 429.6,409.9 429.9,409.8 430.2,409.0 430.4,409.6 430.7,409.6 431.0,410.2 431.3,409.8 431.6,410.5 431.9,410.2 432.2,409.7 432.5,410.1 432.8,409.2 433.1,408.7 433.4,408.2 433.7,408.7 434.0,407.2 434.3,407.8 434.6,408.4 434.9,409.0 435.2,409.7 435.5,411.2 435.8,412.2 436.1,412.6 436.4,411.5 436.7,410.5 437.0,410.6 437.3,408.9 437.6,408.5 437.9,408.1 438.2,408.0 438.4,407.3 438.7,408.2 439.0,408.1 439.3,408.9 439.6,408.0 439.9,408.1 440.2,408.3 440.5,408.8 440.8,408.3 441.1,409.4 441.4,410.0 441.7,409.4 442.0,408.5 442.3,408.9 442.6,408.9 442.9,409.4 443.2,409.5 443.5,409.9 443.8,410.3 444.1,410.5 444.4,409.5 444.7,409.9 445.0,409.8 445.3,409.4 445.6,409.2 445.9,409.7 446.2,410.0 446.5,410.9 446.7,411.7 447.0,411.2 447.3,410.6 447.6,410.7 447.9,410.5 448.2,410.1 448.5,410.5 448.8,410.7 449.1,409.7 449.4,409.3 449.7,408.9 450.0,408.7 450.3,408.4 450.6,409.3 450.9,409.1 451.2,409.4 451.5,409.6 451.8,409.9 452.1,409.6 452.4,408.7 452.7,409.8 453.0,409.3 453.3,409.2 453.6,409.5 453.9,410.5 454.2,410.0 454.5,410.0 454.7,409.6 455.0,408.8 455.3,407.6 455.6,407.6 455.9,408.4 456.2,408.9 456.5,408.6 456.8,409.1 457.1,408.7 457.4,408.0 457.7,407.3 458.0,408.3 458.3,408.1 458.6,407.0 458.9,406.7 459.2,406.7 459.5,406.4 459.8,407.9 460.1,409.2 460.4,410.4 460.7,411.2 461.0,410.8 461.3,410.0 461.6,409.4 461.9,408.5 462.2,409.3 462.5,409.7 462.7,409.6 463.0,409.3 463.3,409.2 463.6,408.2 463.9,409.0 464.2,409.2 464.5,410.3 464.8,411.0 465.1,411.7 465.4,411.5 465.7,411.7 466.0,411.6 466.3,411.8 466.6,411.5 466.9,411.1 467.2,411.5 467.5,411.7 467.8,412.5 468.1,412.3 468.4,412.3 468.7,412.5 469.0,412.8 469.3,411.8 469.6,412.0 469.9,412.0 470.2,411.6 470.5,410.3 470.8,410.3 471.0,410.3 471.3,410.1 471.6,410.4 471.9,410.9 472.2,410.9 472.5,410.9 472.8,411.1 473.1,410.7 473.4,411.2 473.7,410.4 474.0,410.1 474.3,410.3 474.6,410.6 474.9,409.8 475.2,410.7 475.5,411.2 475.8,410.4 476.1,409.3 476.4,410.0 476.7,409.5 477.0,409.0 477.3,409.1 477.6,409.1 477.9,407.7 478.2,407.6 478.5,406.4 478.8,406.8 479.0,407.1 479.3,407.6 479.6,408.0 479.9,407.5 480.2,407.1 480.5,406.2 480.8,405.7 481.1,405.4 481.4,405.9 481.7,406.2 482.0,406.4 482.3,405.7 482.6,405.7 482.9,406.3 483.2,406.3 483.5,406.4 483.8,406.8 484.1,406.4 484.4,406.8 484.7,406.8 485.0,407.7 485.3,408.1 485.6,408.4 485.9,408.3 486.2,408.5 486.5,408.1 486.8,408.3 487.1,408.6 487.3,409.1 487.6,409.6 487.9,410.1 488.2,410.8 488.5,410.8 488.8,409.6 489.1,409.1 489.4,409.5 489.7,409.4 490.0,409.9 490.3,410.6 490.6,410.4 490.9,408.8 491.2,408.3 491.5,407.9 491.8,407.5 492.1,407.9 492.4,408.7 492.7,408.1 493.0,407.9 493.3,408.2 493.6,408.1 493.9,408.8 494.2,409.4 494.5,409.1 494.8,409.7 495.1,409.9 495.3,410.1 495.6,409.2 495.9,410.5 496.2,410.6 496.5,410.8 496.8,409.9 497.1,411.6 497.4,411.7 497.7,411.4 498.0,411.7 498.3,411.9 498.6,410.8 498.9,410.3 499.2,411.6 499.5,411.3 499.8,411.7 500.1,411.8 500.4,411.3 500.7,409.9 501.0,409.6 501.3,409.7 501.6,410.3 501.9,411.2 502.2,411.8 502.5,412.1 502.8,412.0 503.1,411.5 503.3,411.9 503.6,411.0 503.9,410.6 504.2,410.2 504.5,410.8 504.8,410.3 505.1,410.6 505.4,411.1 505.7,411.8 506.0,411.8 506.3,412.0 506.6,412.0 506.9,411.7 507.2,411.1 507.5,411.1 507.8,410.8 508.1,410.8 508.4,410.8 508.7,410.3 509.0,411.0 509.3,410.8 509.6,410.9 509.9,411.0 510.2,412.3 510.5,411.6 510.8,411.8 511.1,411.6 511.4,411.1 511.6,410.0 511.9,409.8 512.2,409.6 512.5,410.1 512.8,410.2 513.1,410.6 513.4,410.4 513.7,410.3 514.0,410.4 514.3,410.8 514.6,411.1 514.9,411.8 515.2,412.4 515.5,412.7 515.8,413.4 516.1,413.1 516.4,412.5 516.7,412.0 517.0,411.2 517.3,410.8 517.6,410.1 517.9,410.6 518.2,410.8 518.5,410.8 518.8,411.3 519.1,411.9 519.4,411.6 519.6,410.9 519.9,411.6 520.2,410.9 520.5,411.9 520.8,412.0 521.1,413.4 521.4,413.4 521.7,413.4 522.0,412.8 522.3,413.2 522.6,412.4 522.9,411.8 523.2,412.2 523.5,412.5 523.8,412.3 524.1,413.1 524.4,413.2 524.7,413.2 525.0,412.6 525.3,412.6 525.6,412.1 525.9,411.6 526.2,411.7 526.5,411.2 526.8,410.6 527.1,410.2 527.4,411.2 527.7,410.7 527.9,410.9 528.2,411.0 528.5,411.4 528.8,410.8 529.1,411.5 529.4,412.0 529.7,412.0 530.0,412.4 530.3,412.5 530.6,411.8 530.9,410.8 531.2,411.0 531.5,411.5 531.8,411.3 532.1,411.3 532.4,411.9 532.7,412.0 533.0,411.7 533.3,411.8 533.6,411.2 533.9,411.0 534.2,411.0 534.5,411.0 534.8,411.0 535.1,412.6 535.4,413.0 535.7,413.1 535.9,412.8 536.2,412.8 536.5,412.2 536.8,412.4 537.1,413.1 537.4,412.9 537.7,413.4 538.0,413.4 538.3,413.3 538.6,412.7 538.9,412.2 539.2,411.4 539.5,410.7 539.8,411.2 540.1,410.4 540.4,411.0 540.7,411.2 541.0,411.3 541.3,412.1 541.6,413.1 541.9,412.5 542.2,412.4 542.5,411.8 542.8,410.6 543.1,410.3 543.4,410.8 543.7,410.4 543.9,410.4 544.2,410.8 544.5,409.8 544.8,409.6 545.1,408.9 545.4,409.3 545.7,408.6 546.0,408.6 546.3,407.9 546.6,407.8 546.9,408.4 547.2,408.0 547.5,408.2 547.8,409.5 548.1,410.3 548.4,410.1 548.7,410.7 549.0,411.0 549.3,410.4 549.6,409.9 549.9,410.2 550.2,411.2 550.5,411.1 550.8,411.8 551.1,411.9 551.4,411.9 551.7,411.8 552.0,411.6 552.2,410.5 552.5,410.9 552.8,410.7 553.1,411.0 553.4,411.5 553.7,412.2 554.0,412.5 554.3,412.4 554.6,411.3 554.9,411.0 555.2,411.8 555.5,410.5 555.8,409.6 556.1,410.4 556.4,409.8 556.7,409.0 557.0,409.3 557.3,409.6 557.6,409.3 557.9,409.6 558.2,408.8 558.5,408.8 558.8,409.3 559.1,408.4 559.4,408.5 559.7,408.0 560.0,407.8 560.2,407.0 560.5,408.1 560.8,407.2 561.1,407.8 561.4,408.3 561.7,409.0 562.0,408.7 562.3,409.2 562.6,410.4 562.9,410.3 563.2,410.7 563.5,411.2 563.8,411.6 564.1,410.6 564.4,411.1 564.7,410.5 565.0,409.7 565.3,410.0 565.6,410.5 565.9,410.4 566.2,410.6 566.5,410.6 566.8,410.7 567.1,410.8 567.4,411.2 567.7,410.4 568.0,410.7 568.3,410.9 568.5,410.7 568.8,409.7 569.1,410.7 569.4,411.0 569.7,410.0 570.0,409.0 570.3,409.7 570.6,408.8 570.9,409.3 571.2,409.5 571.5,410.2 571.8,410.8 572.1,410.5 572.4,410.0 572.7,410.1 573.0,410.1 573.3,408.2 573.6,408.2 573.9,408.3 574.2,407.8 574.5,407.3 574.8,407.9 575.1,409.6 575.4,409.5 575.7,410.9 576.0,411.5 576.3,412.4 576.5,411.6 576.8,412.6 577.1,412.4 577.4,413.0 577.7,412.4 578.0,412.5 578.3,411.5 578.6,410.9 578.9,410.1 579.2,410.8 579.5,410.9 579.8,411.9 580.1,412.5 580.4,412.9 580.7,412.8 581.0,412.7 581.3,412.0 581.6,411.2 581.9,410.7 582.2,410.6 582.5,410.8 582.8,411.0 583.1,411.2 583.4,411.8 583.7,411.4 584.0,411.7 584.3,411.5 584.5,412.4 584.8,411.8 585.1,412.1 585.4,411.8 585.7,412.3 586.0,412.8 586.3,413.2 586.6,412.8 586.9,413.0 587.2,412.2 587.5,411.4 587.8,410.9 588.1,411.6 588.4,410.6 588.7,411.1 589.0,410.7 589.3,410.3 589.6,409.9 589.9,410.4 590.2,410.2 590.5,409.9 590.8,411.1 591.1,411.7 591.4,411.2 591.7,411.2 592.0,411.3 592.3,411.0 592.6,410.5 592.8,410.7 593.1,410.7 593.4,410.9 593.7,411.2 594.0,411.2 594.3,411.3 594.6,411.6 594.9,411.8 595.2,411.1 595.5,411.0 595.8,411.0 596.1,411.1 596.4,411.2 596.7,412.0 597.0,411.9 597.3,412.9 597.6,412.2 597.9,411.9 598.2,411.2 598.5,411.0 598.8,410.0 599.1,411.1 599.4,410.8 599.7,410.5 600.0,410.9 600.3,411.0 600.6,409.7 600.8,409.6 601.1,410.6 601.4,409.9 601.7,410.8 602.0,410.9 602.3,411.0 602.6,410.4 602.9,410.7 603.2,409.7 603.5,409.6 603.8,409.8 604.1,409.6 604.4,410.3 604.7,411.1 605.0,411.9 605.3,412.6 605.6,412.8 605.9,412.3 606.2,411.6 606.5,411.0 606.8,411.7 607.1,412.1 607.4,412.3 607.7,413.0 608.0,412.6 608.3,411.5 608.6,410.9 608.9,410.6 609.1,410.3 609.4,411.1 609.7,410.1 610.0,410.4 610.3,410.7 610.6,410.4 610.9,410.7 611.2,410.7 611.5,411.1 611.8,410.9 612.1,410.7 612.4,410.4 612.7,410.2 613.0,409.8 613.3,409.5 613.6,409.7 613.9,409.3 614.2,410.0 614.5,409.2 614.8,409.4 615.1,410.0 615.4,409.5 615.7,409.2 616.0,410.3 616.3,410.5 616.6,409.6 616.9,410.2 617.1,410.7 617.4,410.7 617.7,410.8 618.0,411.2 618.3,411.9 618.6,412.4 618.9,413.1 619.2,413.1 619.5,413.4 619.8,413.2 620.1,413.1 620.4,412.4 620.7,412.0 621.0,411.5 621.3,411.9 621.6,411.8 621.9,412.1 622.2,412.3 622.5,412.3 622.8,411.6 623.1,411.1 623.4,410.7 623.7,410.9 624.0,410.9 624.3,411.8 624.6,412.8 624.9,412.7 625.1,412.1 625.4,413.4 625.7,412.6 626.0,412.5 626.3,413.1 626.6,413.2 626.9,412.0 627.2,412.4 627.5,412.1 627.8,411.1 628.1,411.3 628.4,411.2 628.7,410.5 629.0,409.9 629.3,410.1 629.6,409.7 629.9,409.5 630.2,410.6 630.5,410.3 630.8,410.9 631.1,410.7 631.4,410.3 631.7,411.0 632.0,410.5 632.3,410.8 632.6,411.2 632.9,411.6 633.2,410.4 633.4,411.1 633.7,410.0 634.0,410.1 634.3,410.3 634.6,410.3 634.9,410.5 635.2,411.1 635.5,411.3 635.8,411.3 636.1,411.0 636.4,411.3 636.7,411.6 637.0,411.0 637.3,410.9 637.6,410.7 637.9,410.3 638.2,410.2 638.5,410.5 638.8,409.5 639.1,410.3 639.4,410.5 639.7,410.7 640.0,410.7 640.3,411.5 640.6,410.2 640.9,411.0 641.2,410.1 641.4,410.1 641.7,409.8 642.0,410.8 642.3,409.7 642.6,410.3 642.9,410.6 643.2,410.6 643.5,411.7 643.8,411.5 644.1,411.7 644.4,410.4 644.7,409.1 645.0,406.0 645.3,405.2 645.6,403.6 645.9,403.2 646.2,403.9" fill="none" stroke="#000" stroke-width="2.6" stroke-linejoin="round"/>
<line x1="128.6" x2="128.6" y1="279.2" y2="413.4" stroke="#ee3340" stroke-width="1.1" stroke-dasharray="3.5 2.5"/>
<text x="0" y="0" transform="translate(147.5,370.6) rotate(-90)" font-size="23.4" textLength="78.6" lengthAdjust="spacingAndGlyphs" fill="#fa3c48" stroke="#fa3c48" stroke-width="0.25">7.32sec</text>
<line x1="85.2" x2="654.0" y1="279.2" y2="279.2" stroke="#858585" stroke-width="1.1"/>
<line x1="85.2" x2="654.0" y1="413.4" y2="413.4" stroke="#a8a8a8" stroke-width="1.3"/>
<line x1="85.2" x2="85.2" y1="279.2" y2="413.4" stroke="#a8a8a8" stroke-width="1.3"/>
<line x1="654.0" x2="654.0" y1="279.2" y2="413.4" stroke="#a0a0a0" stroke-width="1.3"/>
<line x1="85.2" x2="85.2" y1="413.4" y2="408.4" stroke="#8a8a8a" stroke-width="1"/>
<line x1="85.2" x2="85.2" y1="279.2" y2="284.2" stroke="#8a8a8a" stroke-width="1"/>
<text x="87.2" y="428.9" font-size="18.4" text-anchor="middle" fill="#222" stroke="#222" stroke-width="0.22">0</text>
<line x1="144.5" x2="144.5" y1="413.4" y2="408.4" stroke="#8a8a8a" stroke-width="1"/>
<line x1="144.5" x2="144.5" y1="279.2" y2="284.2" stroke="#8a8a8a" stroke-width="1"/>
<text x="146.5" y="428.9" font-size="18.4" text-anchor="middle" fill="#222" stroke="#222" stroke-width="0.22">10</text>
<line x1="203.7" x2="203.7" y1="413.4" y2="408.4" stroke="#8a8a8a" stroke-width="1"/>
<line x1="203.7" x2="203.7" y1="279.2" y2="284.2" stroke="#8a8a8a" stroke-width="1"/>
<text x="205.7" y="428.9" font-size="18.4" text-anchor="middle" fill="#222" stroke="#222" stroke-width="0.22">20</text>
<line x1="263.0" x2="263.0" y1="413.4" y2="408.4" stroke="#8a8a8a" stroke-width="1"/>
<line x1="263.0" x2="263.0" y1="279.2" y2="284.2" stroke="#8a8a8a" stroke-width="1"/>
<text x="265.0" y="428.9" font-size="18.4" text-anchor="middle" fill="#222" stroke="#222" stroke-width="0.22">30</text>
<line x1="322.3" x2="322.3" y1="413.4" y2="408.4" stroke="#8a8a8a" stroke-width="1"/>
<line x1="322.3" x2="322.3" y1="279.2" y2="284.2" stroke="#8a8a8a" stroke-width="1"/>
<text x="324.3" y="428.9" font-size="18.4" text-anchor="middle" fill="#222" stroke="#222" stroke-width="0.22">40</text>
<line x1="381.5" x2="381.5" y1="413.4" y2="408.4" stroke="#8a8a8a" stroke-width="1"/>
<line x1="381.5" x2="381.5" y1="279.2" y2="284.2" stroke="#8a8a8a" stroke-width="1"/>
<text x="383.5" y="428.9" font-size="18.4" text-anchor="middle" fill="#222" stroke="#222" stroke-width="0.22">50</text>
<line x1="440.8" x2="440.8" y1="413.4" y2="408.4" stroke="#8a8a8a" stroke-width="1"/>
<line x1="440.8" x2="440.8" y1="279.2" y2="284.2" stroke="#8a8a8a" stroke-width="1"/>
<text x="442.8" y="428.9" font-size="18.4" text-anchor="middle" fill="#222" stroke="#222" stroke-width="0.22">60</text>
<line x1="500.1" x2="500.1" y1="413.4" y2="408.4" stroke="#8a8a8a" stroke-width="1"/>
<line x1="500.1" x2="500.1" y1="279.2" y2="284.2" stroke="#8a8a8a" stroke-width="1"/>
<text x="502.1" y="428.9" font-size="18.4" text-anchor="middle" fill="#222" stroke="#222" stroke-width="0.22">70</text>
<line x1="559.4" x2="559.4" y1="413.4" y2="408.4" stroke="#8a8a8a" stroke-width="1"/>
<line x1="559.4" x2="559.4" y1="279.2" y2="284.2" stroke="#8a8a8a" stroke-width="1"/>
<text x="561.4" y="428.9" font-size="18.4" text-anchor="middle" fill="#222" stroke="#222" stroke-width="0.22">80</text>
<line x1="618.6" x2="618.6" y1="413.4" y2="408.4" stroke="#8a8a8a" stroke-width="1"/>
<line x1="618.6" x2="618.6" y1="279.2" y2="284.2" stroke="#8a8a8a" stroke-width="1"/>
<text x="620.6" y="428.9" font-size="18.4" text-anchor="middle" fill="#222" stroke="#222" stroke-width="0.22">90</text>
<line x1="85.2" x2="90.2" y1="413.4" y2="413.4" stroke="#8a8a8a" stroke-width="1"/>
<line x1="654.0" x2="649.0" y1="413.4" y2="413.4" stroke="#8a8a8a" stroke-width="1"/>
<text x="81.9" y="417.1" font-size="18.2" text-anchor="end" fill="#222" stroke="#222" stroke-width="0.22">0</text>
<line x1="85.2" x2="90.2" y1="379.8" y2="379.8" stroke="#8a8a8a" stroke-width="1"/>
<line x1="654.0" x2="649.0" y1="379.8" y2="379.8" stroke="#8a8a8a" stroke-width="1"/>
<text x="81.9" y="383.5" font-size="18.2" text-anchor="end" fill="#222" stroke="#222" stroke-width="0.22">100</text>
<line x1="85.2" x2="90.2" y1="346.3" y2="346.3" stroke="#8a8a8a" stroke-width="1"/>
<line x1="654.0" x2="649.0" y1="346.3" y2="346.3" stroke="#8a8a8a" stroke-width="1"/>
<text x="81.9" y="350.0" font-size="18.2" text-anchor="end" fill="#222" stroke="#222" stroke-width="0.22">200</text>
<line x1="85.2" x2="90.2" y1="312.8" y2="312.8" stroke="#8a8a8a" stroke-width="1"/>
<line x1="654.0" x2="649.0" y1="312.8" y2="312.8" stroke="#8a8a8a" stroke-width="1"/>
<text x="81.9" y="316.4" font-size="18.2" text-anchor="end" fill="#222" stroke="#222" stroke-width="0.22">300</text>
<line x1="85.2" x2="90.2" y1="279.2" y2="279.2" stroke="#8a8a8a" stroke-width="1"/>
<line x1="654.0" x2="649.0" y1="279.2" y2="279.2" stroke="#8a8a8a" stroke-width="1"/>
<text x="81.9" y="282.9" font-size="18.2" text-anchor="end" fill="#222" stroke="#222" stroke-width="0.22">400</text>
<text x="370.4" y="448.4" font-size="23.4" textLength="157.5" lengthAdjust="spacingAndGlyphs" text-anchor="middle" fill="#222" stroke="#222" stroke-width="0.25">Time (seconds)</text>
<text x="196.5" y="305.7" font-size="23" fill="#222" stroke="#222" stroke-width="0.25">sfGFP</text>
<text x="0" y="0" transform="translate(37.1,367.4) rotate(-90)" font-size="22.6" textLength="214" lengthAdjust="spacingAndGlyphs" fill="#222" stroke="#222" stroke-width="0.22">Fluorescence counts</text>
<clipPath id="cp9"><rect x="39" y="467.8" width="76" height="62.5"/></clipPath>
<rect x="39" y="467.8" width="76" height="62.5" fill="#000"/>
<g clip-path="url(#cp9)"><g filter="url(#pblur)">
<rect x="46.63" y="465.61" width="3.83" height="3.83" fill="#1c3c6c"/>
<rect x="50.45" y="465.61" width="3.83" height="3.83" fill="#122848"/>
<rect x="92.41" y="465.61" width="3.83" height="3.83" fill="#1c3c6c"/>
<rect x="96.22" y="465.61" width="3.83" height="3.83" fill="#27548f"/>
<rect x="100.04" y="465.61" width="3.83" height="3.83" fill="#3468b0"/>
<rect x="103.86" y="465.61" width="3.83" height="3.83" fill="#1c3c6c"/>
<rect x="111.48" y="465.61" width="3.83" height="3.83" fill="#122848"/>
<rect x="58.08" y="469.42" width="3.83" height="3.83" fill="#122848"/>
<rect x="88.59" y="469.42" width="3.83" height="3.83" fill="#1c3c6c"/>
<rect x="92.41" y="469.42" width="3.83" height="3.83" fill="#3a8c98"/>
<rect x="96.22" y="469.42" width="3.83" height="3.83" fill="#46b872"/>
<rect x="100.04" y="469.42" width="3.83" height="3.83" fill="#58ff26"/>
<rect x="103.86" y="469.42" width="3.83" height="3.83" fill="#3468b0"/>
<rect x="111.48" y="469.42" width="3.83" height="3.83" fill="#0a1628"/>
<rect x="39.00" y="473.24" width="3.83" height="3.83" fill="#122848"/>
<rect x="84.78" y="473.24" width="3.83" height="3.83" fill="#0a1628"/>
<rect x="88.59" y="473.24" width="3.83" height="3.83" fill="#1c3c6c"/>
<rect x="92.41" y="473.24" width="3.83" height="3.83" fill="#122848"/>
<rect x="96.22" y="473.24" width="3.83" height="3.83" fill="#27548f"/>
<rect x="100.04" y="473.24" width="3.83" height="3.83" fill="#1c3c6c"/>
<rect x="103.86" y="473.24" width="3.83" height="3.83" fill="#122848"/>
<rect x="39.00" y="477.05" width="3.83" height="3.83" fill="#0a1628"/>
<rect x="58.08" y="477.05" width="3.83" height="3.83" fill="#1c3c6c"/>
<rect x="65.70" y="477.05" width="3.83" height="3.83" fill="#0a1628"/>
<rect x="61.89" y="480.87" width="3.83" height="3.83" fill="#122848"/>
<rect x="65.70" y="480.87" width="3.83" height="3.83" fill="#3468b0"/>
<rect x="73.34" y="480.87" width="3.83" height="3.83" fill="#0a1628"/>
<rect x="111.48" y="480.87" width="3.83" height="3.83" fill="#1c3c6c"/>
<rect x="69.52" y="484.68" width="3.83" height="3.83" fill="#1c3c6c"/>
<rect x="73.34" y="484.68" width="3.83" height="3.83" fill="#3a8c98"/>
<rect x="77.15" y="484.68" width="3.83" height="3.83" fill="#27548f"/>
<rect x="80.97" y="484.68" width="3.83" height="3.83" fill="#27548f"/>
<rect x="84.78" y="484.68" width="3.83" height="3.83" fill="#1c3c6c"/>
<rect x="88.59" y="484.68" width="3.83" height="3.83" fill="#1c3c6c"/>
<rect x="107.67" y="484.68" width="3.83" height="3.83" fill="#3468b0"/>
<rect x="42.81" y="488.50" width="3.83" height="3.83" fill="#0a1628"/>
<rect x="65.70" y="488.50" width="3.83" height="3.83" fill="#0a1628"/>
<rect x="73.34" y="488.50" width="3.83" height="3.83" fill="#3468b0"/>
<rect x="77.15" y="488.50" width="3.83" height="3.83" fill="#eeff4c"/>
<rect x="80.97" y="488.50" width="3.83" height="3.83" fill="#58ff26"/>
<rect x="84.78" y="488.50" width="3.83" height="3.83" fill="#3a8c98"/>
<rect x="88.59" y="488.50" width="3.83" height="3.83" fill="#0a1628"/>
<rect x="39.00" y="492.31" width="3.83" height="3.83" fill="#122848"/>
<rect x="42.81" y="492.31" width="3.83" height="3.83" fill="#1c3c6c"/>
<rect x="73.34" y="492.31" width="3.83" height="3.83" fill="#46b872"/>
<rect x="77.15" y="492.31" width="3.83" height="3.83" fill="#ffffe8"/>
<rect x="80.97" y="492.31" width="3.83" height="3.83" fill="#ffffe8"/>
<rect x="84.78" y="492.31" width="3.83" height="3.83" fill="#3ee43c"/>
<rect x="46.63" y="496.12" width="3.83" height="3.83" fill="#122848"/>
<rect x="65.70" y="496.12" width="3.83" height="3.83" fill="#27548f"/>
<rect x="69.52" y="496.12" width="3.83" height="3.83" fill="#1c3c6c"/>
<rect x="73.34" y="496.12" width="3.83" height="3.83" fill="#27548f"/>
<rect x="77.15" y="496.12" width="3.83" height="3.83" fill="#eeff4c"/>
<rect x="80.97" y="496.12" width="3.83" height="3.83" fill="#c4ff3a"/>
<rect x="84.78" y="496.12" width="3.83" height="3.83" fill="#122848"/>
<rect x="92.41" y="496.12" width="3.83" height="3.83" fill="#0a1628"/>
<rect x="73.34" y="499.94" width="3.83" height="3.83" fill="#3468b0"/>
<rect x="77.15" y="499.94" width="3.83" height="3.83" fill="#3468b0"/>
<rect x="80.97" y="499.94" width="3.83" height="3.83" fill="#0a1628"/>
<rect x="50.45" y="503.75" width="3.83" height="3.83" fill="#122848"/>
<rect x="54.26" y="503.75" width="3.83" height="3.83" fill="#3468b0"/>
<rect x="73.34" y="503.75" width="3.83" height="3.83" fill="#0a1628"/>
<rect x="88.59" y="507.57" width="3.83" height="3.83" fill="#122848"/>
<rect x="107.67" y="507.57" width="3.83" height="3.83" fill="#27548f"/>
<rect x="54.26" y="511.38" width="3.83" height="3.83" fill="#0a1628"/>
<rect x="58.08" y="511.38" width="3.83" height="3.83" fill="#0a1628"/>
<rect x="69.52" y="511.38" width="3.83" height="3.83" fill="#1c3c6c"/>
<rect x="50.45" y="515.20" width="3.83" height="3.83" fill="#0a1628"/>
<rect x="58.08" y="515.20" width="3.83" height="3.83" fill="#0a1628"/>
<rect x="39.00" y="519.01" width="3.83" height="3.83" fill="#27548f"/>
<rect x="42.81" y="519.01" width="3.83" height="3.83" fill="#27548f"/>
<rect x="84.78" y="519.01" width="3.83" height="3.83" fill="#1c3c6c"/>
<rect x="88.59" y="519.01" width="3.83" height="3.83" fill="#1c3c6c"/>
<rect x="39.00" y="522.83" width="3.83" height="3.83" fill="#3468b0"/>
<rect x="42.81" y="522.83" width="3.83" height="3.83" fill="#1c3c6c"/>
<rect x="54.26" y="522.83" width="3.83" height="3.83" fill="#122848"/>
<rect x="58.08" y="522.83" width="3.83" height="3.83" fill="#1c3c6c"/>
<rect x="39.00" y="526.64" width="3.83" height="3.83" fill="#3ee43c"/>
<rect x="42.81" y="526.64" width="3.83" height="3.83" fill="#27548f"/>
<rect x="46.63" y="526.64" width="3.83" height="3.83" fill="#122848"/>
<rect x="88.59" y="526.64" width="3.83" height="3.83" fill="#122848"/>
</g></g>
<rect x="69.10" y="485.90" width="21.60" height="19.90" rx="2" fill="none" stroke="#c41a56" stroke-width="2" stroke-dasharray="6.7 3"/>
<clipPath id="cp10"><rect x="117" y="467.8" width="76" height="62.5"/></clipPath>
<rect x="117" y="467.8" width="76" height="62.5" fill="#000"/>
<g clip-path="url(#cp10)"><g filter="url(#pblur)">
<rect x="117.00" y="465.61" width="3.83" height="3.83" fill="#0a1628"/>
<rect x="139.89" y="465.61" width="3.83" height="3.83" fill="#122848"/>
<rect x="155.15" y="465.61" width="3.83" height="3.83" fill="#1c3c6c"/>
<rect x="162.78" y="465.61" width="3.83" height="3.83" fill="#1c3c6c"/>
<rect x="170.41" y="465.61" width="3.83" height="3.83" fill="#0a1628"/>
<rect x="174.22" y="465.61" width="3.83" height="3.83" fill="#0a1628"/>
<rect x="178.04" y="465.61" width="3.83" height="3.83" fill="#1c3c6c"/>
<rect x="185.67" y="465.61" width="3.83" height="3.83" fill="#3a8c98"/>
<rect x="189.49" y="465.61" width="3.83" height="3.83" fill="#122848"/>
<rect x="117.00" y="469.42" width="3.83" height="3.83" fill="#3468b0"/>
<rect x="124.63" y="469.42" width="3.83" height="3.83" fill="#3a8c98"/>
<rect x="128.44" y="469.42" width="3.83" height="3.83" fill="#27548f"/>
<rect x="151.34" y="469.42" width="3.83" height="3.83" fill="#122848"/>
<rect x="155.15" y="469.42" width="3.83" height="3.83" fill="#3468b0"/>
<rect x="178.04" y="469.42" width="3.83" height="3.83" fill="#122848"/>
<rect x="181.86" y="469.42" width="3.83" height="3.83" fill="#27548f"/>
<rect x="185.67" y="469.42" width="3.83" height="3.83" fill="#122848"/>
<rect x="120.81" y="473.24" width="3.83" height="3.83" fill="#58ff26"/>
<rect x="124.63" y="473.24" width="3.83" height="3.83" fill="#c4ff3a"/>
<rect x="128.44" y="473.24" width="3.83" height="3.83" fill="#3a8c98"/>
<rect x="132.26" y="473.24" width="3.83" height="3.83" fill="#0a1628"/>
<rect x="139.89" y="473.24" width="3.83" height="3.83" fill="#0a1628"/>
<rect x="151.34" y="473.24" width="3.83" height="3.83" fill="#3468b0"/>
<rect x="155.15" y="473.24" width="3.83" height="3.83" fill="#1c3c6c"/>
<rect x="158.97" y="473.24" width="3.83" height="3.83" fill="#3468b0"/>
<rect x="120.81" y="477.05" width="3.83" height="3.83" fill="#27548f"/>
<rect x="124.63" y="477.05" width="3.83" height="3.83" fill="#27548f"/>
<rect x="136.07" y="477.05" width="3.83" height="3.83" fill="#122848"/>
<rect x="139.89" y="477.05" width="3.83" height="3.83" fill="#1c3c6c"/>
<rect x="162.78" y="477.05" width="3.83" height="3.83" fill="#0a1628"/>
<rect x="139.89" y="480.87" width="3.83" height="3.83" fill="#3468b0"/>
<rect x="158.97" y="480.87" width="3.83" height="3.83" fill="#122848"/>
<rect x="162.78" y="480.87" width="3.83" height="3.83" fill="#1c3c6c"/>
<rect x="136.07" y="484.68" width="3.83" height="3.83" fill="#122848"/>
<rect x="143.70" y="484.68" width="3.83" height="3.83" fill="#1c3c6c"/>
<rect x="158.97" y="484.68" width="3.83" height="3.83" fill="#122848"/>
<rect x="185.67" y="484.68" width="3.83" height="3.83" fill="#122848"/>
<rect x="117.00" y="488.50" width="3.83" height="3.83" fill="#1c3c6c"/>
<rect x="132.26" y="488.50" width="3.83" height="3.83" fill="#27548f"/>
<rect x="143.70" y="488.50" width="3.83" height="3.83" fill="#1c3c6c"/>
<rect x="151.34" y="488.50" width="3.83" height="3.83" fill="#0a1628"/>
<rect x="178.04" y="488.50" width="3.83" height="3.83" fill="#0a1628"/>
<rect x="132.26" y="492.31" width="3.83" height="3.83" fill="#27548f"/>
<rect x="147.52" y="492.31" width="3.83" height="3.83" fill="#0a1628"/>
<rect x="178.04" y="492.31" width="3.83" height="3.83" fill="#122848"/>
<rect x="181.86" y="492.31" width="3.83" height="3.83" fill="#27548f"/>
<rect x="155.15" y="496.12" width="3.83" height="3.83" fill="#27548f"/>
<rect x="174.22" y="496.12" width="3.83" height="3.83" fill="#0a1628"/>
<rect x="181.86" y="496.12" width="3.83" height="3.83" fill="#1c3c6c"/>
<rect x="117.00" y="499.94" width="3.83" height="3.83" fill="#0a1628"/>
<rect x="120.81" y="503.75" width="3.83" height="3.83" fill="#0a1628"/>
<rect x="147.52" y="503.75" width="3.83" height="3.83" fill="#27548f"/>
<rect x="158.97" y="503.75" width="3.83" height="3.83" fill="#122848"/>
<rect x="178.04" y="507.57" width="3.83" height="3.83" fill="#0a1628"/>
<rect x="136.07" y="511.38" width="3.83" height="3.83" fill="#122848"/>
<rect x="178.04" y="511.38" width="3.83" height="3.83" fill="#122848"/>
<rect x="181.86" y="511.38" width="3.83" height="3.83" fill="#27548f"/>
<rect x="178.04" y="515.20" width="3.83" height="3.83" fill="#0a1628"/>
<rect x="170.41" y="519.01" width="3.83" height="3.83" fill="#122848"/>
<rect x="174.22" y="519.01" width="3.83" height="3.83" fill="#0a1628"/>
<rect x="124.63" y="522.83" width="3.83" height="3.83" fill="#122848"/>
<rect x="143.70" y="522.83" width="3.83" height="3.83" fill="#1c3c6c"/>
<rect x="166.59" y="522.83" width="3.83" height="3.83" fill="#0a1628"/>
<rect x="170.41" y="522.83" width="3.83" height="3.83" fill="#0a1628"/>
<rect x="181.86" y="522.83" width="3.83" height="3.83" fill="#122848"/>
<rect x="143.70" y="526.64" width="3.83" height="3.83" fill="#27548f"/>
</g></g>
<rect x="147.10" y="485.90" width="21.60" height="19.90" rx="2" fill="none" stroke="#c41a56" stroke-width="2" stroke-dasharray="6.7 3"/>
<text x="157.8" y="464.6" font-size="15.2" textLength="32.8" lengthAdjust="spacingAndGlyphs" text-anchor="middle" fill="#111" stroke="#111" stroke-width="0.22">12.5</text>
<clipPath id="cp11"><rect x="195" y="467.8" width="76" height="62.5"/></clipPath>
<rect x="195" y="467.8" width="76" height="62.5" fill="#000"/>
<g clip-path="url(#cp11)"><g filter="url(#pblur)">
<rect x="195.00" y="465.61" width="3.83" height="3.83" fill="#27548f"/>
<rect x="198.81" y="465.61" width="3.83" height="3.83" fill="#27548f"/>
<rect x="202.63" y="465.61" width="3.83" height="3.83" fill="#27548f"/>
<rect x="206.44" y="465.61" width="3.83" height="3.83" fill="#27548f"/>
<rect x="210.26" y="465.61" width="3.83" height="3.83" fill="#3468b0"/>
<rect x="198.81" y="469.42" width="3.83" height="3.83" fill="#122848"/>
<rect x="202.63" y="469.42" width="3.83" height="3.83" fill="#0a1628"/>
<rect x="206.44" y="469.42" width="3.83" height="3.83" fill="#122848"/>
<rect x="210.26" y="469.42" width="3.83" height="3.83" fill="#3468b0"/>
<rect x="233.15" y="469.42" width="3.83" height="3.83" fill="#122848"/>
<rect x="240.78" y="469.42" width="3.83" height="3.83" fill="#122848"/>
<rect x="244.59" y="469.42" width="3.83" height="3.83" fill="#122848"/>
<rect x="248.41" y="469.42" width="3.83" height="3.83" fill="#0a1628"/>
<rect x="198.81" y="473.24" width="3.83" height="3.83" fill="#0a1628"/>
<rect x="202.63" y="473.24" width="3.83" height="3.83" fill="#122848"/>
<rect x="210.26" y="473.24" width="3.83" height="3.83" fill="#122848"/>
<rect x="217.89" y="473.24" width="3.83" height="3.83" fill="#122848"/>
<rect x="236.97" y="473.24" width="3.83" height="3.83" fill="#0a1628"/>
<rect x="240.78" y="473.24" width="3.83" height="3.83" fill="#3468b0"/>
<rect x="244.59" y="473.24" width="3.83" height="3.83" fill="#3a8c98"/>
<rect x="248.41" y="473.24" width="3.83" height="3.83" fill="#3468b0"/>
<rect x="217.89" y="477.05" width="3.83" height="3.83" fill="#1c3c6c"/>
<rect x="221.70" y="477.05" width="3.83" height="3.83" fill="#1c3c6c"/>
<rect x="240.78" y="477.05" width="3.83" height="3.83" fill="#3468b0"/>
<rect x="244.59" y="477.05" width="3.83" height="3.83" fill="#27548f"/>
<rect x="229.34" y="480.87" width="3.83" height="3.83" fill="#122848"/>
<rect x="217.89" y="484.68" width="3.83" height="3.83" fill="#0a1628"/>
<rect x="259.86" y="484.68" width="3.83" height="3.83" fill="#3468b0"/>
<rect x="248.41" y="488.50" width="3.83" height="3.83" fill="#27548f"/>
<rect x="195.00" y="492.31" width="3.83" height="3.83" fill="#122848"/>
<rect x="256.04" y="492.31" width="3.83" height="3.83" fill="#122848"/>
<rect x="267.49" y="492.31" width="3.83" height="3.83" fill="#122848"/>
<rect x="195.00" y="496.12" width="3.83" height="3.83" fill="#0a1628"/>
<rect x="233.15" y="496.12" width="3.83" height="3.83" fill="#27548f"/>
<rect x="236.97" y="496.12" width="3.83" height="3.83" fill="#3468b0"/>
<rect x="240.78" y="496.12" width="3.83" height="3.83" fill="#1c3c6c"/>
<rect x="256.04" y="496.12" width="3.83" height="3.83" fill="#122848"/>
<rect x="259.86" y="496.12" width="3.83" height="3.83" fill="#0a1628"/>
<rect x="267.49" y="496.12" width="3.83" height="3.83" fill="#122848"/>
<rect x="236.97" y="499.94" width="3.83" height="3.83" fill="#1c3c6c"/>
<rect x="240.78" y="499.94" width="3.83" height="3.83" fill="#122848"/>
<rect x="259.86" y="499.94" width="3.83" height="3.83" fill="#122848"/>
<rect x="263.67" y="499.94" width="3.83" height="3.83" fill="#122848"/>
<rect x="267.49" y="499.94" width="3.83" height="3.83" fill="#122848"/>
<rect x="221.70" y="503.75" width="3.83" height="3.83" fill="#1c3c6c"/>
<rect x="225.52" y="503.75" width="3.83" height="3.83" fill="#122848"/>
<rect x="248.41" y="503.75" width="3.83" height="3.83" fill="#3468b0"/>
<rect x="263.67" y="503.75" width="3.83" height="3.83" fill="#3468b0"/>
<rect x="267.49" y="503.75" width="3.83" height="3.83" fill="#27548f"/>
<rect x="252.22" y="507.57" width="3.83" height="3.83" fill="#122848"/>
<rect x="256.04" y="507.57" width="3.83" height="3.83" fill="#0a1628"/>
<rect x="263.67" y="507.57" width="3.83" height="3.83" fill="#122848"/>
<rect x="233.15" y="511.38" width="3.83" height="3.83" fill="#122848"/>
<rect x="263.67" y="511.38" width="3.83" height="3.83" fill="#3468b0"/>
<rect x="267.49" y="511.38" width="3.83" height="3.83" fill="#27548f"/>
<rect x="202.63" y="515.20" width="3.83" height="3.83" fill="#0a1628"/>
<rect x="217.89" y="515.20" width="3.83" height="3.83" fill="#122848"/>
<rect x="225.52" y="515.20" width="3.83" height="3.83" fill="#122848"/>
<rect x="233.15" y="515.20" width="3.83" height="3.83" fill="#122848"/>
<rect x="236.97" y="515.20" width="3.83" height="3.83" fill="#27548f"/>
<rect x="198.81" y="519.01" width="3.83" height="3.83" fill="#122848"/>
<rect x="225.52" y="519.01" width="3.83" height="3.83" fill="#27548f"/>
<rect x="229.34" y="519.01" width="3.83" height="3.83" fill="#1c3c6c"/>
<rect x="233.15" y="519.01" width="3.83" height="3.83" fill="#1c3c6c"/>
<rect x="240.78" y="519.01" width="3.83" height="3.83" fill="#0a1628"/>
<rect x="195.00" y="522.83" width="3.83" height="3.83" fill="#1c3c6c"/>
<rect x="206.44" y="522.83" width="3.83" height="3.83" fill="#0a1628"/>
<rect x="233.15" y="522.83" width="3.83" height="3.83" fill="#122848"/>
<rect x="244.59" y="522.83" width="3.83" height="3.83" fill="#122848"/>
<rect x="210.26" y="526.64" width="3.83" height="3.83" fill="#1c3c6c"/>
<rect x="233.15" y="526.64" width="3.83" height="3.83" fill="#1c3c6c"/>
<rect x="236.97" y="526.64" width="3.83" height="3.83" fill="#122848"/>
<rect x="256.04" y="526.64" width="3.83" height="3.83" fill="#27548f"/>
<rect x="263.67" y="526.64" width="3.83" height="3.83" fill="#122848"/>
</g></g>
<rect x="225.10" y="485.90" width="21.60" height="19.90" rx="2" fill="none" stroke="#c41a56" stroke-width="2" stroke-dasharray="6.7 3"/>
<text x="235.8" y="464.6" font-size="15.2" textLength="32.8" lengthAdjust="spacingAndGlyphs" text-anchor="middle" fill="#111" stroke="#111" stroke-width="0.22">24.5</text>
<clipPath id="cp12"><rect x="273" y="467.8" width="76" height="62.5"/></clipPath>
<rect x="273" y="467.8" width="76" height="62.5" fill="#000"/>
<g clip-path="url(#cp12)"><g filter="url(#pblur)">
<rect x="273.00" y="465.61" width="3.83" height="3.83" fill="#0a1628"/>
<rect x="288.26" y="465.61" width="3.83" height="3.83" fill="#122848"/>
<rect x="311.15" y="465.61" width="3.83" height="3.83" fill="#122848"/>
<rect x="314.96" y="465.61" width="3.83" height="3.83" fill="#122848"/>
<rect x="322.60" y="465.61" width="3.83" height="3.83" fill="#0a1628"/>
<rect x="307.33" y="469.42" width="3.83" height="3.83" fill="#122848"/>
<rect x="280.63" y="473.24" width="3.83" height="3.83" fill="#1c3c6c"/>
<rect x="303.52" y="473.24" width="3.83" height="3.83" fill="#122848"/>
<rect x="307.33" y="473.24" width="3.83" height="3.83" fill="#27548f"/>
<rect x="337.86" y="473.24" width="3.83" height="3.83" fill="#0a1628"/>
<rect x="288.26" y="477.05" width="3.83" height="3.83" fill="#122848"/>
<rect x="318.78" y="477.05" width="3.83" height="3.83" fill="#27548f"/>
<rect x="280.63" y="480.87" width="3.83" height="3.83" fill="#122848"/>
<rect x="311.15" y="480.87" width="3.83" height="3.83" fill="#0a1628"/>
<rect x="299.70" y="484.68" width="3.83" height="3.83" fill="#3468b0"/>
<rect x="292.07" y="488.50" width="3.83" height="3.83" fill="#1c3c6c"/>
<rect x="318.78" y="488.50" width="3.83" height="3.83" fill="#1c3c6c"/>
<rect x="330.23" y="488.50" width="3.83" height="3.83" fill="#1c3c6c"/>
<rect x="345.49" y="488.50" width="3.83" height="3.83" fill="#0a1628"/>
<rect x="288.26" y="492.31" width="3.83" height="3.83" fill="#3468b0"/>
<rect x="292.07" y="492.31" width="3.83" height="3.83" fill="#3a8c98"/>
<rect x="326.41" y="492.31" width="3.83" height="3.83" fill="#3468b0"/>
<rect x="341.67" y="492.31" width="3.83" height="3.83" fill="#122848"/>
<rect x="273.00" y="496.12" width="3.83" height="3.83" fill="#122848"/>
<rect x="276.81" y="496.12" width="3.83" height="3.83" fill="#122848"/>
<rect x="288.26" y="496.12" width="3.83" height="3.83" fill="#27548f"/>
<rect x="341.67" y="496.12" width="3.83" height="3.83" fill="#0a1628"/>
<rect x="330.23" y="499.94" width="3.83" height="3.83" fill="#27548f"/>
<rect x="284.44" y="503.75" width="3.83" height="3.83" fill="#122848"/>
<rect x="311.15" y="503.75" width="3.83" height="3.83" fill="#1c3c6c"/>
<rect x="330.23" y="503.75" width="3.83" height="3.83" fill="#3468b0"/>
<rect x="345.49" y="503.75" width="3.83" height="3.83" fill="#0a1628"/>
<rect x="303.52" y="507.57" width="3.83" height="3.83" fill="#0a1628"/>
<rect x="307.33" y="507.57" width="3.83" height="3.83" fill="#0a1628"/>
<rect x="311.15" y="507.57" width="3.83" height="3.83" fill="#0a1628"/>
<rect x="326.41" y="507.57" width="3.83" height="3.83" fill="#0a1628"/>
<rect x="345.49" y="507.57" width="3.83" height="3.83" fill="#122848"/>
<rect x="322.60" y="511.38" width="3.83" height="3.83" fill="#122848"/>
<rect x="341.67" y="511.38" width="3.83" height="3.83" fill="#3468b0"/>
<rect x="341.67" y="515.20" width="3.83" height="3.83" fill="#122848"/>
<rect x="311.15" y="519.01" width="3.83" height="3.83" fill="#122848"/>
<rect x="337.86" y="519.01" width="3.83" height="3.83" fill="#1c3c6c"/>
<rect x="276.81" y="522.83" width="3.83" height="3.83" fill="#0a1628"/>
<rect x="322.60" y="522.83" width="3.83" height="3.83" fill="#1c3c6c"/>
<rect x="326.41" y="522.83" width="3.83" height="3.83" fill="#122848"/>
<rect x="330.23" y="522.83" width="3.83" height="3.83" fill="#0a1628"/>
<rect x="334.04" y="522.83" width="3.83" height="3.83" fill="#0a1628"/>
<rect x="345.49" y="522.83" width="3.83" height="3.83" fill="#0a1628"/>
<rect x="284.44" y="526.64" width="3.83" height="3.83" fill="#1c3c6c"/>
<rect x="288.26" y="526.64" width="3.83" height="3.83" fill="#122848"/>
<rect x="322.60" y="526.64" width="3.83" height="3.83" fill="#3468b0"/>
<rect x="326.41" y="526.64" width="3.83" height="3.83" fill="#27548f"/>
</g></g>
<rect x="303.10" y="485.90" width="21.60" height="19.90" rx="2" fill="none" stroke="#c41a56" stroke-width="2" stroke-dasharray="6.7 3"/>
<text x="313.8" y="464.6" font-size="15.2" textLength="32.8" lengthAdjust="spacingAndGlyphs" text-anchor="middle" fill="#111" stroke="#111" stroke-width="0.22">36.5</text>
<clipPath id="cp13"><rect x="351" y="467.8" width="76" height="62.5"/></clipPath>
<rect x="351" y="467.8" width="76" height="62.5" fill="#000"/>
<g clip-path="url(#cp13)"><g filter="url(#pblur)">
<rect x="354.81" y="465.61" width="3.83" height="3.83" fill="#1c3c6c"/>
<rect x="358.63" y="465.61" width="3.83" height="3.83" fill="#27548f"/>
<rect x="362.44" y="465.61" width="3.83" height="3.83" fill="#122848"/>
<rect x="381.52" y="465.61" width="3.83" height="3.83" fill="#27548f"/>
<rect x="396.78" y="465.61" width="3.83" height="3.83" fill="#0a1628"/>
<rect x="423.49" y="465.61" width="3.83" height="3.83" fill="#122848"/>
<rect x="354.81" y="469.42" width="3.83" height="3.83" fill="#1c3c6c"/>
<rect x="358.63" y="469.42" width="3.83" height="3.83" fill="#1c3c6c"/>
<rect x="362.44" y="469.42" width="3.83" height="3.83" fill="#122848"/>
<rect x="377.70" y="473.24" width="3.83" height="3.83" fill="#122848"/>
<rect x="381.52" y="473.24" width="3.83" height="3.83" fill="#3468b0"/>
<rect x="385.33" y="473.24" width="3.83" height="3.83" fill="#122848"/>
<rect x="389.15" y="473.24" width="3.83" height="3.83" fill="#3468b0"/>
<rect x="392.96" y="473.24" width="3.83" height="3.83" fill="#0a1628"/>
<rect x="400.60" y="473.24" width="3.83" height="3.83" fill="#1c3c6c"/>
<rect x="404.41" y="473.24" width="3.83" height="3.83" fill="#0a1628"/>
<rect x="408.23" y="473.24" width="3.83" height="3.83" fill="#0a1628"/>
<rect x="377.70" y="477.05" width="3.83" height="3.83" fill="#0a1628"/>
<rect x="381.52" y="477.05" width="3.83" height="3.83" fill="#122848"/>
<rect x="385.33" y="477.05" width="3.83" height="3.83" fill="#0a1628"/>
<rect x="396.78" y="477.05" width="3.83" height="3.83" fill="#122848"/>
<rect x="373.89" y="480.87" width="3.83" height="3.83" fill="#27548f"/>
<rect x="377.70" y="480.87" width="3.83" height="3.83" fill="#27548f"/>
<rect x="351.00" y="484.68" width="3.83" height="3.83" fill="#46b872"/>
<rect x="373.89" y="484.68" width="3.83" height="3.83" fill="#1c3c6c"/>
<rect x="392.96" y="484.68" width="3.83" height="3.83" fill="#122848"/>
<rect x="412.04" y="484.68" width="3.83" height="3.83" fill="#1c3c6c"/>
<rect x="415.86" y="484.68" width="3.83" height="3.83" fill="#122848"/>
<rect x="370.07" y="492.31" width="3.83" height="3.83" fill="#0a1628"/>
<rect x="377.70" y="492.31" width="3.83" height="3.83" fill="#122848"/>
<rect x="396.78" y="492.31" width="3.83" height="3.83" fill="#1c3c6c"/>
<rect x="400.60" y="492.31" width="3.83" height="3.83" fill="#1c3c6c"/>
<rect x="408.23" y="492.31" width="3.83" height="3.83" fill="#122848"/>
<rect x="392.96" y="496.12" width="3.83" height="3.83" fill="#122848"/>
<rect x="396.78" y="496.12" width="3.83" height="3.83" fill="#1c3c6c"/>
<rect x="373.89" y="499.94" width="3.83" height="3.83" fill="#3468b0"/>
<rect x="377.70" y="499.94" width="3.83" height="3.83" fill="#27548f"/>
<rect x="396.78" y="499.94" width="3.83" height="3.83" fill="#1c3c6c"/>
<rect x="351.00" y="503.75" width="3.83" height="3.83" fill="#27548f"/>
<rect x="373.89" y="503.75" width="3.83" height="3.83" fill="#0a1628"/>
<rect x="408.23" y="503.75" width="3.83" height="3.83" fill="#3468b0"/>
<rect x="351.00" y="507.57" width="3.83" height="3.83" fill="#27548f"/>
<rect x="419.67" y="507.57" width="3.83" height="3.83" fill="#122848"/>
<rect x="351.00" y="511.38" width="3.83" height="3.83" fill="#122848"/>
<rect x="366.26" y="511.38" width="3.83" height="3.83" fill="#122848"/>
<rect x="377.70" y="511.38" width="3.83" height="3.83" fill="#1c3c6c"/>
<rect x="408.23" y="511.38" width="3.83" height="3.83" fill="#1c3c6c"/>
<rect x="412.04" y="511.38" width="3.83" height="3.83" fill="#1c3c6c"/>
<rect x="415.86" y="511.38" width="3.83" height="3.83" fill="#1c3c6c"/>
<rect x="392.96" y="515.20" width="3.83" height="3.83" fill="#0a1628"/>
<rect x="408.23" y="515.20" width="3.83" height="3.83" fill="#3468b0"/>
<rect x="373.89" y="519.01" width="3.83" height="3.83" fill="#0a1628"/>
<rect x="392.96" y="519.01" width="3.83" height="3.83" fill="#27548f"/>
<rect x="400.60" y="519.01" width="3.83" height="3.83" fill="#122848"/>
<rect x="392.96" y="522.83" width="3.83" height="3.83" fill="#122848"/>
<rect x="396.78" y="522.83" width="3.83" height="3.83" fill="#4380c4"/>
<rect x="423.49" y="522.83" width="3.83" height="3.83" fill="#0a1628"/>
<rect x="351.00" y="526.64" width="3.83" height="3.83" fill="#122848"/>
<rect x="389.15" y="526.64" width="3.83" height="3.83" fill="#0a1628"/>
</g></g>
<rect x="381.10" y="485.90" width="21.60" height="19.90" rx="2" fill="none" stroke="#c41a56" stroke-width="2" stroke-dasharray="6.7 3"/>
<text x="391.8" y="464.6" font-size="15.2" textLength="32.8" lengthAdjust="spacingAndGlyphs" text-anchor="middle" fill="#111" stroke="#111" stroke-width="0.22">48.5</text>
<clipPath id="cp14"><rect x="429" y="467.8" width="76" height="62.5"/></clipPath>
<rect x="429" y="467.8" width="76" height="62.5" fill="#000"/>
<g clip-path="url(#cp14)"><g filter="url(#pblur)">
<rect x="429.00" y="465.61" width="3.83" height="3.83" fill="#1c3c6c"/>
<rect x="478.60" y="465.61" width="3.83" height="3.83" fill="#122848"/>
<rect x="493.86" y="469.42" width="3.83" height="3.83" fill="#0a1628"/>
<rect x="429.00" y="473.24" width="3.83" height="3.83" fill="#122848"/>
<rect x="448.07" y="473.24" width="3.83" height="3.83" fill="#122848"/>
<rect x="470.96" y="473.24" width="3.83" height="3.83" fill="#1c3c6c"/>
<rect x="451.89" y="477.05" width="3.83" height="3.83" fill="#122848"/>
<rect x="448.07" y="484.68" width="3.83" height="3.83" fill="#1c3c6c"/>
<rect x="463.33" y="484.68" width="3.83" height="3.83" fill="#27548f"/>
<rect x="501.49" y="484.68" width="3.83" height="3.83" fill="#1c3c6c"/>
<rect x="429.00" y="488.50" width="3.83" height="3.83" fill="#27548f"/>
<rect x="440.44" y="488.50" width="3.83" height="3.83" fill="#122848"/>
<rect x="448.07" y="488.50" width="3.83" height="3.83" fill="#3468b0"/>
<rect x="451.89" y="488.50" width="3.83" height="3.83" fill="#27548f"/>
<rect x="470.96" y="488.50" width="3.83" height="3.83" fill="#122848"/>
<rect x="474.78" y="488.50" width="3.83" height="3.83" fill="#0a1628"/>
<rect x="470.96" y="492.31" width="3.83" height="3.83" fill="#1c3c6c"/>
<rect x="474.78" y="492.31" width="3.83" height="3.83" fill="#122848"/>
<rect x="486.23" y="492.31" width="3.83" height="3.83" fill="#0a1628"/>
<rect x="429.00" y="496.12" width="3.83" height="3.83" fill="#0a1628"/>
<rect x="486.23" y="496.12" width="3.83" height="3.83" fill="#122848"/>
<rect x="440.44" y="499.94" width="3.83" height="3.83" fill="#122848"/>
<rect x="451.89" y="499.94" width="3.83" height="3.83" fill="#1c3c6c"/>
<rect x="482.41" y="499.94" width="3.83" height="3.83" fill="#27548f"/>
<rect x="444.26" y="503.75" width="3.83" height="3.83" fill="#122848"/>
<rect x="451.89" y="503.75" width="3.83" height="3.83" fill="#122848"/>
<rect x="451.89" y="507.57" width="3.83" height="3.83" fill="#122848"/>
<rect x="486.23" y="507.57" width="3.83" height="3.83" fill="#122848"/>
<rect x="451.89" y="515.20" width="3.83" height="3.83" fill="#27548f"/>
<rect x="455.70" y="515.20" width="3.83" height="3.83" fill="#1c3c6c"/>
<rect x="463.33" y="515.20" width="3.83" height="3.83" fill="#122848"/>
<rect x="432.81" y="519.01" width="3.83" height="3.83" fill="#3468b0"/>
<rect x="448.07" y="519.01" width="3.83" height="3.83" fill="#0a1628"/>
<rect x="493.86" y="519.01" width="3.83" height="3.83" fill="#0a1628"/>
<rect x="497.67" y="519.01" width="3.83" height="3.83" fill="#0a1628"/>
<rect x="444.26" y="522.83" width="3.83" height="3.83" fill="#122848"/>
<rect x="455.70" y="522.83" width="3.83" height="3.83" fill="#1c3c6c"/>
<rect x="459.52" y="522.83" width="3.83" height="3.83" fill="#27548f"/>
<rect x="493.86" y="522.83" width="3.83" height="3.83" fill="#27548f"/>
<rect x="497.67" y="522.83" width="3.83" height="3.83" fill="#122848"/>
<rect x="501.49" y="526.64" width="3.83" height="3.83" fill="#122848"/>
</g></g>
<rect x="459.10" y="485.90" width="21.60" height="19.90" rx="2" fill="none" stroke="#c41a56" stroke-width="2" stroke-dasharray="6.7 3"/>
<text x="469.8" y="464.6" font-size="15.2" textLength="32.8" lengthAdjust="spacingAndGlyphs" text-anchor="middle" fill="#111" stroke="#111" stroke-width="0.22">60.5</text>
<clipPath id="cp15"><rect x="507" y="467.8" width="76" height="62.5"/></clipPath>
<rect x="507" y="467.8" width="76" height="62.5" fill="#000"/>
<g clip-path="url(#cp15)"><g filter="url(#pblur)">
<rect x="548.97" y="465.61" width="3.83" height="3.83" fill="#122848"/>
<rect x="556.60" y="465.61" width="3.83" height="3.83" fill="#0a1628"/>
<rect x="556.60" y="469.42" width="3.83" height="3.83" fill="#122848"/>
<rect x="507.00" y="473.24" width="3.83" height="3.83" fill="#122848"/>
<rect x="548.97" y="473.24" width="3.83" height="3.83" fill="#122848"/>
<rect x="552.78" y="473.24" width="3.83" height="3.83" fill="#122848"/>
<rect x="507.00" y="477.05" width="3.83" height="3.83" fill="#122848"/>
<rect x="529.89" y="477.05" width="3.83" height="3.83" fill="#122848"/>
<rect x="533.71" y="477.05" width="3.83" height="3.83" fill="#122848"/>
<rect x="541.34" y="477.05" width="3.83" height="3.83" fill="#27548f"/>
<rect x="541.34" y="480.87" width="3.83" height="3.83" fill="#122848"/>
<rect x="548.97" y="480.87" width="3.83" height="3.83" fill="#0a1628"/>
<rect x="552.78" y="480.87" width="3.83" height="3.83" fill="#0a1628"/>
<rect x="537.52" y="484.68" width="3.83" height="3.83" fill="#122848"/>
<rect x="560.41" y="484.68" width="3.83" height="3.83" fill="#1c3c6c"/>
<rect x="564.23" y="484.68" width="3.83" height="3.83" fill="#1c3c6c"/>
<rect x="529.89" y="492.31" width="3.83" height="3.83" fill="#122848"/>
<rect x="537.52" y="496.12" width="3.83" height="3.83" fill="#0a1628"/>
<rect x="522.26" y="499.94" width="3.83" height="3.83" fill="#122848"/>
<rect x="537.52" y="499.94" width="3.83" height="3.83" fill="#122848"/>
<rect x="545.15" y="499.94" width="3.83" height="3.83" fill="#3468b0"/>
<rect x="548.97" y="499.94" width="3.83" height="3.83" fill="#3468b0"/>
<rect x="552.78" y="499.94" width="3.83" height="3.83" fill="#122848"/>
<rect x="522.26" y="503.75" width="3.83" height="3.83" fill="#122848"/>
<rect x="526.08" y="503.75" width="3.83" height="3.83" fill="#27548f"/>
<rect x="533.71" y="503.75" width="3.83" height="3.83" fill="#122848"/>
<rect x="537.52" y="503.75" width="3.83" height="3.83" fill="#0a1628"/>
<rect x="507.00" y="507.57" width="3.83" height="3.83" fill="#0a1628"/>
<rect x="529.89" y="507.57" width="3.83" height="3.83" fill="#27548f"/>
<rect x="533.71" y="507.57" width="3.83" height="3.83" fill="#0a1628"/>
<rect x="560.41" y="507.57" width="3.83" height="3.83" fill="#122848"/>
<rect x="568.04" y="507.57" width="3.83" height="3.83" fill="#0a1628"/>
<rect x="507.00" y="511.38" width="3.83" height="3.83" fill="#122848"/>
<rect x="552.78" y="511.38" width="3.83" height="3.83" fill="#1c3c6c"/>
<rect x="568.04" y="511.38" width="3.83" height="3.83" fill="#122848"/>
<rect x="571.86" y="511.38" width="3.83" height="3.83" fill="#27548f"/>
<rect x="575.67" y="511.38" width="3.83" height="3.83" fill="#122848"/>
<rect x="507.00" y="515.20" width="3.83" height="3.83" fill="#122848"/>
<rect x="526.08" y="515.20" width="3.83" height="3.83" fill="#0a1628"/>
<rect x="541.34" y="515.20" width="3.83" height="3.83" fill="#122848"/>
<rect x="548.97" y="515.20" width="3.83" height="3.83" fill="#122848"/>
<rect x="552.78" y="515.20" width="3.83" height="3.83" fill="#122848"/>
<rect x="571.86" y="515.20" width="3.83" height="3.83" fill="#122848"/>
<rect x="529.89" y="519.01" width="3.83" height="3.83" fill="#122848"/>
<rect x="541.34" y="519.01" width="3.83" height="3.83" fill="#122848"/>
<rect x="548.97" y="519.01" width="3.83" height="3.83" fill="#122848"/>
<rect x="529.89" y="522.83" width="3.83" height="3.83" fill="#122848"/>
<rect x="571.86" y="522.83" width="3.83" height="3.83" fill="#0a1628"/>
<rect x="575.67" y="522.83" width="3.83" height="3.83" fill="#122848"/>
<rect x="507.00" y="526.64" width="3.83" height="3.83" fill="#27548f"/>
<rect x="564.23" y="526.64" width="3.83" height="3.83" fill="#0a1628"/>
<rect x="575.67" y="526.64" width="3.83" height="3.83" fill="#0a1628"/>
</g></g>
<rect x="537.10" y="485.90" width="21.60" height="19.90" rx="2" fill="none" stroke="#c41a56" stroke-width="2" stroke-dasharray="6.7 3"/>
<text x="547.8" y="464.6" font-size="15.2" textLength="32.8" lengthAdjust="spacingAndGlyphs" text-anchor="middle" fill="#111" stroke="#111" stroke-width="0.22">72.5</text>
<clipPath id="cp16"><rect x="585" y="467.8" width="76" height="62.5"/></clipPath>
<rect x="585" y="467.8" width="76" height="62.5" fill="#000"/>
<g clip-path="url(#cp16)"><g filter="url(#pblur)">
<rect x="596.45" y="465.61" width="3.83" height="3.83" fill="#1c3c6c"/>
<rect x="630.78" y="465.61" width="3.83" height="3.83" fill="#122848"/>
<rect x="585.00" y="469.42" width="3.83" height="3.83" fill="#1c3c6c"/>
<rect x="588.82" y="469.42" width="3.83" height="3.83" fill="#1c3c6c"/>
<rect x="592.63" y="469.42" width="3.83" height="3.83" fill="#1c3c6c"/>
<rect x="596.45" y="469.42" width="3.83" height="3.83" fill="#122848"/>
<rect x="611.71" y="469.42" width="3.83" height="3.83" fill="#122848"/>
<rect x="649.86" y="469.42" width="3.83" height="3.83" fill="#1c3c6c"/>
<rect x="585.00" y="473.24" width="3.83" height="3.83" fill="#122848"/>
<rect x="588.82" y="473.24" width="3.83" height="3.83" fill="#1c3c6c"/>
<rect x="592.63" y="473.24" width="3.83" height="3.83" fill="#122848"/>
<rect x="596.45" y="473.24" width="3.83" height="3.83" fill="#122848"/>
<rect x="604.08" y="473.24" width="3.83" height="3.83" fill="#3468b0"/>
<rect x="607.89" y="473.24" width="3.83" height="3.83" fill="#1c3c6c"/>
<rect x="611.71" y="473.24" width="3.83" height="3.83" fill="#122848"/>
<rect x="604.08" y="477.05" width="3.83" height="3.83" fill="#0a1628"/>
<rect x="619.34" y="477.05" width="3.83" height="3.83" fill="#1c3c6c"/>
<rect x="634.60" y="477.05" width="3.83" height="3.83" fill="#1c3c6c"/>
<rect x="592.63" y="480.87" width="3.83" height="3.83" fill="#0a1628"/>
<rect x="630.78" y="480.87" width="3.83" height="3.83" fill="#0a1628"/>
<rect x="619.34" y="484.68" width="3.83" height="3.83" fill="#27548f"/>
<rect x="642.23" y="484.68" width="3.83" height="3.83" fill="#0a1628"/>
<rect x="585.00" y="488.50" width="3.83" height="3.83" fill="#122848"/>
<rect x="600.26" y="488.50" width="3.83" height="3.83" fill="#0a1628"/>
<rect x="607.89" y="488.50" width="3.83" height="3.83" fill="#122848"/>
<rect x="611.71" y="488.50" width="3.83" height="3.83" fill="#4380c4"/>
<rect x="615.52" y="488.50" width="3.83" height="3.83" fill="#1c3c6c"/>
<rect x="619.34" y="488.50" width="3.83" height="3.83" fill="#122848"/>
<rect x="626.97" y="488.50" width="3.83" height="3.83" fill="#3468b0"/>
<rect x="642.23" y="488.50" width="3.83" height="3.83" fill="#122848"/>
<rect x="646.04" y="488.50" width="3.83" height="3.83" fill="#122848"/>
<rect x="596.45" y="492.31" width="3.83" height="3.83" fill="#122848"/>
<rect x="600.26" y="492.31" width="3.83" height="3.83" fill="#27548f"/>
<rect x="619.34" y="492.31" width="3.83" height="3.83" fill="#122848"/>
<rect x="623.15" y="492.31" width="3.83" height="3.83" fill="#122848"/>
<rect x="642.23" y="492.31" width="3.83" height="3.83" fill="#122848"/>
<rect x="585.00" y="496.12" width="3.83" height="3.83" fill="#3468b0"/>
<rect x="600.26" y="496.12" width="3.83" height="3.83" fill="#1c3c6c"/>
<rect x="604.08" y="496.12" width="3.83" height="3.83" fill="#1c3c6c"/>
<rect x="607.89" y="496.12" width="3.83" height="3.83" fill="#1c3c6c"/>
<rect x="642.23" y="496.12" width="3.83" height="3.83" fill="#1c3c6c"/>
<rect x="646.04" y="496.12" width="3.83" height="3.83" fill="#122848"/>
<rect x="649.86" y="496.12" width="3.83" height="3.83" fill="#1c3c6c"/>
<rect x="604.08" y="499.94" width="3.83" height="3.83" fill="#0a1628"/>
<rect x="607.89" y="499.94" width="3.83" height="3.83" fill="#0a1628"/>
<rect x="630.78" y="499.94" width="3.83" height="3.83" fill="#0a1628"/>
<rect x="646.04" y="499.94" width="3.83" height="3.83" fill="#122848"/>
<rect x="592.63" y="503.75" width="3.83" height="3.83" fill="#0a1628"/>
<rect x="630.78" y="503.75" width="3.83" height="3.83" fill="#122848"/>
<rect x="585.00" y="507.57" width="3.83" height="3.83" fill="#1c3c6c"/>
<rect x="615.52" y="507.57" width="3.83" height="3.83" fill="#122848"/>
<rect x="630.78" y="507.57" width="3.83" height="3.83" fill="#1c3c6c"/>
<rect x="634.60" y="507.57" width="3.83" height="3.83" fill="#122848"/>
<rect x="585.00" y="511.38" width="3.83" height="3.83" fill="#0a1628"/>
<rect x="630.78" y="515.20" width="3.83" height="3.83" fill="#122848"/>
<rect x="638.41" y="519.01" width="3.83" height="3.83" fill="#0a1628"/>
<rect x="649.86" y="522.83" width="3.83" height="3.83" fill="#0a1628"/>
<rect x="611.71" y="526.64" width="3.83" height="3.83" fill="#122848"/>
<rect x="615.52" y="526.64" width="3.83" height="3.83" fill="#27548f"/>
<rect x="619.34" y="526.64" width="3.83" height="3.83" fill="#1c3c6c"/>
<rect x="634.60" y="526.64" width="3.83" height="3.83" fill="#0a1628"/>
<rect x="657.49" y="526.64" width="3.83" height="3.83" fill="#122848"/>
</g></g>
<rect x="615.10" y="485.90" width="21.60" height="19.90" rx="2" fill="none" stroke="#c41a56" stroke-width="2" stroke-dasharray="6.7 3"/>
<text x="625.8" y="464.6" font-size="15.2" textLength="32.8" lengthAdjust="spacingAndGlyphs" text-anchor="middle" fill="#111" stroke="#111" stroke-width="0.22">84.5</text>
<text x="7.0" y="464.5" font-size="16.2" fill="#111" stroke="#111" stroke-width="0.22">Time (s)</text>
<text x="67.7" y="464.6" font-size="15.2" textLength="23.6" lengthAdjust="spacingAndGlyphs" fill="#111" stroke="#111" stroke-width="0.22">0.5</text>
<line x1="625.5" x2="654" y1="509" y2="509" stroke="#fff" stroke-width="1.8"/>
<text x="639.8" y="520.3" font-size="12" font-weight="bold" text-anchor="middle" fill="#fff">2 μm</text>
<polyline points="59.00,562.60 60.04,566.57 61.08,570.45 62.12,574.26 63.16,577.98 64.20,581.63 65.24,585.20 66.28,588.70 67.32,592.12 68.36,595.47 69.40,598.76 70.44,601.97 71.48,605.12 72.52,608.20 73.56,611.22 74.60,614.17 75.64,617.06 76.68,619.89 77.72,622.67 78.76,625.38 79.80,628.04 80.84,630.64 81.88,633.19 82.92,635.69 83.96,638.13 85.01,640.52 86.05,642.87 87.09,645.16 88.13,647.41 89.17,649.60 90.21,651.76 91.25,653.87 92.29,655.93 93.33,657.95 94.37,659.93 95.41,661.87 96.45,663.76 97.49,665.62 98.53,667.44 99.57,669.22 100.61,670.97 101.65,672.67 102.69,674.34 103.73,675.98 104.77,677.58 105.81,679.15 106.85,680.69 107.89,682.19 108.93,683.67 109.97,685.11 111.01,686.52 112.05,687.91 113.09,689.26 114.13,690.58 115.17,691.88 116.21,693.15 117.25,694.40 118.29,695.62 119.33,696.81 120.37,697.98 121.41,699.12 122.45,700.24 123.49,701.34 124.53,702.41 125.57,703.46 126.61,704.49 127.65,705.50 128.69,706.49 129.73,707.45 130.77,708.40 131.81,709.33 132.85,710.23 133.89,711.12 134.93,711.99 135.97,712.84 137.02,713.68 138.06,714.49 139.10,715.29 140.14,716.07 141.18,716.84 142.22,717.59 143.26,718.32 144.30,719.04 145.34,719.75 146.38,720.44 147.42,721.11 148.46,721.77 149.50,722.42 150.54,723.06 151.58,723.68 152.62,724.28 153.66,724.88 154.70,725.46 155.74,726.03 156.78,726.59 157.82,727.14 158.86,727.67 159.90,728.20 160.94,728.71 161.98,729.21 163.02,729.70 164.06,730.19 165.10,730.66 166.14,731.12 167.18,731.57 168.22,732.02 169.26,732.45 170.30,732.87 171.34,733.29 172.38,733.70 173.42,734.10 174.46,734.49 175.50,734.87 176.54,735.24 177.58,735.61 178.62,735.97 179.66,736.32 180.70,736.66 181.74,737.00 182.78,737.33 183.82,737.65 184.86,737.97 185.90,738.28 186.94,738.58 187.98,738.88 189.03,739.17 190.07,739.45 191.11,739.73 192.15,740.00 193.19,740.27 194.23,740.53 195.27,740.79 196.31,741.04 197.35,741.28 198.39,741.52 199.43,741.76 200.47,741.99 201.51,742.21 202.55,742.44 203.59,742.65 204.63,742.86 205.67,743.07 206.71,743.27 207.75,743.47 208.79,743.67 209.83,743.86 210.87,744.04 211.91,744.23 212.95,744.41 213.99,744.58 215.03,744.75 216.07,744.92 217.11,745.08 218.15,745.25 219.19,745.40 220.23,745.56 221.27,745.71 222.31,745.86 223.35,746.00 224.39,746.14 225.43,746.28 226.47,746.42 227.51,746.55 228.55,746.68 229.59,746.81 230.63,746.93 231.67,747.06 232.71,747.18 233.75,747.29 234.79,747.41 235.83,747.52 236.87,747.63 237.91,747.74 238.95,747.84 239.99,747.95 241.04,748.05 242.08,748.15 243.12,748.25 244.16,748.34 245.20,748.43 246.24,748.52 247.28,748.61 248.32,748.70 249.36,748.79 250.40,748.87 251.44,748.95 252.48,749.03 253.52,749.11 254.56,749.19 255.60,749.26 256.64,749.34 257.68,749.41 258.72,749.48 259.76,749.55 260.80,749.62 261.84,749.68 262.88,749.75 263.92,749.81 264.96,749.87 266.00,749.94" fill="none" stroke="#000" stroke-width="2.8"/>
<polyline points="59.00,562.60 60.04,565.25 61.08,567.86 62.12,570.44 63.16,572.98 64.20,575.48 65.24,577.95 66.28,580.38 67.32,582.78 68.36,585.15 69.40,587.49 70.44,589.79 71.48,592.06 72.52,594.30 73.56,596.50 74.60,598.68 75.64,600.83 76.68,602.94 77.72,605.03 78.76,607.09 79.80,609.12 80.84,611.12 81.88,613.09 82.92,615.04 83.96,616.96 85.01,618.85 86.05,620.71 87.09,622.55 88.13,624.37 89.17,626.15 90.21,627.92 91.25,629.66 92.29,631.37 93.33,633.06 94.37,634.73 95.41,636.37 96.45,638.00 97.49,639.59 98.53,641.17 99.57,642.73 100.61,644.26 101.65,645.77 102.69,647.26 103.73,648.73 104.77,650.18 105.81,651.61 106.85,653.02 107.89,654.41 108.93,655.78 109.97,657.13 111.01,658.46 112.05,659.77 113.09,661.07 114.13,662.35 115.17,663.61 116.21,664.85 117.25,666.07 118.29,667.28 119.33,668.47 120.37,669.65 121.41,670.80 122.45,671.95 123.49,673.07 124.53,674.18 125.57,675.28 126.61,676.36 127.65,677.42 128.69,678.47 129.73,679.51 130.77,680.53 131.81,681.53 132.85,682.53 133.89,683.50 134.93,684.47 135.97,685.42 137.02,686.36 138.06,687.28 139.10,688.20 140.14,689.10 141.18,689.98 142.22,690.86 143.26,691.72 144.30,692.57 145.34,693.41 146.38,694.24 147.42,695.05 148.46,695.86 149.50,696.65 150.54,697.43 151.58,698.20 152.62,698.96 153.66,699.71 154.70,700.45 155.74,701.18 156.78,701.90 157.82,702.61 158.86,703.31 159.90,704.00 160.94,704.68 161.98,705.35 163.02,706.01 164.06,706.66 165.10,707.30 166.14,707.94 167.18,708.56 168.22,709.18 169.26,709.78 170.30,710.38 171.34,710.97 172.38,711.56 173.42,712.13 174.46,712.70 175.50,713.26 176.54,713.81 177.58,714.35 178.62,714.88 179.66,715.41 180.70,715.93 181.74,716.45 182.78,716.95 183.82,717.45 184.86,717.94 185.90,718.43 186.94,718.91 187.98,719.38 189.03,719.85 190.07,720.30 191.11,720.76 192.15,721.20 193.19,721.64 194.23,722.08 195.27,722.50 196.31,722.93 197.35,723.34 198.39,723.75 199.43,724.16 200.47,724.56 201.51,724.95 202.55,725.34 203.59,725.72 204.63,726.10 205.67,726.47 206.71,726.84 207.75,727.20 208.79,727.55 209.83,727.91 210.87,728.25 211.91,728.59 212.95,728.93 213.99,729.26 215.03,729.59 216.07,729.91 217.11,730.23 218.15,730.55 219.19,730.86 220.23,731.16 221.27,731.46 222.31,731.76 223.35,732.05 224.39,732.34 225.43,732.63 226.47,732.91 227.51,733.19 228.55,733.46 229.59,733.73 230.63,733.99 231.67,734.26 232.71,734.51 233.75,734.77 234.79,735.02 235.83,735.27 236.87,735.51 237.91,735.75 238.95,735.99 239.99,736.22 241.04,736.45 242.08,736.68 243.12,736.91 244.16,737.13 245.20,737.35 246.24,737.56 247.28,737.77 248.32,737.98 249.36,738.19 250.40,738.39 251.44,738.59 252.48,738.79 253.52,738.99 254.56,739.18 255.60,739.37 256.64,739.56 257.68,739.74 258.72,739.92 259.76,740.10 260.80,740.28 261.84,740.45 262.88,740.62 263.92,740.79 264.96,740.96 266.00,741.13" fill="none" stroke="#6cbf45" stroke-width="2.8"/>
<line x1="59.0" x2="59.0" y1="562.6" y2="753.5999999999999" stroke="#000" stroke-width="1.4"/>
<line x1="58.2" x2="266.5" y1="752.8" y2="752.8" stroke="#000" stroke-width="1.4"/>
<line x1="54.8" x2="59.0" y1="752.8" y2="752.8" stroke="#000" stroke-width="1.3"/>
<text x="38.6" y="759.1" font-size="14" fill="#111" stroke="#111" stroke-width="0.22">0</text>
<line x1="54.8" x2="59.0" y1="714.8" y2="714.8" stroke="#000" stroke-width="1.3"/>
<text x="27.4" y="721.1" font-size="14" fill="#111" stroke="#111" stroke-width="0.22">0<tspan dx="1.6">.</tspan><tspan dx="-2.6">2</tspan></text>
<line x1="54.8" x2="59.0" y1="676.7" y2="676.7" stroke="#000" stroke-width="1.3"/>
<text x="27.4" y="683.0" font-size="14" fill="#111" stroke="#111" stroke-width="0.22">0<tspan dx="1.6">.</tspan><tspan dx="-2.6">4</tspan></text>
<line x1="54.8" x2="59.0" y1="638.7" y2="638.7" stroke="#000" stroke-width="1.3"/>
<text x="27.4" y="645.0" font-size="14" fill="#111" stroke="#111" stroke-width="0.22">0<tspan dx="1.6">.</tspan><tspan dx="-2.6">6</tspan></text>
<line x1="54.8" x2="59.0" y1="600.6" y2="600.6" stroke="#000" stroke-width="1.3"/>
<text x="27.4" y="606.9" font-size="14" fill="#111" stroke="#111" stroke-width="0.22">0<tspan dx="1.6">.</tspan><tspan dx="-2.6">8</tspan></text>
<line x1="54.8" x2="59.0" y1="562.6" y2="562.6" stroke="#000" stroke-width="1.3"/>
<text x="38.6" y="568.9" font-size="14" fill="#111" stroke="#111" stroke-width="0.22">1</text>
<line x1="59.0" x2="59.0" y1="752.8" y2="757.0999999999999" stroke="#000" stroke-width="1.3"/>
<text x="55.1" y="776.8" font-size="14" fill="#111" stroke="#111" stroke-width="0.22">0</text>
<line x1="128.0" x2="128.0" y1="752.8" y2="757.0999999999999" stroke="#000" stroke-width="1.3"/>
<text x="119.6" y="776.8" font-size="14" letter-spacing="2" fill="#111" stroke="#111" stroke-width="0.22">20</text>
<line x1="197.0" x2="197.0" y1="752.8" y2="757.0999999999999" stroke="#000" stroke-width="1.3"/>
<text x="188.6" y="776.8" font-size="14" letter-spacing="2" fill="#111" stroke="#111" stroke-width="0.22">40</text>
<line x1="266.0" x2="266.0" y1="752.8" y2="757.0999999999999" stroke="#000" stroke-width="1.3"/>
<text x="257.6" y="776.8" font-size="14" letter-spacing="2" fill="#111" stroke="#111" stroke-width="0.22">60</text>
<text x="176" y="795" font-size="16" text-anchor="middle" fill="#111" stroke="#111" stroke-width="0.22">Time (s)</text>
<text x="0" y="0" transform="translate(25.5,661.5) rotate(-90)" font-size="16" text-anchor="middle" fill="#111" stroke="#111" stroke-width="0.22">Survival</text>
<text x="19" y="565.5" font-size="24" fill="#111" stroke="#111" stroke-width="0.22">b</text>
<rect x="324.65" y="624.64" width="7.07" height="59.86" fill="#878787" stroke="#5e5e5e" stroke-width="0.7"/>
<rect x="324.65" y="684.50" width="7.07" height="85.40" fill="#2f7634" stroke="#1f4a22" stroke-width="0.7"/>
<rect x="331.72" y="595.84" width="7.07" height="84.40" fill="#878787" stroke="#5e5e5e" stroke-width="0.7"/>
<rect x="331.72" y="680.24" width="7.07" height="89.66" fill="#2f7634" stroke="#1f4a22" stroke-width="0.7"/>
<rect x="338.79" y="552.76" width="7.07" height="88.91" fill="#878787" stroke="#5e5e5e" stroke-width="0.7"/>
<rect x="338.79" y="641.67" width="7.07" height="128.23" fill="#2f7634" stroke="#1f4a22" stroke-width="0.7"/>
<rect x="345.86" y="563.03" width="7.07" height="88.66" fill="#878787" stroke="#5e5e5e" stroke-width="0.7"/>
<rect x="345.86" y="651.69" width="7.07" height="118.21" fill="#2f7634" stroke="#1f4a22" stroke-width="0.7"/>
<rect x="352.93" y="565.54" width="7.07" height="72.88" fill="#878787" stroke="#5e5e5e" stroke-width="0.7"/>
<rect x="352.93" y="638.42" width="7.07" height="131.48" fill="#2f7634" stroke="#1f4a22" stroke-width="0.7"/>
<rect x="360.00" y="621.14" width="7.07" height="16.03" fill="#878787" stroke="#5e5e5e" stroke-width="0.7"/>
<rect x="360.00" y="637.16" width="7.07" height="132.74" fill="#2f7634" stroke="#1f4a22" stroke-width="0.7"/>
<rect x="367.07" y="633.66" width="7.07" height="23.29" fill="#878787" stroke="#5e5e5e" stroke-width="0.7"/>
<rect x="367.07" y="656.95" width="7.07" height="112.95" fill="#2f7634" stroke="#1f4a22" stroke-width="0.7"/>
<rect x="374.14" y="646.18" width="7.07" height="18.28" fill="#878787" stroke="#5e5e5e" stroke-width="0.7"/>
<rect x="374.14" y="664.46" width="7.07" height="105.44" fill="#2f7634" stroke="#1f4a22" stroke-width="0.7"/>
<rect x="381.21" y="679.24" width="7.07" height="15.78" fill="#5efb64" stroke="#4a7a4a" stroke-width="0.7"/>
<rect x="381.21" y="695.02" width="7.07" height="74.88" fill="#2f7634" stroke="#1f4a22" stroke-width="0.7"/>
<rect x="388.28" y="687.50" width="7.07" height="7.51" fill="#5efb64" stroke="#4a7a4a" stroke-width="0.7"/>
<rect x="388.28" y="695.02" width="7.07" height="74.88" fill="#2f7634" stroke="#1f4a22" stroke-width="0.7"/>
<rect x="395.35" y="682.24" width="7.07" height="37.82" fill="#5efb64" stroke="#4a7a4a" stroke-width="0.7"/>
<rect x="395.35" y="720.06" width="7.07" height="49.84" fill="#2f7634" stroke="#1f4a22" stroke-width="0.7"/>
<rect x="402.42" y="705.29" width="7.07" height="10.52" fill="#5efb64" stroke="#4a7a4a" stroke-width="0.7"/>
<rect x="402.42" y="715.80" width="7.07" height="54.10" fill="#2f7634" stroke="#1f4a22" stroke-width="0.7"/>
<rect x="409.49" y="700.78" width="7.07" height="27.80" fill="#5efb64" stroke="#4a7a4a" stroke-width="0.7"/>
<rect x="409.49" y="728.58" width="7.07" height="41.32" fill="#2f7634" stroke="#1f4a22" stroke-width="0.7"/>
<rect x="416.56" y="710.04" width="7.07" height="13.02" fill="#5efb64" stroke="#4a7a4a" stroke-width="0.7"/>
<rect x="416.56" y="723.07" width="7.07" height="46.83" fill="#2f7634" stroke="#1f4a22" stroke-width="0.7"/>
<rect x="423.63" y="714.30" width="7.07" height="34.06" fill="#5efb64" stroke="#4a7a4a" stroke-width="0.7"/>
<rect x="423.63" y="748.36" width="7.07" height="21.54" fill="#2f7634" stroke="#1f4a22" stroke-width="0.7"/>
<rect x="430.70" y="720.81" width="7.07" height="20.29" fill="#5efb64" stroke="#4a7a4a" stroke-width="0.7"/>
<rect x="430.70" y="741.10" width="7.07" height="28.80" fill="#2f7634" stroke="#1f4a22" stroke-width="0.7"/>
<rect x="437.77" y="718.06" width="7.07" height="16.03" fill="#5efb64" stroke="#4a7a4a" stroke-width="0.7"/>
<rect x="437.77" y="734.09" width="7.07" height="35.81" fill="#2f7634" stroke="#1f4a22" stroke-width="0.7"/>
<rect x="444.84" y="728.08" width="7.07" height="18.78" fill="#5efb64" stroke="#4a7a4a" stroke-width="0.7"/>
<rect x="444.84" y="746.86" width="7.07" height="23.04" fill="#2f7634" stroke="#1f4a22" stroke-width="0.7"/>
<rect x="451.91" y="725.07" width="7.07" height="29.30" fill="#5efb64" stroke="#4a7a4a" stroke-width="0.7"/>
<rect x="451.91" y="754.37" width="7.07" height="15.53" fill="#2f7634" stroke="#1f4a22" stroke-width="0.7"/>
<rect x="458.98" y="736.59" width="7.07" height="15.53" fill="#5efb64" stroke="#4a7a4a" stroke-width="0.7"/>
<rect x="458.98" y="752.12" width="7.07" height="17.78" fill="#2f7634" stroke="#1f4a22" stroke-width="0.7"/>
<rect x="466.05" y="735.09" width="7.07" height="11.77" fill="#5efb64" stroke="#4a7a4a" stroke-width="0.7"/>
<rect x="466.05" y="746.86" width="7.07" height="23.04" fill="#2f7634" stroke="#1f4a22" stroke-width="0.7"/>
<rect x="473.12" y="738.09" width="7.07" height="31.81" fill="#2f7634" stroke="#1f4a22" stroke-width="0.7"/>
<rect x="480.19" y="734.09" width="7.07" height="18.53" fill="#5efb64" stroke="#4a7a4a" stroke-width="0.7"/>
<rect x="480.19" y="752.62" width="7.07" height="17.28" fill="#2f7634" stroke="#1f4a22" stroke-width="0.7"/>
<rect x="487.26" y="742.35" width="7.07" height="14.78" fill="#5efb64" stroke="#4a7a4a" stroke-width="0.7"/>
<rect x="487.26" y="757.13" width="7.07" height="12.77" fill="#2f7634" stroke="#1f4a22" stroke-width="0.7"/>
<rect x="494.33" y="746.86" width="7.07" height="16.53" fill="#5efb64" stroke="#4a7a4a" stroke-width="0.7"/>
<rect x="494.33" y="763.39" width="7.07" height="6.51" fill="#2f7634" stroke="#1f4a22" stroke-width="0.7"/>
<rect x="501.40" y="749.86" width="7.07" height="4.26" fill="#5efb64" stroke="#4a7a4a" stroke-width="0.7"/>
<rect x="501.40" y="754.12" width="7.07" height="15.78" fill="#2f7634" stroke="#1f4a22" stroke-width="0.7"/>
<rect x="508.47" y="751.37" width="7.07" height="2.75" fill="#5efb64" stroke="#4a7a4a" stroke-width="0.7"/>
<rect x="508.47" y="754.12" width="7.07" height="15.78" fill="#2f7634" stroke="#1f4a22" stroke-width="0.7"/>
<rect x="515.54" y="750.37" width="7.07" height="1.75" fill="#5efb64" stroke="#4a7a4a" stroke-width="0.7"/>
<rect x="515.54" y="752.12" width="7.07" height="17.78" fill="#2f7634" stroke="#1f4a22" stroke-width="0.7"/>
<rect x="522.61" y="753.87" width="7.07" height="2.25" fill="#5efb64" stroke="#4a7a4a" stroke-width="0.7"/>
<rect x="522.61" y="756.13" width="7.07" height="13.77" fill="#2f7634" stroke="#1f4a22" stroke-width="0.7"/>
<rect x="529.68" y="752.87" width="7.07" height="8.01" fill="#5efb64" stroke="#4a7a4a" stroke-width="0.7"/>
<rect x="529.68" y="760.88" width="7.07" height="9.02" fill="#2f7634" stroke="#1f4a22" stroke-width="0.7"/>
<rect x="536.75" y="756.63" width="7.07" height="4.26" fill="#5efb64" stroke="#4a7a4a" stroke-width="0.7"/>
<rect x="536.75" y="760.88" width="7.07" height="9.02" fill="#2f7634" stroke="#1f4a22" stroke-width="0.7"/>
<rect x="543.82" y="758.63" width="7.07" height="6.26" fill="#5efb64" stroke="#4a7a4a" stroke-width="0.7"/>
<rect x="543.82" y="764.89" width="7.07" height="5.01" fill="#2f7634" stroke="#1f4a22" stroke-width="0.7"/>
<rect x="550.89" y="761.89" width="7.07" height="7.26" fill="#5efb64" stroke="#4a7a4a" stroke-width="0.7"/>
<rect x="550.89" y="769.15" width="7.07" height="0.75" fill="#2f7634" stroke="#1f4a22" stroke-width="0.7"/>
<rect x="557.96" y="761.89" width="7.07" height="0.50" fill="#5efb64" stroke="#4a7a4a" stroke-width="0.7"/>
<rect x="557.96" y="762.39" width="7.07" height="7.51" fill="#2f7634" stroke="#1f4a22" stroke-width="0.7"/>
<rect x="565.03" y="761.89" width="7.07" height="1.75" fill="#5efb64" stroke="#4a7a4a" stroke-width="0.7"/>
<rect x="565.03" y="763.64" width="7.07" height="6.26" fill="#2f7634" stroke="#1f4a22" stroke-width="0.7"/>
<rect x="572.10" y="762.39" width="7.07" height="3.01" fill="#5efb64" stroke="#4a7a4a" stroke-width="0.7"/>
<rect x="572.10" y="765.39" width="7.07" height="4.51" fill="#2f7634" stroke="#1f4a22" stroke-width="0.7"/>
<rect x="579.17" y="758.38" width="7.07" height="6.26" fill="#5efb64" stroke="#4a7a4a" stroke-width="0.7"/>
<rect x="579.17" y="764.64" width="7.07" height="5.26" fill="#2f7634" stroke="#1f4a22" stroke-width="0.7"/>
<rect x="586.24" y="758.38" width="7.07" height="4.26" fill="#5efb64" stroke="#4a7a4a" stroke-width="0.7"/>
<rect x="586.24" y="762.64" width="7.07" height="7.26" fill="#2f7634" stroke="#1f4a22" stroke-width="0.7"/>
<rect x="593.31" y="762.64" width="7.07" height="4.51" fill="#5efb64" stroke="#4a7a4a" stroke-width="0.7"/>
<rect x="593.31" y="767.15" width="7.07" height="2.75" fill="#2f7634" stroke="#1f4a22" stroke-width="0.7"/>
<rect x="600.38" y="763.39" width="7.07" height="3.01" fill="#5efb64" stroke="#4a7a4a" stroke-width="0.7"/>
<rect x="600.38" y="766.39" width="7.07" height="3.51" fill="#2f7634" stroke="#1f4a22" stroke-width="0.7"/>
<rect x="607.45" y="761.38" width="7.07" height="5.01" fill="#5efb64" stroke="#4a7a4a" stroke-width="0.7"/>
<rect x="607.45" y="766.39" width="7.07" height="3.51" fill="#2f7634" stroke="#1f4a22" stroke-width="0.7"/>
<rect x="614.52" y="764.89" width="7.07" height="5.01" fill="#2f7634" stroke="#1f4a22" stroke-width="0.7"/>
<rect x="621.59" y="763.89" width="7.07" height="1.75" fill="#878787" stroke="#5e5e5e" stroke-width="0.7"/>
<rect x="621.59" y="765.64" width="7.07" height="4.26" fill="#2f7634" stroke="#1f4a22" stroke-width="0.7"/>
<rect x="628.66" y="764.89" width="7.07" height="5.01" fill="#2f7634" stroke="#1f4a22" stroke-width="0.7"/>
<rect x="635.73" y="761.89" width="7.07" height="3.76" fill="#5efb64" stroke="#4a7a4a" stroke-width="0.7"/>
<rect x="635.73" y="765.64" width="7.07" height="4.26" fill="#2f7634" stroke="#1f4a22" stroke-width="0.7"/>
<rect x="642.80" y="766.39" width="7.07" height="3.51" fill="#2f7634" stroke="#1f4a22" stroke-width="0.7"/>
<rect x="649.87" y="765.64" width="7.07" height="2.25" fill="#5efb64" stroke="#4a7a4a" stroke-width="0.7"/>
<rect x="649.87" y="767.90" width="7.07" height="2.00" fill="#2f7634" stroke="#1f4a22" stroke-width="0.7"/>
<rect x="656.94" y="762.89" width="7.07" height="2.75" fill="#878787" stroke="#5e5e5e" stroke-width="0.7"/>
<rect x="656.94" y="765.64" width="7.07" height="4.26" fill="#2f7634" stroke="#1f4a22" stroke-width="0.7"/>
<rect x="664.01" y="761.89" width="7.07" height="3.76" fill="#5efb64" stroke="#4a7a4a" stroke-width="0.7"/>
<rect x="664.01" y="765.64" width="7.07" height="4.26" fill="#2f7634" stroke="#1f4a22" stroke-width="0.7"/>
<rect x="671.08" y="766.39" width="7.07" height="1.50" fill="#5efb64" stroke="#4a7a4a" stroke-width="0.7"/>
<rect x="671.08" y="767.90" width="7.07" height="2.00" fill="#2f7634" stroke="#1f4a22" stroke-width="0.7"/>
<polyline points="324.30,769.90 325.77,762.88 327.25,751.22 328.72,736.63 330.19,714.63 331.66,687.06 333.14,659.70 334.61,632.52 336.08,608.86 337.56,590.94 339.03,578.09 340.50,571.53 341.98,566.28 343.45,562.68 344.92,561.28 346.39,561.54 347.87,562.24 349.34,563.20 350.81,564.50 352.29,566.80 353.76,569.98 355.23,573.89 356.70,578.38 358.18,583.29 359.65,588.45 361.12,593.72 362.60,598.94 364.07,603.94 365.54,608.58 367.01,612.90 368.49,617.31 369.96,621.80 371.43,626.31 372.91,630.81 374.38,635.25 375.85,639.59 377.32,643.78 378.80,647.79 380.27,651.58 381.74,655.30 383.22,658.99 384.69,662.63 386.16,666.18 387.64,669.62 389.11,672.91 390.58,676.02 392.05,678.93 393.53,681.60 395.00,684.00 396.47,686.18 397.95,688.23 399.42,690.16 400.89,691.99 402.36,693.72 403.84,695.37 405.31,696.96 406.78,698.50 408.26,700.01 409.73,701.50 411.20,702.98 412.68,704.46 414.15,705.94 415.62,707.39 417.09,708.81 418.57,710.20 420.04,711.56 421.51,712.90 422.99,714.21 424.46,715.49 425.93,716.74 427.40,717.97 428.88,719.17 430.35,720.34 431.82,721.49 433.30,722.62 434.77,723.73 436.24,724.81 437.71,725.88 439.19,726.92 440.66,727.94 442.13,728.94 443.61,729.91 445.08,730.86 446.55,731.79 448.02,732.69 449.50,733.58 450.97,734.45 452.44,735.30 453.92,736.13 455.39,736.95 456.86,737.75 458.34,738.53 459.81,739.29 461.28,740.03 462.75,740.75 464.23,741.44 465.70,742.12 467.17,742.77 468.65,743.40 470.12,744.01 471.59,744.60 473.06,745.18 474.54,745.75 476.01,746.31 477.48,746.87 478.96,747.42 480.43,747.97 481.90,748.53 483.38,749.09 484.85,749.65 486.32,750.22 487.79,750.78 489.27,751.34 490.74,751.90 492.21,752.45 493.69,752.99 495.16,753.52 496.63,754.04 498.10,754.54 499.58,755.03 501.05,755.50 502.52,755.96 504.00,756.42 505.47,756.86 506.94,757.29 508.41,757.72 509.89,758.13 511.36,758.53 512.83,758.93 514.31,759.31 514.60,759.38 517.55,759.82 520.49,760.23 523.44,760.62 526.38,761.00 529.33,761.35 532.28,761.69 535.22,762.02 538.17,762.33 541.11,762.62 544.06,762.90 547.00,763.17 549.95,763.43 552.90,763.67 555.84,763.90 558.79,764.13 561.73,764.34 564.68,764.54 567.63,764.74 570.57,764.93 573.52,765.11 576.46,765.28 579.41,765.44 582.36,765.60 585.30,765.75 588.25,765.89 591.19,766.03 594.14,766.16 597.08,766.29 600.03,766.41 602.98,766.53 605.92,766.64 608.87,766.75 611.81,766.86 614.76,766.96 617.70,767.05 620.65,767.14 623.60,767.23 626.54,767.32 629.49,767.40 632.43,767.48 635.38,767.56 638.33,767.63 641.27,767.70 644.22,767.77 647.16,767.83 650.11,767.90 653.05,767.96 656.00,768.02 658.95,768.07 661.89,768.13 664.84,768.18 667.78,768.23 670.73,768.28 673.68,768.33 676.62,768.38" fill="none" stroke="#505050" stroke-width="1.7" stroke-linejoin="round"/>
<polyline points="324.30,769.90 325.77,766.87 327.25,762.08 328.72,755.94 330.19,748.86 331.66,740.41 333.14,728.22 334.61,713.76 336.08,698.89 337.56,685.50 339.03,675.01 340.50,665.85 341.98,657.94 343.45,651.46 344.92,645.76 346.39,641.19 347.87,637.94 349.34,634.99 350.81,632.54 352.29,630.99 353.76,630.65 355.23,630.65 356.70,630.65 358.18,630.65 359.65,630.95 361.12,631.82 362.60,633.01 364.07,634.31 365.54,635.60 367.01,637.12 368.49,638.83 369.96,640.71 371.43,642.73 372.91,644.85 374.38,647.04 375.85,649.26 377.32,651.49 378.80,653.68 380.27,655.81 381.74,657.85 383.22,659.92 384.69,662.03 386.16,664.18 387.64,666.32 389.11,668.45 390.58,670.52 392.05,672.53 393.53,674.44 395.00,676.23 396.47,677.92 397.95,679.55 399.42,681.12 400.89,682.64 402.36,684.12 403.84,685.57 405.31,686.99 406.78,688.39 408.26,689.77 409.73,691.16 411.20,692.54 412.68,693.93 414.15,695.33 415.62,696.72 417.09,698.10 418.57,699.48 420.04,700.84 421.51,702.18 422.99,703.51 424.46,704.83 425.93,706.11 427.40,707.38 428.88,708.62 430.35,709.83 431.82,711.02 433.30,712.18 434.77,713.33 436.24,714.46 437.71,715.57 439.19,716.67 440.66,717.75 442.13,718.81 443.61,719.87 445.08,720.91 446.55,721.95 448.02,722.98 449.50,724.00 450.97,725.02 452.44,726.03 453.92,727.04 455.39,728.03 456.86,729.01 458.34,729.97 459.81,730.91 461.28,731.83 462.75,732.72 464.23,733.58 465.70,734.42 467.17,735.24 468.65,736.04 470.12,736.83 471.59,737.60 473.06,738.36 474.54,739.10 476.01,739.82 477.48,740.52 478.96,741.20 480.43,741.85 481.90,742.48 483.38,743.09 484.85,743.69 486.32,744.28 487.79,744.86 489.27,745.43 490.74,745.97 492.21,746.50 493.69,747.01 495.16,747.50 496.63,747.95 498.10,748.39 499.58,748.79 501.05,749.16 502.52,749.52 504.00,749.87 505.47,750.21 506.94,750.53 508.41,750.83 509.89,751.11 511.36,751.37 512.83,751.61 514.31,751.83 514.60,751.87 517.55,752.49 520.49,753.08 523.44,753.65 526.38,754.20 529.33,754.72 532.28,755.23 535.22,755.71 538.17,756.18 541.11,756.62 544.06,757.05 547.00,757.47 549.95,757.86 552.90,758.25 555.84,758.62 558.79,758.97 561.73,759.31 564.68,759.64 567.63,759.96 570.57,760.26 573.52,760.55 576.46,760.84 579.41,761.11 582.36,761.37 585.30,761.63 588.25,761.87 591.19,762.11 594.14,762.34 597.08,762.56 600.03,762.77 602.98,762.97 605.92,763.17 608.87,763.36 611.81,763.55 614.76,763.73 617.70,763.90 620.65,764.07 623.60,764.23 626.54,764.38 629.49,764.54 632.43,764.68 635.38,764.82 638.33,764.96 641.27,765.09 644.22,765.22 647.16,765.35 650.11,765.47 653.05,765.58 656.00,765.70 658.95,765.80 661.89,765.91 664.84,766.01 667.78,766.11 670.73,766.21 673.68,766.30 676.62,766.39" fill="none" stroke="#1f5f22" stroke-width="1.8" stroke-linejoin="round"/>
<rect x="324.3" y="544.5" width="353.49999999999994" height="225.39999999999998" fill="none" stroke="#8a8a8a" stroke-width="1"/>
<line x1="324.3" x2="324.3" y1="769.9" y2="765.9" stroke="#8a8a8a" stroke-width="1"/>
<line x1="324.3" x2="324.3" y1="544.5" y2="548.5" stroke="#8a8a8a" stroke-width="1"/>
<text x="324.3" y="784.9" font-size="13.5" text-anchor="middle" fill="#222" stroke="#222" stroke-width="0.22">0</text>
<line x1="383.2" x2="383.2" y1="769.9" y2="765.9" stroke="#8a8a8a" stroke-width="1"/>
<line x1="383.2" x2="383.2" y1="544.5" y2="548.5" stroke="#8a8a8a" stroke-width="1"/>
<text x="383.2" y="784.9" font-size="13.5" text-anchor="middle" fill="#222" stroke="#222" stroke-width="0.22">10</text>
<line x1="442.1" x2="442.1" y1="769.9" y2="765.9" stroke="#8a8a8a" stroke-width="1"/>
<line x1="442.1" x2="442.1" y1="544.5" y2="548.5" stroke="#8a8a8a" stroke-width="1"/>
<text x="442.1" y="784.9" font-size="13.5" text-anchor="middle" fill="#222" stroke="#222" stroke-width="0.22">20</text>
<line x1="501.0" x2="501.0" y1="769.9" y2="765.9" stroke="#8a8a8a" stroke-width="1"/>
<line x1="501.0" x2="501.0" y1="544.5" y2="548.5" stroke="#8a8a8a" stroke-width="1"/>
<text x="501.0" y="784.9" font-size="13.5" text-anchor="middle" fill="#222" stroke="#222" stroke-width="0.22">30</text>
<line x1="560.0" x2="560.0" y1="769.9" y2="765.9" stroke="#8a8a8a" stroke-width="1"/>
<line x1="560.0" x2="560.0" y1="544.5" y2="548.5" stroke="#8a8a8a" stroke-width="1"/>
<text x="560.0" y="784.9" font-size="13.5" text-anchor="middle" fill="#222" stroke="#222" stroke-width="0.22">40</text>
<line x1="618.9" x2="618.9" y1="769.9" y2="765.9" stroke="#8a8a8a" stroke-width="1"/>
<line x1="618.9" x2="618.9" y1="544.5" y2="548.5" stroke="#8a8a8a" stroke-width="1"/>
<text x="618.9" y="784.9" font-size="13.5" text-anchor="middle" fill="#222" stroke="#222" stroke-width="0.22">50</text>
<line x1="677.8" x2="677.8" y1="769.9" y2="765.9" stroke="#8a8a8a" stroke-width="1"/>
<line x1="677.8" x2="677.8" y1="544.5" y2="548.5" stroke="#8a8a8a" stroke-width="1"/>
<text x="677.8" y="784.9" font-size="13.5" text-anchor="middle" fill="#222" stroke="#222" stroke-width="0.22">60</text>
<line x1="324.3" x2="328.3" y1="769.9" y2="769.9" stroke="#8a8a8a" stroke-width="1"/>
<line x1="677.8" x2="673.8" y1="769.9" y2="769.9" stroke="#8a8a8a" stroke-width="1"/>
<text x="319.8" y="774.7" font-size="13.5" text-anchor="end" fill="#222" stroke="#222" stroke-width="0.22">0</text>
<line x1="324.3" x2="328.3" y1="744.9" y2="744.9" stroke="#8a8a8a" stroke-width="1"/>
<line x1="677.8" x2="673.8" y1="744.9" y2="744.9" stroke="#8a8a8a" stroke-width="1"/>
<text x="319.8" y="749.7" font-size="13.5" text-anchor="end" fill="#222" stroke="#222" stroke-width="0.22">0.01</text>
<line x1="324.3" x2="328.3" y1="719.8" y2="719.8" stroke="#8a8a8a" stroke-width="1"/>
<line x1="677.8" x2="673.8" y1="719.8" y2="719.8" stroke="#8a8a8a" stroke-width="1"/>
<text x="319.8" y="724.6" font-size="13.5" text-anchor="end" fill="#222" stroke="#222" stroke-width="0.22">0.02</text>
<line x1="324.3" x2="328.3" y1="694.8" y2="694.8" stroke="#8a8a8a" stroke-width="1"/>
<line x1="677.8" x2="673.8" y1="694.8" y2="694.8" stroke="#8a8a8a" stroke-width="1"/>
<text x="319.8" y="699.6" font-size="13.5" text-anchor="end" fill="#222" stroke="#222" stroke-width="0.22">0.03</text>
<line x1="324.3" x2="328.3" y1="669.7" y2="669.7" stroke="#8a8a8a" stroke-width="1"/>
<line x1="677.8" x2="673.8" y1="669.7" y2="669.7" stroke="#8a8a8a" stroke-width="1"/>
<text x="319.8" y="674.5" font-size="13.5" text-anchor="end" fill="#222" stroke="#222" stroke-width="0.22">0.04</text>
<line x1="324.3" x2="328.3" y1="644.7" y2="644.7" stroke="#8a8a8a" stroke-width="1"/>
<line x1="677.8" x2="673.8" y1="644.7" y2="644.7" stroke="#8a8a8a" stroke-width="1"/>
<text x="319.8" y="649.5" font-size="13.5" text-anchor="end" fill="#222" stroke="#222" stroke-width="0.22">0.05</text>
<line x1="324.3" x2="328.3" y1="619.6" y2="619.6" stroke="#8a8a8a" stroke-width="1"/>
<line x1="677.8" x2="673.8" y1="619.6" y2="619.6" stroke="#8a8a8a" stroke-width="1"/>
<text x="319.8" y="624.4" font-size="13.5" text-anchor="end" fill="#222" stroke="#222" stroke-width="0.22">0.06</text>
<line x1="324.3" x2="328.3" y1="594.6" y2="594.6" stroke="#8a8a8a" stroke-width="1"/>
<line x1="677.8" x2="673.8" y1="594.6" y2="594.6" stroke="#8a8a8a" stroke-width="1"/>
<text x="319.8" y="599.4" font-size="13.5" text-anchor="end" fill="#222" stroke="#222" stroke-width="0.22">0.07</text>
<line x1="324.3" x2="328.3" y1="569.5" y2="569.5" stroke="#8a8a8a" stroke-width="1"/>
<line x1="677.8" x2="673.8" y1="569.5" y2="569.5" stroke="#8a8a8a" stroke-width="1"/>
<text x="319.8" y="574.3" font-size="13.5" text-anchor="end" fill="#222" stroke="#222" stroke-width="0.22">0.08</text>
<line x1="324.3" x2="328.3" y1="544.5" y2="544.5" stroke="#8a8a8a" stroke-width="1"/>
<line x1="677.8" x2="673.8" y1="544.5" y2="544.5" stroke="#8a8a8a" stroke-width="1"/>
<text x="319.8" y="549.3" font-size="13.5" text-anchor="end" fill="#222" stroke="#222" stroke-width="0.22">0.09</text>
<text x="502" y="797.5" font-size="13" text-anchor="middle" fill="#222" stroke="#222" stroke-width="0.22">Total on Time (seconds)</text>
<text x="0" y="0" transform="translate(291,657.3) rotate(-90)" font-size="13" text-anchor="middle" fill="#222" stroke="#222" stroke-width="0.22">Frequency</text>
<text x="263" y="566.5" font-size="22" font-weight="bold" fill="#111" stroke="#111" stroke-width="0.22">c</text>
</svg></body></html>
